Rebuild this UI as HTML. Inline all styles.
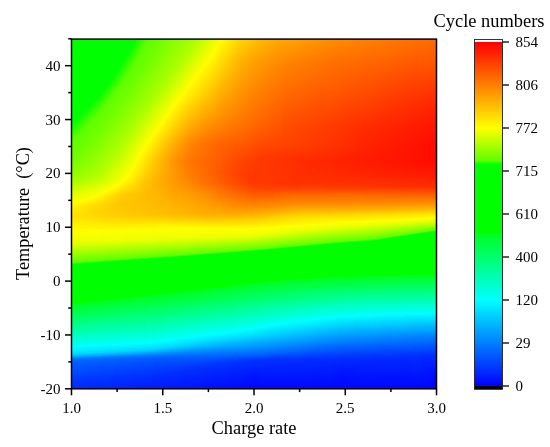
<!DOCTYPE html><html><head><meta charset="utf-8"><title>Cycle numbers</title><style>html,body{margin:0;padding:0;background:#fff}body{width:550px;height:447px;overflow:hidden}</style></head><body><svg width="550" height="447" viewBox="0 0 550 447" style="display:block"><rect width="550" height="447" fill="#fff"/><defs><linearGradient id="g0" x1="0" y1="0" x2="0" y2="1"><stop offset="0.001429" stop-color="#00ff00"/><stop offset="0.2386" stop-color="#01ff00"/><stop offset="0.2929" stop-color="#5eff00"/><stop offset="0.3443" stop-color="#6fff00"/><stop offset="0.3614" stop-color="#7bff00"/><stop offset="0.41" stop-color="#a9ff00"/><stop offset="0.4471" stop-color="#e8ff00"/><stop offset="0.4671" stop-color="#ffff00"/><stop offset="0.47" stop-color="#fffc00"/><stop offset="0.4843" stop-color="#ffef00"/><stop offset="0.5071" stop-color="#ffe200"/><stop offset="0.5529" stop-color="#ffff00"/><stop offset="0.5786" stop-color="#edff00"/><stop offset="0.5871" stop-color="#dcff00"/><stop offset="0.6357" stop-color="#64ff00"/><stop offset="0.6386" stop-color="#53ff00"/><stop offset="0.6443" stop-color="#00ff00"/><stop offset="0.7557" stop-color="#00ff00"/><stop offset="0.7586" stop-color="#00ff21"/><stop offset="0.8786" stop-color="#00fffd"/><stop offset="0.8929" stop-color="#00e7ff"/><stop offset="0.8986" stop-color="#00daff"/><stop offset="0.9014" stop-color="#00cfff"/><stop offset="0.9043" stop-color="#00beff"/><stop offset="0.9129" stop-color="#007dff"/><stop offset="0.9157" stop-color="#006eff"/><stop offset="0.9186" stop-color="#0066ff"/><stop offset="0.9243" stop-color="#005eff"/><stop offset="0.9729" stop-color="#0038ff"/><stop offset="0.9986" stop-color="#002aff"/></linearGradient><linearGradient id="g1" x1="0" y1="0" x2="0" y2="1"><stop offset="0.001429" stop-color="#00ff00"/><stop offset="0.2329" stop-color="#00ff00"/><stop offset="0.2871" stop-color="#5dff00"/><stop offset="0.3414" stop-color="#70ff00"/><stop offset="0.3671" stop-color="#82ff00"/><stop offset="0.41" stop-color="#abff00"/><stop offset="0.4443" stop-color="#e5ff00"/><stop offset="0.4671" stop-color="#fffe00"/><stop offset="0.4814" stop-color="#ffee00"/><stop offset="0.5043" stop-color="#ffe200"/><stop offset="0.5529" stop-color="#feff00"/><stop offset="0.5786" stop-color="#edff00"/><stop offset="0.5871" stop-color="#dcff00"/><stop offset="0.6357" stop-color="#63ff00"/><stop offset="0.6386" stop-color="#4eff00"/><stop offset="0.6443" stop-color="#00ff00"/><stop offset="0.7557" stop-color="#00ff00"/><stop offset="0.7586" stop-color="#00ff22"/><stop offset="0.8786" stop-color="#00fffd"/><stop offset="0.8929" stop-color="#00e7ff"/><stop offset="0.8986" stop-color="#00d9ff"/><stop offset="0.9014" stop-color="#00ceff"/><stop offset="0.9043" stop-color="#00bcff"/><stop offset="0.9129" stop-color="#007cff"/><stop offset="0.9157" stop-color="#006dff"/><stop offset="0.9186" stop-color="#0065ff"/><stop offset="0.9271" stop-color="#005bff"/><stop offset="0.9729" stop-color="#0038ff"/><stop offset="0.9986" stop-color="#002aff"/></linearGradient><linearGradient id="g2" x1="0" y1="0" x2="0" y2="1"><stop offset="0.001429" stop-color="#00ff00"/><stop offset="0.2271" stop-color="#00ff00"/><stop offset="0.2814" stop-color="#5eff00"/><stop offset="0.3357" stop-color="#71ff00"/><stop offset="0.37" stop-color="#87ff00"/><stop offset="0.4071" stop-color="#aaff00"/><stop offset="0.4443" stop-color="#e7ff00"/><stop offset="0.4643" stop-color="#ffff00"/><stop offset="0.4671" stop-color="#fffc00"/><stop offset="0.4814" stop-color="#ffec00"/><stop offset="0.5043" stop-color="#ffe000"/><stop offset="0.5529" stop-color="#feff00"/><stop offset="0.5786" stop-color="#ecff00"/><stop offset="0.5871" stop-color="#dbff00"/><stop offset="0.6357" stop-color="#62ff00"/><stop offset="0.6386" stop-color="#49ff00"/><stop offset="0.6414" stop-color="#1fff00"/><stop offset="0.6443" stop-color="#00ff00"/><stop offset="0.7529" stop-color="#00ff00"/><stop offset="0.7557" stop-color="#00ff0a"/><stop offset="0.7586" stop-color="#00ff23"/><stop offset="0.8786" stop-color="#00fffe"/><stop offset="0.8929" stop-color="#00e6ff"/><stop offset="0.8986" stop-color="#00d8ff"/><stop offset="0.9014" stop-color="#00ccff"/><stop offset="0.9043" stop-color="#00baff"/><stop offset="0.9129" stop-color="#007aff"/><stop offset="0.9157" stop-color="#006cff"/><stop offset="0.9186" stop-color="#0065ff"/><stop offset="0.9729" stop-color="#0037ff"/><stop offset="0.9986" stop-color="#0029ff"/></linearGradient><linearGradient id="g3" x1="0" y1="0" x2="0" y2="1"><stop offset="0.001429" stop-color="#00ff00"/><stop offset="0.2214" stop-color="#00ff00"/><stop offset="0.2757" stop-color="#5eff00"/><stop offset="0.3329" stop-color="#72ff00"/><stop offset="0.3757" stop-color="#8eff00"/><stop offset="0.4071" stop-color="#adff00"/><stop offset="0.4443" stop-color="#e9ff00"/><stop offset="0.4643" stop-color="#fffd00"/><stop offset="0.4786" stop-color="#ffeb00"/><stop offset="0.5043" stop-color="#ffdf00"/><stop offset="0.55" stop-color="#fffe00"/><stop offset="0.5786" stop-color="#ecff00"/><stop offset="0.5871" stop-color="#daff00"/><stop offset="0.6357" stop-color="#61ff00"/><stop offset="0.6386" stop-color="#43ff00"/><stop offset="0.6414" stop-color="#19ff00"/><stop offset="0.6443" stop-color="#00ff00"/><stop offset="0.7529" stop-color="#00ff00"/><stop offset="0.7557" stop-color="#00ff1f"/><stop offset="0.8786" stop-color="#00ffff"/><stop offset="0.8929" stop-color="#00e6ff"/><stop offset="0.8986" stop-color="#00d7ff"/><stop offset="0.9014" stop-color="#00caff"/><stop offset="0.9043" stop-color="#00b8ff"/><stop offset="0.9129" stop-color="#0078ff"/><stop offset="0.9157" stop-color="#006bff"/><stop offset="0.9186" stop-color="#0064ff"/><stop offset="0.9729" stop-color="#0037ff"/><stop offset="0.9986" stop-color="#0029ff"/></linearGradient><linearGradient id="g4" x1="0" y1="0" x2="0" y2="1"><stop offset="0.001429" stop-color="#00ff00"/><stop offset="0.2157" stop-color="#00ff00"/><stop offset="0.27" stop-color="#5fff00"/><stop offset="0.3271" stop-color="#72ff00"/><stop offset="0.3814" stop-color="#96ff00"/><stop offset="0.4043" stop-color="#acff00"/><stop offset="0.4443" stop-color="#ebff00"/><stop offset="0.4614" stop-color="#fffe00"/><stop offset="0.4786" stop-color="#ffe900"/><stop offset="0.5043" stop-color="#ffde00"/><stop offset="0.55" stop-color="#fffe00"/><stop offset="0.5786" stop-color="#ecff00"/><stop offset="0.5871" stop-color="#daff00"/><stop offset="0.6357" stop-color="#60ff00"/><stop offset="0.6386" stop-color="#3dff00"/><stop offset="0.6414" stop-color="#13ff00"/><stop offset="0.6443" stop-color="#00ff00"/><stop offset="0.7529" stop-color="#00ff00"/><stop offset="0.7557" stop-color="#00ff20"/><stop offset="0.8786" stop-color="#00ffff"/><stop offset="0.8929" stop-color="#00e5ff"/><stop offset="0.8986" stop-color="#00d6ff"/><stop offset="0.9014" stop-color="#00c9ff"/><stop offset="0.9043" stop-color="#00b6ff"/><stop offset="0.91" stop-color="#0089ff"/><stop offset="0.9129" stop-color="#0077ff"/><stop offset="0.9157" stop-color="#006bff"/><stop offset="0.9186" stop-color="#0064ff"/><stop offset="0.9729" stop-color="#0037ff"/><stop offset="0.9986" stop-color="#0029ff"/></linearGradient><linearGradient id="g5" x1="0" y1="0" x2="0" y2="1"><stop offset="0.001429" stop-color="#00ff00"/><stop offset="0.21" stop-color="#00ff00"/><stop offset="0.2643" stop-color="#5fff00"/><stop offset="0.3243" stop-color="#74ff00"/><stop offset="0.3843" stop-color="#9bff00"/><stop offset="0.4043" stop-color="#afff00"/><stop offset="0.4443" stop-color="#edff00"/><stop offset="0.4614" stop-color="#fffd00"/><stop offset="0.4786" stop-color="#ffe600"/><stop offset="0.5043" stop-color="#ffdd00"/><stop offset="0.55" stop-color="#fffe00"/><stop offset="0.5786" stop-color="#ebff00"/><stop offset="0.5871" stop-color="#d9ff00"/><stop offset="0.6357" stop-color="#5fff00"/><stop offset="0.6414" stop-color="#0dff00"/><stop offset="0.6443" stop-color="#00ff00"/><stop offset="0.7529" stop-color="#00ff00"/><stop offset="0.7557" stop-color="#00ff21"/><stop offset="0.8786" stop-color="#00feff"/><stop offset="0.8929" stop-color="#00e4ff"/><stop offset="0.8986" stop-color="#00d5ff"/><stop offset="0.9014" stop-color="#00c7ff"/><stop offset="0.91" stop-color="#0087ff"/><stop offset="0.9129" stop-color="#0075ff"/><stop offset="0.9157" stop-color="#006aff"/><stop offset="0.9186" stop-color="#0063ff"/><stop offset="0.9729" stop-color="#0036ff"/><stop offset="0.9986" stop-color="#0028ff"/></linearGradient><linearGradient id="g6" x1="0" y1="0" x2="0" y2="1"><stop offset="0.001429" stop-color="#00ff00"/><stop offset="0.2043" stop-color="#00ff00"/><stop offset="0.2557" stop-color="#5dff00"/><stop offset="0.3214" stop-color="#75ff00"/><stop offset="0.3643" stop-color="#8eff00"/><stop offset="0.3871" stop-color="#9fff00"/><stop offset="0.4014" stop-color="#aeff00"/><stop offset="0.4443" stop-color="#efff00"/><stop offset="0.4586" stop-color="#fffe00"/><stop offset="0.4786" stop-color="#ffe400"/><stop offset="0.5043" stop-color="#ffdc00"/><stop offset="0.55" stop-color="#fffe00"/><stop offset="0.5786" stop-color="#ebff00"/><stop offset="0.5871" stop-color="#d9ff00"/><stop offset="0.6329" stop-color="#66ff00"/><stop offset="0.6357" stop-color="#5bff00"/><stop offset="0.6414" stop-color="#07ff00"/><stop offset="0.6443" stop-color="#00ff00"/><stop offset="0.7529" stop-color="#00ff00"/><stop offset="0.7557" stop-color="#00ff22"/><stop offset="0.8786" stop-color="#00feff"/><stop offset="0.8929" stop-color="#00e4ff"/><stop offset="0.8986" stop-color="#00d3ff"/><stop offset="0.9014" stop-color="#00c5ff"/><stop offset="0.91" stop-color="#0085ff"/><stop offset="0.9129" stop-color="#0074ff"/><stop offset="0.9157" stop-color="#0069ff"/><stop offset="0.9186" stop-color="#0063ff"/><stop offset="0.9729" stop-color="#0036ff"/><stop offset="0.9986" stop-color="#0028ff"/></linearGradient><linearGradient id="g7" x1="0" y1="0" x2="0" y2="1"><stop offset="0.001429" stop-color="#00ff00"/><stop offset="0.1986" stop-color="#00ff00"/><stop offset="0.25" stop-color="#5eff00"/><stop offset="0.31" stop-color="#73ff00"/><stop offset="0.3786" stop-color="#9bff00"/><stop offset="0.3986" stop-color="#adff00"/><stop offset="0.4443" stop-color="#f1ff00"/><stop offset="0.4586" stop-color="#fffc00"/><stop offset="0.4786" stop-color="#ffe100"/><stop offset="0.5014" stop-color="#ffdb00"/><stop offset="0.51" stop-color="#ffde00"/><stop offset="0.55" stop-color="#fffe00"/><stop offset="0.5786" stop-color="#ebff00"/><stop offset="0.5871" stop-color="#d8ff00"/><stop offset="0.6329" stop-color="#65ff00"/><stop offset="0.6357" stop-color="#56ff00"/><stop offset="0.6414" stop-color="#01ff00"/><stop offset="0.75" stop-color="#00ff00"/><stop offset="0.7557" stop-color="#00ff23"/><stop offset="0.8786" stop-color="#00fdff"/><stop offset="0.8929" stop-color="#00e3ff"/><stop offset="0.8986" stop-color="#00d2ff"/><stop offset="0.9014" stop-color="#00c3ff"/><stop offset="0.91" stop-color="#0083ff"/><stop offset="0.9129" stop-color="#0073ff"/><stop offset="0.9186" stop-color="#0062ff"/><stop offset="0.9729" stop-color="#0035ff"/><stop offset="0.9986" stop-color="#0027ff"/></linearGradient><linearGradient id="g8" x1="0" y1="0" x2="0" y2="1"><stop offset="0.001429" stop-color="#00ff00"/><stop offset="0.1929" stop-color="#00ff00"/><stop offset="0.2443" stop-color="#5eff00"/><stop offset="0.3043" stop-color="#73ff00"/><stop offset="0.3471" stop-color="#89ff00"/><stop offset="0.3843" stop-color="#a2ff00"/><stop offset="0.3986" stop-color="#b0ff00"/><stop offset="0.4414" stop-color="#efff00"/><stop offset="0.4557" stop-color="#fffd00"/><stop offset="0.4786" stop-color="#ffde00"/><stop offset="0.5014" stop-color="#ffda00"/><stop offset="0.51" stop-color="#ffdd00"/><stop offset="0.55" stop-color="#ffff00"/><stop offset="0.5786" stop-color="#ebff00"/><stop offset="0.5871" stop-color="#d8ff00"/><stop offset="0.6329" stop-color="#64ff00"/><stop offset="0.6357" stop-color="#50ff00"/><stop offset="0.6414" stop-color="#00ff00"/><stop offset="0.75" stop-color="#00ff00"/><stop offset="0.7529" stop-color="#00ff1f"/><stop offset="0.8757" stop-color="#00fffc"/><stop offset="0.8814" stop-color="#00f8ff"/><stop offset="0.8957" stop-color="#00dbff"/><stop offset="0.9014" stop-color="#00c1ff"/><stop offset="0.91" stop-color="#0082ff"/><stop offset="0.9129" stop-color="#0072ff"/><stop offset="0.9186" stop-color="#0062ff"/><stop offset="0.97" stop-color="#0037ff"/><stop offset="0.9986" stop-color="#0027ff"/></linearGradient><linearGradient id="g9" x1="0" y1="0" x2="0" y2="1"><stop offset="0.001429" stop-color="#00ff00"/><stop offset="0.1871" stop-color="#00ff00"/><stop offset="0.2386" stop-color="#5fff00"/><stop offset="0.2957" stop-color="#72ff00"/><stop offset="0.35" stop-color="#8eff00"/><stop offset="0.3843" stop-color="#a4ff00"/><stop offset="0.3986" stop-color="#b2ff00"/><stop offset="0.4414" stop-color="#f1ff00"/><stop offset="0.4529" stop-color="#fffe00"/><stop offset="0.4786" stop-color="#ffdc00"/><stop offset="0.4986" stop-color="#ffd900"/><stop offset="0.51" stop-color="#ffdc00"/><stop offset="0.55" stop-color="#ffff00"/><stop offset="0.5757" stop-color="#eeff00"/><stop offset="0.5843" stop-color="#deff00"/><stop offset="0.6329" stop-color="#63ff00"/><stop offset="0.6357" stop-color="#4aff00"/><stop offset="0.6386" stop-color="#20ff00"/><stop offset="0.6414" stop-color="#00ff00"/><stop offset="0.75" stop-color="#00ff00"/><stop offset="0.7529" stop-color="#00ff20"/><stop offset="0.8757" stop-color="#00fffc"/><stop offset="0.8871" stop-color="#00edff"/><stop offset="0.8957" stop-color="#00daff"/><stop offset="0.9014" stop-color="#00bfff"/><stop offset="0.91" stop-color="#0080ff"/><stop offset="0.9129" stop-color="#0071ff"/><stop offset="0.9186" stop-color="#0061ff"/><stop offset="0.97" stop-color="#0036ff"/><stop offset="0.9986" stop-color="#0027ff"/></linearGradient><linearGradient id="g10" x1="0" y1="0" x2="0" y2="1"><stop offset="0.001429" stop-color="#00ff00"/><stop offset="0.1814" stop-color="#00ff00"/><stop offset="0.2271" stop-color="#58ff00"/><stop offset="0.2329" stop-color="#60ff00"/><stop offset="0.29" stop-color="#73ff00"/><stop offset="0.3529" stop-color="#93ff00"/><stop offset="0.3871" stop-color="#a9ff00"/><stop offset="0.3986" stop-color="#b5ff00"/><stop offset="0.4414" stop-color="#f4ff00"/><stop offset="0.4529" stop-color="#fffd00"/><stop offset="0.4786" stop-color="#ffdb00"/><stop offset="0.4986" stop-color="#ffd700"/><stop offset="0.51" stop-color="#ffdb00"/><stop offset="0.55" stop-color="#ffff00"/><stop offset="0.5757" stop-color="#eeff00"/><stop offset="0.5843" stop-color="#deff00"/><stop offset="0.6329" stop-color="#62ff00"/><stop offset="0.6357" stop-color="#45ff00"/><stop offset="0.6386" stop-color="#1aff00"/><stop offset="0.6414" stop-color="#00ff00"/><stop offset="0.75" stop-color="#00ff00"/><stop offset="0.7529" stop-color="#00ff22"/><stop offset="0.8757" stop-color="#00fffd"/><stop offset="0.89" stop-color="#00e7ff"/><stop offset="0.8957" stop-color="#00d9ff"/><stop offset="0.9014" stop-color="#00bdff"/><stop offset="0.91" stop-color="#007fff"/><stop offset="0.9129" stop-color="#0070ff"/><stop offset="0.9186" stop-color="#0061ff"/><stop offset="0.97" stop-color="#0036ff"/><stop offset="0.9986" stop-color="#0026ff"/></linearGradient><linearGradient id="g11" x1="0" y1="0" x2="0" y2="1"><stop offset="0.001429" stop-color="#00ff00"/><stop offset="0.1757" stop-color="#01ff00"/><stop offset="0.2243" stop-color="#5dff00"/><stop offset="0.2871" stop-color="#75ff00"/><stop offset="0.3843" stop-color="#a9ff00"/><stop offset="0.3957" stop-color="#b4ff00"/><stop offset="0.45" stop-color="#fffe00"/><stop offset="0.4786" stop-color="#ffd900"/><stop offset="0.4986" stop-color="#ffd600"/><stop offset="0.51" stop-color="#ffdb00"/><stop offset="0.55" stop-color="#ffff00"/><stop offset="0.5757" stop-color="#eeff00"/><stop offset="0.5843" stop-color="#ddff00"/><stop offset="0.6329" stop-color="#61ff00"/><stop offset="0.6357" stop-color="#3fff00"/><stop offset="0.6386" stop-color="#13ff00"/><stop offset="0.6414" stop-color="#00ff00"/><stop offset="0.75" stop-color="#00ff00"/><stop offset="0.7529" stop-color="#00ff23"/><stop offset="0.8757" stop-color="#00fffe"/><stop offset="0.89" stop-color="#00e6ff"/><stop offset="0.8957" stop-color="#00d8ff"/><stop offset="0.9014" stop-color="#00bbff"/><stop offset="0.91" stop-color="#007dff"/><stop offset="0.9129" stop-color="#006fff"/><stop offset="0.9186" stop-color="#0061ff"/><stop offset="0.97" stop-color="#0036ff"/><stop offset="0.9986" stop-color="#0026ff"/></linearGradient><linearGradient id="g12" x1="0" y1="0" x2="0" y2="1"><stop offset="0.001429" stop-color="#00ff00"/><stop offset="0.17" stop-color="#01ff00"/><stop offset="0.2186" stop-color="#5eff00"/><stop offset="0.2786" stop-color="#74ff00"/><stop offset="0.3843" stop-color="#abff00"/><stop offset="0.3957" stop-color="#b7ff00"/><stop offset="0.4471" stop-color="#fffe00"/><stop offset="0.4757" stop-color="#ffda00"/><stop offset="0.4986" stop-color="#ffd500"/><stop offset="0.51" stop-color="#ffda00"/><stop offset="0.55" stop-color="#ffff00"/><stop offset="0.5729" stop-color="#f0ff00"/><stop offset="0.5786" stop-color="#e9ff00"/><stop offset="0.5843" stop-color="#ddff00"/><stop offset="0.6329" stop-color="#60ff00"/><stop offset="0.6386" stop-color="#0dff00"/><stop offset="0.6414" stop-color="#00ff00"/><stop offset="0.7471" stop-color="#00ff00"/><stop offset="0.75" stop-color="#00ff1f"/><stop offset="0.8757" stop-color="#00fffe"/><stop offset="0.89" stop-color="#00e6ff"/><stop offset="0.8957" stop-color="#00d7ff"/><stop offset="0.9014" stop-color="#00b9ff"/><stop offset="0.91" stop-color="#007cff"/><stop offset="0.9129" stop-color="#006eff"/><stop offset="0.9157" stop-color="#0065ff"/><stop offset="0.9271" stop-color="#0058ff"/><stop offset="0.9671" stop-color="#0037ff"/><stop offset="0.9986" stop-color="#0026ff"/></linearGradient><linearGradient id="g13" x1="0" y1="0" x2="0" y2="1"><stop offset="0.001429" stop-color="#00ff00"/><stop offset="0.1614" stop-color="#00ff00"/><stop offset="0.1729" stop-color="#12ff00"/><stop offset="0.2129" stop-color="#60ff00"/><stop offset="0.27" stop-color="#73ff00"/><stop offset="0.3814" stop-color="#acff00"/><stop offset="0.3929" stop-color="#b7ff00"/><stop offset="0.4443" stop-color="#fffe00"/><stop offset="0.4471" stop-color="#fffb00"/><stop offset="0.4757" stop-color="#ffd800"/><stop offset="0.4986" stop-color="#ffd400"/><stop offset="0.51" stop-color="#ffd900"/><stop offset="0.55" stop-color="#ffff00"/><stop offset="0.5729" stop-color="#f0ff00"/><stop offset="0.5786" stop-color="#e9ff00"/><stop offset="0.5843" stop-color="#dcff00"/><stop offset="0.6329" stop-color="#5dff00"/><stop offset="0.6386" stop-color="#07ff00"/><stop offset="0.6414" stop-color="#00ff00"/><stop offset="0.7471" stop-color="#00ff00"/><stop offset="0.75" stop-color="#00ff20"/><stop offset="0.8757" stop-color="#00ffff"/><stop offset="0.89" stop-color="#00e5ff"/><stop offset="0.8957" stop-color="#00d5ff"/><stop offset="0.9014" stop-color="#00b7ff"/><stop offset="0.91" stop-color="#007aff"/><stop offset="0.9129" stop-color="#006dff"/><stop offset="0.9157" stop-color="#0065ff"/><stop offset="0.9329" stop-color="#0053ff"/><stop offset="0.9671" stop-color="#0037ff"/><stop offset="0.9986" stop-color="#0025ff"/></linearGradient><linearGradient id="g14" x1="0" y1="0" x2="0" y2="1"><stop offset="0.001429" stop-color="#00ff00"/><stop offset="0.1529" stop-color="#00ff00"/><stop offset="0.1586" stop-color="#06ff00"/><stop offset="0.2014" stop-color="#58ff00"/><stop offset="0.2071" stop-color="#60ff00"/><stop offset="0.2614" stop-color="#73ff00"/><stop offset="0.3729" stop-color="#abff00"/><stop offset="0.3957" stop-color="#bfff00"/><stop offset="0.4386" stop-color="#faff00"/><stop offset="0.4443" stop-color="#fffb00"/><stop offset="0.4757" stop-color="#ffd600"/><stop offset="0.4957" stop-color="#ffd300"/><stop offset="0.51" stop-color="#ffd800"/><stop offset="0.5471" stop-color="#fffd00"/><stop offset="0.5729" stop-color="#f0ff00"/><stop offset="0.5786" stop-color="#e8ff00"/><stop offset="0.5843" stop-color="#dcff00"/><stop offset="0.63" stop-color="#65ff00"/><stop offset="0.6329" stop-color="#58ff00"/><stop offset="0.6386" stop-color="#01ff00"/><stop offset="0.7471" stop-color="#00ff00"/><stop offset="0.75" stop-color="#00ff21"/><stop offset="0.8757" stop-color="#00ffff"/><stop offset="0.89" stop-color="#00e4ff"/><stop offset="0.8957" stop-color="#00d4ff"/><stop offset="0.9014" stop-color="#00b4ff"/><stop offset="0.91" stop-color="#0079ff"/><stop offset="0.9157" stop-color="#0064ff"/><stop offset="0.9329" stop-color="#0052ff"/><stop offset="0.9671" stop-color="#0036ff"/><stop offset="0.9986" stop-color="#0025ff"/></linearGradient><linearGradient id="g15" x1="0" y1="0" x2="0" y2="1"><stop offset="0.001429" stop-color="#00ff00"/><stop offset="0.1471" stop-color="#01ff00"/><stop offset="0.1986" stop-color="#5eff00"/><stop offset="0.2557" stop-color="#73ff00"/><stop offset="0.37" stop-color="#adff00"/><stop offset="0.4014" stop-color="#cbff00"/><stop offset="0.4357" stop-color="#faff00"/><stop offset="0.4414" stop-color="#fffb00"/><stop offset="0.4729" stop-color="#ffd600"/><stop offset="0.4814" stop-color="#ffd200"/><stop offset="0.4929" stop-color="#ffd200"/><stop offset="0.5071" stop-color="#ffd500"/><stop offset="0.5471" stop-color="#fffe00"/><stop offset="0.5729" stop-color="#f0ff00"/><stop offset="0.5786" stop-color="#e8ff00"/><stop offset="0.5843" stop-color="#dbff00"/><stop offset="0.63" stop-color="#64ff00"/><stop offset="0.6329" stop-color="#52ff00"/><stop offset="0.6386" stop-color="#00ff00"/><stop offset="0.7471" stop-color="#00ff00"/><stop offset="0.75" stop-color="#00ff22"/><stop offset="0.8757" stop-color="#00feff"/><stop offset="0.89" stop-color="#00e3ff"/><stop offset="0.8957" stop-color="#00d3ff"/><stop offset="0.8986" stop-color="#00c4ff"/><stop offset="0.91" stop-color="#0077ff"/><stop offset="0.9157" stop-color="#0064ff"/><stop offset="0.9357" stop-color="#004fff"/><stop offset="0.9671" stop-color="#0036ff"/><stop offset="0.9986" stop-color="#0024ff"/></linearGradient><linearGradient id="g16" x1="0" y1="0" x2="0" y2="1"><stop offset="0.001429" stop-color="#00ff00"/><stop offset="0.1386" stop-color="#00ff00"/><stop offset="0.1443" stop-color="#06ff00"/><stop offset="0.1929" stop-color="#5fff00"/><stop offset="0.2471" stop-color="#73ff00"/><stop offset="0.3614" stop-color="#acff00"/><stop offset="0.3814" stop-color="#bbff00"/><stop offset="0.4043" stop-color="#d3ff00"/><stop offset="0.4357" stop-color="#feff00"/><stop offset="0.4386" stop-color="#fffb00"/><stop offset="0.45" stop-color="#ffea00"/><stop offset="0.47" stop-color="#ffd700"/><stop offset="0.4786" stop-color="#ffd100"/><stop offset="0.4871" stop-color="#ffd000"/><stop offset="0.5071" stop-color="#ffd400"/><stop offset="0.5471" stop-color="#fffe00"/><stop offset="0.5729" stop-color="#f0ff00"/><stop offset="0.5786" stop-color="#e8ff00"/><stop offset="0.5843" stop-color="#dbff00"/><stop offset="0.63" stop-color="#63ff00"/><stop offset="0.6329" stop-color="#4cff00"/><stop offset="0.6357" stop-color="#20ff00"/><stop offset="0.6386" stop-color="#00ff00"/><stop offset="0.7443" stop-color="#00ff00"/><stop offset="0.7471" stop-color="#00ff0f"/><stop offset="0.75" stop-color="#00ff23"/><stop offset="0.8729" stop-color="#00fffb"/><stop offset="0.8757" stop-color="#00feff"/><stop offset="0.8871" stop-color="#00e9ff"/><stop offset="0.8957" stop-color="#00d1ff"/><stop offset="0.8986" stop-color="#00c3ff"/><stop offset="0.91" stop-color="#0076ff"/><stop offset="0.9157" stop-color="#0063ff"/><stop offset="0.9357" stop-color="#004fff"/><stop offset="0.9671" stop-color="#0036ff"/><stop offset="0.9986" stop-color="#0024ff"/></linearGradient><linearGradient id="g17" x1="0" y1="0" x2="0" y2="1"><stop offset="0.001429" stop-color="#00ff00"/><stop offset="0.1329" stop-color="#01ff00"/><stop offset="0.1814" stop-color="#5aff00"/><stop offset="0.1871" stop-color="#60ff00"/><stop offset="0.2386" stop-color="#72ff00"/><stop offset="0.3557" stop-color="#adff00"/><stop offset="0.39" stop-color="#c9ff00"/><stop offset="0.4186" stop-color="#e9ff00"/><stop offset="0.4329" stop-color="#feff00"/><stop offset="0.4357" stop-color="#fffc00"/><stop offset="0.4529" stop-color="#ffe300"/><stop offset="0.4729" stop-color="#ffd200"/><stop offset="0.4843" stop-color="#ffcf00"/><stop offset="0.5071" stop-color="#ffd300"/><stop offset="0.5471" stop-color="#fffe00"/><stop offset="0.5729" stop-color="#efff00"/><stop offset="0.5786" stop-color="#e7ff00"/><stop offset="0.5843" stop-color="#daff00"/><stop offset="0.63" stop-color="#62ff00"/><stop offset="0.6329" stop-color="#46ff00"/><stop offset="0.6357" stop-color="#1aff00"/><stop offset="0.6386" stop-color="#00ff00"/><stop offset="0.7443" stop-color="#00ff00"/><stop offset="0.7471" stop-color="#00ff1f"/><stop offset="0.8729" stop-color="#00fffc"/><stop offset="0.8786" stop-color="#00f8ff"/><stop offset="0.8929" stop-color="#00daff"/><stop offset="0.8986" stop-color="#00c1ff"/><stop offset="0.9071" stop-color="#0085ff"/><stop offset="0.91" stop-color="#0075ff"/><stop offset="0.9157" stop-color="#0063ff"/><stop offset="0.9357" stop-color="#004eff"/><stop offset="0.9643" stop-color="#0037ff"/><stop offset="0.9986" stop-color="#0024ff"/></linearGradient><linearGradient id="g18" x1="0" y1="0" x2="0" y2="1"><stop offset="0.001429" stop-color="#00ff00"/><stop offset="0.1243" stop-color="#00ff00"/><stop offset="0.13" stop-color="#07ff00"/><stop offset="0.1729" stop-color="#58ff00"/><stop offset="0.1786" stop-color="#60ff00"/><stop offset="0.23" stop-color="#71ff00"/><stop offset="0.3471" stop-color="#acff00"/><stop offset="0.3929" stop-color="#d0ff00"/><stop offset="0.4329" stop-color="#fffc00"/><stop offset="0.45" stop-color="#ffe100"/><stop offset="0.4729" stop-color="#ffd000"/><stop offset="0.4843" stop-color="#ffce00"/><stop offset="0.5071" stop-color="#ffd300"/><stop offset="0.5471" stop-color="#fffe00"/><stop offset="0.57" stop-color="#f2ff00"/><stop offset="0.5757" stop-color="#ecff00"/><stop offset="0.5814" stop-color="#e1ff00"/><stop offset="0.63" stop-color="#61ff00"/><stop offset="0.6329" stop-color="#40ff00"/><stop offset="0.6357" stop-color="#14ff00"/><stop offset="0.6386" stop-color="#00ff00"/><stop offset="0.7443" stop-color="#00ff00"/><stop offset="0.7471" stop-color="#00ff20"/><stop offset="0.8729" stop-color="#00fffc"/><stop offset="0.8814" stop-color="#00f2ff"/><stop offset="0.8929" stop-color="#00d9ff"/><stop offset="0.8986" stop-color="#00bfff"/><stop offset="0.9071" stop-color="#0083ff"/><stop offset="0.91" stop-color="#0073ff"/><stop offset="0.9157" stop-color="#0062ff"/><stop offset="0.9643" stop-color="#0037ff"/><stop offset="0.9986" stop-color="#0023ff"/></linearGradient><linearGradient id="g19" x1="0" y1="0" x2="0" y2="1"><stop offset="0.001429" stop-color="#00ff00"/><stop offset="0.1186" stop-color="#01ff00"/><stop offset="0.17" stop-color="#5eff00"/><stop offset="0.2243" stop-color="#72ff00"/><stop offset="0.3386" stop-color="#abff00"/><stop offset="0.3957" stop-color="#d8ff00"/><stop offset="0.43" stop-color="#fffd00"/><stop offset="0.45" stop-color="#ffdd00"/><stop offset="0.4814" stop-color="#ffcc00"/><stop offset="0.5071" stop-color="#ffd200"/><stop offset="0.5471" stop-color="#fffe00"/><stop offset="0.57" stop-color="#f1ff00"/><stop offset="0.5757" stop-color="#ecff00"/><stop offset="0.5814" stop-color="#e0ff00"/><stop offset="0.63" stop-color="#60ff00"/><stop offset="0.6329" stop-color="#3aff00"/><stop offset="0.6357" stop-color="#0dff00"/><stop offset="0.6386" stop-color="#00ff00"/><stop offset="0.7443" stop-color="#00ff00"/><stop offset="0.7471" stop-color="#00ff21"/><stop offset="0.8729" stop-color="#00fffd"/><stop offset="0.8843" stop-color="#00ecff"/><stop offset="0.8929" stop-color="#00d9ff"/><stop offset="0.8986" stop-color="#00bdff"/><stop offset="0.9071" stop-color="#0081ff"/><stop offset="0.91" stop-color="#0072ff"/><stop offset="0.9157" stop-color="#0062ff"/><stop offset="0.9643" stop-color="#0036ff"/><stop offset="0.9986" stop-color="#0023ff"/></linearGradient><linearGradient id="g20" x1="0" y1="0" x2="0" y2="1"><stop offset="0.001429" stop-color="#00ff00"/><stop offset="0.11" stop-color="#00ff00"/><stop offset="0.1157" stop-color="#08ff00"/><stop offset="0.1586" stop-color="#59ff00"/><stop offset="0.1643" stop-color="#60ff00"/><stop offset="0.2157" stop-color="#71ff00"/><stop offset="0.33" stop-color="#aaff00"/><stop offset="0.3957" stop-color="#ddff00"/><stop offset="0.4271" stop-color="#fffd00"/><stop offset="0.4471" stop-color="#ffdc00"/><stop offset="0.47" stop-color="#ffce00"/><stop offset="0.4814" stop-color="#ffcb00"/><stop offset="0.5071" stop-color="#ffd100"/><stop offset="0.5471" stop-color="#fffe00"/><stop offset="0.57" stop-color="#f1ff00"/><stop offset="0.5757" stop-color="#ebff00"/><stop offset="0.5814" stop-color="#e0ff00"/><stop offset="0.63" stop-color="#5fff00"/><stop offset="0.6357" stop-color="#07ff00"/><stop offset="0.6386" stop-color="#00ff00"/><stop offset="0.7443" stop-color="#00ff00"/><stop offset="0.7471" stop-color="#00ff22"/><stop offset="0.8729" stop-color="#00fffd"/><stop offset="0.8871" stop-color="#00e6ff"/><stop offset="0.8929" stop-color="#00d7ff"/><stop offset="0.8986" stop-color="#00bbff"/><stop offset="0.9071" stop-color="#0080ff"/><stop offset="0.91" stop-color="#0071ff"/><stop offset="0.9157" stop-color="#0061ff"/><stop offset="0.9643" stop-color="#0036ff"/><stop offset="0.9986" stop-color="#0022ff"/></linearGradient><linearGradient id="g21" x1="0" y1="0" x2="0" y2="1"><stop offset="0.001429" stop-color="#00ff00"/><stop offset="0.1014" stop-color="#01ff00"/><stop offset="0.1071" stop-color="#08ff00"/><stop offset="0.1557" stop-color="#5fff00"/><stop offset="0.21" stop-color="#72ff00"/><stop offset="0.3243" stop-color="#abff00"/><stop offset="0.3843" stop-color="#d8ff00"/><stop offset="0.4243" stop-color="#fffe00"/><stop offset="0.4471" stop-color="#ffd800"/><stop offset="0.4814" stop-color="#ffc900"/><stop offset="0.5071" stop-color="#ffd000"/><stop offset="0.5471" stop-color="#fffe00"/><stop offset="0.57" stop-color="#f1ff00"/><stop offset="0.5757" stop-color="#ebff00"/><stop offset="0.5814" stop-color="#dfff00"/><stop offset="0.6271" stop-color="#66ff00"/><stop offset="0.63" stop-color="#5aff00"/><stop offset="0.6357" stop-color="#01ff00"/><stop offset="0.7414" stop-color="#00ff00"/><stop offset="0.7443" stop-color="#00ff1e"/><stop offset="0.8729" stop-color="#00fffe"/><stop offset="0.8871" stop-color="#00e5ff"/><stop offset="0.8929" stop-color="#00d6ff"/><stop offset="0.8986" stop-color="#00b9ff"/><stop offset="0.9071" stop-color="#007eff"/><stop offset="0.91" stop-color="#0070ff"/><stop offset="0.9157" stop-color="#0061ff"/><stop offset="0.9357" stop-color="#004dff"/><stop offset="0.9643" stop-color="#0035ff"/><stop offset="0.9986" stop-color="#0022ff"/></linearGradient><linearGradient id="g22" x1="0" y1="0" x2="0" y2="1"><stop offset="0.001429" stop-color="#00ff00"/><stop offset="0.09286" stop-color="#01ff00"/><stop offset="0.1157" stop-color="#26ff00"/><stop offset="0.1471" stop-color="#5eff00"/><stop offset="0.2014" stop-color="#72ff00"/><stop offset="0.3157" stop-color="#abff00"/><stop offset="0.3814" stop-color="#dbff00"/><stop offset="0.4214" stop-color="#fffd00"/><stop offset="0.4471" stop-color="#ffd400"/><stop offset="0.4786" stop-color="#ffc800"/><stop offset="0.5071" stop-color="#ffcf00"/><stop offset="0.5471" stop-color="#fffe00"/><stop offset="0.57" stop-color="#f1ff00"/><stop offset="0.5757" stop-color="#ebff00"/><stop offset="0.5814" stop-color="#dfff00"/><stop offset="0.6271" stop-color="#65ff00"/><stop offset="0.63" stop-color="#54ff00"/><stop offset="0.6357" stop-color="#00ff00"/><stop offset="0.7414" stop-color="#00ff00"/><stop offset="0.7443" stop-color="#00ff1f"/><stop offset="0.8729" stop-color="#00fffe"/><stop offset="0.8871" stop-color="#00e5ff"/><stop offset="0.8929" stop-color="#00d5ff"/><stop offset="0.8986" stop-color="#00b7ff"/><stop offset="0.9071" stop-color="#007dff"/><stop offset="0.91" stop-color="#006fff"/><stop offset="0.9157" stop-color="#0061ff"/><stop offset="0.9357" stop-color="#004cff"/><stop offset="0.9643" stop-color="#0035ff"/><stop offset="0.9986" stop-color="#0022ff"/></linearGradient><linearGradient id="g23" x1="0" y1="0" x2="0" y2="1"><stop offset="0.001429" stop-color="#00ff00"/><stop offset="0.08143" stop-color="#00ff00"/><stop offset="0.08714" stop-color="#05ff00"/><stop offset="0.1414" stop-color="#60ff00"/><stop offset="0.1929" stop-color="#72ff00"/><stop offset="0.3071" stop-color="#aaff00"/><stop offset="0.3757" stop-color="#dbff00"/><stop offset="0.4129" stop-color="#fcff00"/><stop offset="0.4186" stop-color="#fffb00"/><stop offset="0.4471" stop-color="#ffd000"/><stop offset="0.4786" stop-color="#ffc700"/><stop offset="0.5071" stop-color="#ffcf00"/><stop offset="0.5471" stop-color="#ffff00"/><stop offset="0.57" stop-color="#f1ff00"/><stop offset="0.5757" stop-color="#eaff00"/><stop offset="0.5814" stop-color="#deff00"/><stop offset="0.6271" stop-color="#64ff00"/><stop offset="0.63" stop-color="#4eff00"/><stop offset="0.6329" stop-color="#21ff00"/><stop offset="0.6357" stop-color="#00ff00"/><stop offset="0.7414" stop-color="#00ff00"/><stop offset="0.7443" stop-color="#00ff21"/><stop offset="0.8729" stop-color="#00ffff"/><stop offset="0.8871" stop-color="#00e4ff"/><stop offset="0.8929" stop-color="#00d3ff"/><stop offset="0.8986" stop-color="#00b5ff"/><stop offset="0.9071" stop-color="#007cff"/><stop offset="0.91" stop-color="#006eff"/><stop offset="0.9157" stop-color="#0060ff"/><stop offset="0.9357" stop-color="#004cff"/><stop offset="0.9643" stop-color="#0035ff"/><stop offset="0.9986" stop-color="#0021ff"/></linearGradient><linearGradient id="g24" x1="0" y1="0" x2="0" y2="1"><stop offset="0.001429" stop-color="#00ff00"/><stop offset="0.07286" stop-color="#00ff00"/><stop offset="0.07857" stop-color="#07ff00"/><stop offset="0.1329" stop-color="#5fff00"/><stop offset="0.1871" stop-color="#72ff00"/><stop offset="0.2986" stop-color="#aaff00"/><stop offset="0.3757" stop-color="#e1ff00"/><stop offset="0.4129" stop-color="#fffd00"/><stop offset="0.4471" stop-color="#ffcd00"/><stop offset="0.4786" stop-color="#ffc600"/><stop offset="0.5071" stop-color="#ffce00"/><stop offset="0.5471" stop-color="#ffff00"/><stop offset="0.57" stop-color="#f1ff00"/><stop offset="0.5757" stop-color="#eaff00"/><stop offset="0.5814" stop-color="#deff00"/><stop offset="0.6271" stop-color="#63ff00"/><stop offset="0.63" stop-color="#48ff00"/><stop offset="0.6329" stop-color="#1bff00"/><stop offset="0.6357" stop-color="#00ff00"/><stop offset="0.7414" stop-color="#00ff00"/><stop offset="0.7443" stop-color="#00ff22"/><stop offset="0.8729" stop-color="#00ffff"/><stop offset="0.8871" stop-color="#00e3ff"/><stop offset="0.8929" stop-color="#00d2ff"/><stop offset="0.8986" stop-color="#00b3ff"/><stop offset="0.9071" stop-color="#007aff"/><stop offset="0.91" stop-color="#006dff"/><stop offset="0.9157" stop-color="#0060ff"/><stop offset="0.9357" stop-color="#004bff"/><stop offset="0.9643" stop-color="#0034ff"/><stop offset="0.9986" stop-color="#0021ff"/></linearGradient><linearGradient id="g25" x1="0" y1="0" x2="0" y2="1"><stop offset="0.001429" stop-color="#00ff00"/><stop offset="0.06429" stop-color="#01ff00"/><stop offset="0.1243" stop-color="#5fff00"/><stop offset="0.1786" stop-color="#72ff00"/><stop offset="0.29" stop-color="#aaff00"/><stop offset="0.4071" stop-color="#fffe00"/><stop offset="0.4471" stop-color="#ffcc00"/><stop offset="0.4757" stop-color="#ffc600"/><stop offset="0.5071" stop-color="#ffce00"/><stop offset="0.5471" stop-color="#ffff00"/><stop offset="0.57" stop-color="#f1ff00"/><stop offset="0.5757" stop-color="#eaff00"/><stop offset="0.5814" stop-color="#ddff00"/><stop offset="0.6271" stop-color="#62ff00"/><stop offset="0.63" stop-color="#41ff00"/><stop offset="0.6329" stop-color="#14ff00"/><stop offset="0.6357" stop-color="#00ff00"/><stop offset="0.7386" stop-color="#00ff00"/><stop offset="0.7414" stop-color="#00ff08"/><stop offset="0.7443" stop-color="#00ff23"/><stop offset="0.8729" stop-color="#00feff"/><stop offset="0.8871" stop-color="#00e2ff"/><stop offset="0.8929" stop-color="#00d1ff"/><stop offset="0.8957" stop-color="#00c3ff"/><stop offset="0.9071" stop-color="#0079ff"/><stop offset="0.9129" stop-color="#0064ff"/><stop offset="0.93" stop-color="#0050ff"/><stop offset="0.9586" stop-color="#0038ff"/><stop offset="0.9986" stop-color="#0021ff"/></linearGradient><linearGradient id="g26" x1="0" y1="0" x2="0" y2="1"><stop offset="0.001429" stop-color="#00ff00"/><stop offset="0.05286" stop-color="#00ff00"/><stop offset="0.05857" stop-color="#05ff00"/><stop offset="0.1157" stop-color="#5fff00"/><stop offset="0.17" stop-color="#72ff00"/><stop offset="0.2786" stop-color="#a8ff00"/><stop offset="0.3986" stop-color="#fdff00"/><stop offset="0.4043" stop-color="#fffc00"/><stop offset="0.4471" stop-color="#ffca00"/><stop offset="0.4757" stop-color="#ffc500"/><stop offset="0.5071" stop-color="#ffce00"/><stop offset="0.5386" stop-color="#fff700"/><stop offset="0.5471" stop-color="#ffff00"/><stop offset="0.57" stop-color="#f0ff00"/><stop offset="0.5757" stop-color="#e9ff00"/><stop offset="0.5814" stop-color="#dcff00"/><stop offset="0.6271" stop-color="#61ff00"/><stop offset="0.63" stop-color="#3bff00"/><stop offset="0.6329" stop-color="#0dff00"/><stop offset="0.6357" stop-color="#00ff00"/><stop offset="0.7386" stop-color="#00ff00"/><stop offset="0.7414" stop-color="#00ff1f"/><stop offset="0.87" stop-color="#00fffb"/><stop offset="0.8757" stop-color="#00f8ff"/><stop offset="0.89" stop-color="#00daff"/><stop offset="0.8957" stop-color="#00c1ff"/><stop offset="0.9071" stop-color="#0078ff"/><stop offset="0.9129" stop-color="#0064ff"/><stop offset="0.93" stop-color="#0050ff"/><stop offset="0.9586" stop-color="#0038ff"/><stop offset="0.9986" stop-color="#0020ff"/></linearGradient><linearGradient id="g27" x1="0" y1="0" x2="0" y2="1"><stop offset="0.001429" stop-color="#00ff00"/><stop offset="0.04429" stop-color="#01ff00"/><stop offset="0.1071" stop-color="#5fff00"/><stop offset="0.1614" stop-color="#71ff00"/><stop offset="0.27" stop-color="#a7ff00"/><stop offset="0.3386" stop-color="#d9ff00"/><stop offset="0.3929" stop-color="#feff00"/><stop offset="0.3986" stop-color="#fffc00"/><stop offset="0.4443" stop-color="#ffcb00"/><stop offset="0.4757" stop-color="#ffc400"/><stop offset="0.5071" stop-color="#ffcd00"/><stop offset="0.5443" stop-color="#fffd00"/><stop offset="0.57" stop-color="#f0ff00"/><stop offset="0.5757" stop-color="#e9ff00"/><stop offset="0.5814" stop-color="#dcff00"/><stop offset="0.6271" stop-color="#5fff00"/><stop offset="0.6329" stop-color="#07ff00"/><stop offset="0.6357" stop-color="#00ff00"/><stop offset="0.7386" stop-color="#00ff00"/><stop offset="0.7414" stop-color="#00ff20"/><stop offset="0.87" stop-color="#00fffc"/><stop offset="0.8757" stop-color="#00f8ff"/><stop offset="0.89" stop-color="#00d9ff"/><stop offset="0.8957" stop-color="#00bfff"/><stop offset="0.9071" stop-color="#0077ff"/><stop offset="0.9129" stop-color="#0063ff"/><stop offset="0.93" stop-color="#004fff"/><stop offset="0.9586" stop-color="#0037ff"/><stop offset="0.9986" stop-color="#0020ff"/></linearGradient><linearGradient id="g28" x1="0" y1="0" x2="0" y2="1"><stop offset="0.001429" stop-color="#00ff00"/><stop offset="0.03286" stop-color="#00ff00"/><stop offset="0.03857" stop-color="#04ff00"/><stop offset="0.09857" stop-color="#5fff00"/><stop offset="0.1557" stop-color="#72ff00"/><stop offset="0.2614" stop-color="#a7ff00"/><stop offset="0.3329" stop-color="#dcff00"/><stop offset="0.39" stop-color="#fffd00"/><stop offset="0.4443" stop-color="#ffca00"/><stop offset="0.4757" stop-color="#ffc300"/><stop offset="0.5071" stop-color="#ffcd00"/><stop offset="0.5443" stop-color="#fffe00"/><stop offset="0.5671" stop-color="#f2ff00"/><stop offset="0.5729" stop-color="#edff00"/><stop offset="0.5786" stop-color="#e2ff00"/><stop offset="0.6243" stop-color="#66ff00"/><stop offset="0.6271" stop-color="#5cff00"/><stop offset="0.6329" stop-color="#01ff00"/><stop offset="0.7386" stop-color="#00ff00"/><stop offset="0.7414" stop-color="#00ff21"/><stop offset="0.87" stop-color="#00fffc"/><stop offset="0.8786" stop-color="#00f2ff"/><stop offset="0.89" stop-color="#00d8ff"/><stop offset="0.8957" stop-color="#00bdff"/><stop offset="0.9071" stop-color="#0075ff"/><stop offset="0.9129" stop-color="#0063ff"/><stop offset="0.93" stop-color="#004fff"/><stop offset="0.9614" stop-color="#0034ff"/><stop offset="0.9986" stop-color="#001fff"/></linearGradient><linearGradient id="g29" x1="0" y1="0" x2="0" y2="1"><stop offset="0.001429" stop-color="#00ff00"/><stop offset="0.02714" stop-color="#03ff00"/><stop offset="0.08429" stop-color="#59ff00"/><stop offset="0.09" stop-color="#5fff00"/><stop offset="0.1471" stop-color="#72ff00"/><stop offset="0.2529" stop-color="#a7ff00"/><stop offset="0.3329" stop-color="#e2ff00"/><stop offset="0.3814" stop-color="#fffd00"/><stop offset="0.3957" stop-color="#fff400"/><stop offset="0.4443" stop-color="#ffc800"/><stop offset="0.4757" stop-color="#ffc300"/><stop offset="0.5071" stop-color="#ffcc00"/><stop offset="0.5443" stop-color="#fffe00"/><stop offset="0.5671" stop-color="#f2ff00"/><stop offset="0.5729" stop-color="#edff00"/><stop offset="0.5786" stop-color="#e2ff00"/><stop offset="0.6243" stop-color="#65ff00"/><stop offset="0.6271" stop-color="#56ff00"/><stop offset="0.63" stop-color="#28ff00"/><stop offset="0.6329" stop-color="#00ff00"/><stop offset="0.7386" stop-color="#00ff00"/><stop offset="0.7414" stop-color="#00ff22"/><stop offset="0.87" stop-color="#00fffd"/><stop offset="0.8814" stop-color="#00ecff"/><stop offset="0.89" stop-color="#00d7ff"/><stop offset="0.8957" stop-color="#00bbff"/><stop offset="0.9043" stop-color="#0083ff"/><stop offset="0.9071" stop-color="#0074ff"/><stop offset="0.9129" stop-color="#0062ff"/><stop offset="0.93" stop-color="#004eff"/><stop offset="0.9614" stop-color="#0034ff"/><stop offset="0.9986" stop-color="#001fff"/></linearGradient><linearGradient id="g30" x1="0" y1="0" x2="0" y2="1"><stop offset="0.001429" stop-color="#00ff00"/><stop offset="0.01286" stop-color="#00ff00"/><stop offset="0.01857" stop-color="#04ff00"/><stop offset="0.07571" stop-color="#5bff00"/><stop offset="0.08143" stop-color="#60ff00"/><stop offset="0.1386" stop-color="#71ff00"/><stop offset="0.2471" stop-color="#a8ff00"/><stop offset="0.3157" stop-color="#ddff00"/><stop offset="0.37" stop-color="#fffe00"/><stop offset="0.39" stop-color="#fff300"/><stop offset="0.4443" stop-color="#ffc700"/><stop offset="0.4757" stop-color="#ffc200"/><stop offset="0.5071" stop-color="#ffcc00"/><stop offset="0.5443" stop-color="#fffe00"/><stop offset="0.5671" stop-color="#f2ff00"/><stop offset="0.5729" stop-color="#ecff00"/><stop offset="0.5786" stop-color="#e1ff00"/><stop offset="0.6243" stop-color="#64ff00"/><stop offset="0.6271" stop-color="#4fff00"/><stop offset="0.63" stop-color="#22ff00"/><stop offset="0.6329" stop-color="#00ff00"/><stop offset="0.7357" stop-color="#00ff00"/><stop offset="0.7414" stop-color="#00ff23"/><stop offset="0.87" stop-color="#00fffd"/><stop offset="0.8843" stop-color="#00e5ff"/><stop offset="0.89" stop-color="#00d5ff"/><stop offset="0.8957" stop-color="#00b9ff"/><stop offset="0.9043" stop-color="#0082ff"/><stop offset="0.9071" stop-color="#0073ff"/><stop offset="0.9129" stop-color="#0062ff"/><stop offset="0.93" stop-color="#004eff"/><stop offset="0.9614" stop-color="#0034ff"/><stop offset="0.9986" stop-color="#001fff"/></linearGradient><linearGradient id="g31" x1="0" y1="0" x2="0" y2="1"><stop offset="0.001429" stop-color="#00ff00"/><stop offset="0.01" stop-color="#06ff00"/><stop offset="0.07" stop-color="#5fff00"/><stop offset="0.13" stop-color="#71ff00"/><stop offset="0.2386" stop-color="#a8ff00"/><stop offset="0.3157" stop-color="#e3ff00"/><stop offset="0.3529" stop-color="#fcff00"/><stop offset="0.3614" stop-color="#fffd00"/><stop offset="0.3871" stop-color="#ffef00"/><stop offset="0.4443" stop-color="#ffc500"/><stop offset="0.4729" stop-color="#ffc100"/><stop offset="0.5043" stop-color="#ffc900"/><stop offset="0.5443" stop-color="#fffe00"/><stop offset="0.5671" stop-color="#f2ff00"/><stop offset="0.5729" stop-color="#ecff00"/><stop offset="0.5786" stop-color="#e1ff00"/><stop offset="0.6243" stop-color="#63ff00"/><stop offset="0.6271" stop-color="#49ff00"/><stop offset="0.63" stop-color="#1bff00"/><stop offset="0.6329" stop-color="#00ff00"/><stop offset="0.7357" stop-color="#00ff00"/><stop offset="0.7386" stop-color="#00ff1f"/><stop offset="0.87" stop-color="#00fffe"/><stop offset="0.8843" stop-color="#00e4ff"/><stop offset="0.89" stop-color="#00d4ff"/><stop offset="0.8957" stop-color="#00b7ff"/><stop offset="0.9043" stop-color="#0080ff"/><stop offset="0.9071" stop-color="#0072ff"/><stop offset="0.9129" stop-color="#0061ff"/><stop offset="0.93" stop-color="#004dff"/><stop offset="0.9614" stop-color="#0033ff"/><stop offset="0.9986" stop-color="#001eff"/></linearGradient><linearGradient id="g32" x1="0" y1="0" x2="0" y2="1"><stop offset="0.001429" stop-color="#0bff00"/><stop offset="0.05571" stop-color="#5aff00"/><stop offset="0.06143" stop-color="#60ff00"/><stop offset="0.1214" stop-color="#71ff00"/><stop offset="0.23" stop-color="#a7ff00"/><stop offset="0.3443" stop-color="#feff00"/><stop offset="0.3843" stop-color="#ffec00"/><stop offset="0.4129" stop-color="#ffd500"/><stop offset="0.4443" stop-color="#ffc400"/><stop offset="0.4729" stop-color="#ffc100"/><stop offset="0.5043" stop-color="#ffc900"/><stop offset="0.5443" stop-color="#fffe00"/><stop offset="0.5671" stop-color="#f2ff00"/><stop offset="0.5757" stop-color="#e7ff00"/><stop offset="0.6243" stop-color="#62ff00"/><stop offset="0.6271" stop-color="#43ff00"/><stop offset="0.63" stop-color="#14ff00"/><stop offset="0.6329" stop-color="#00ff00"/><stop offset="0.7357" stop-color="#00ff00"/><stop offset="0.7386" stop-color="#00ff20"/><stop offset="0.87" stop-color="#00ffff"/><stop offset="0.8843" stop-color="#00e4ff"/><stop offset="0.89" stop-color="#00d3ff"/><stop offset="0.8957" stop-color="#00b5ff"/><stop offset="0.9043" stop-color="#007fff"/><stop offset="0.9071" stop-color="#0070ff"/><stop offset="0.9129" stop-color="#0061ff"/><stop offset="0.93" stop-color="#004dff"/><stop offset="0.9614" stop-color="#0033ff"/><stop offset="0.9986" stop-color="#001eff"/></linearGradient><linearGradient id="g33" x1="0" y1="0" x2="0" y2="1"><stop offset="0.001429" stop-color="#1aff00"/><stop offset="0.05" stop-color="#5eff00"/><stop offset="0.1186" stop-color="#73ff00"/><stop offset="0.2214" stop-color="#a7ff00"/><stop offset="0.3329" stop-color="#fdff00"/><stop offset="0.3843" stop-color="#ffe600"/><stop offset="0.4186" stop-color="#ffcd00"/><stop offset="0.4471" stop-color="#ffc100"/><stop offset="0.47" stop-color="#ffc000"/><stop offset="0.5043" stop-color="#ffc800"/><stop offset="0.5443" stop-color="#ffff00"/><stop offset="0.5671" stop-color="#f1ff00"/><stop offset="0.5757" stop-color="#e6ff00"/><stop offset="0.6243" stop-color="#61ff00"/><stop offset="0.6271" stop-color="#3dff00"/><stop offset="0.63" stop-color="#0eff00"/><stop offset="0.6329" stop-color="#00ff00"/><stop offset="0.7357" stop-color="#00ff00"/><stop offset="0.7386" stop-color="#00ff22"/><stop offset="0.87" stop-color="#00ffff"/><stop offset="0.8843" stop-color="#00e3ff"/><stop offset="0.89" stop-color="#00d2ff"/><stop offset="0.8957" stop-color="#00b4ff"/><stop offset="0.9043" stop-color="#007dff"/><stop offset="0.9071" stop-color="#006fff"/><stop offset="0.9129" stop-color="#0060ff"/><stop offset="0.93" stop-color="#004cff"/><stop offset="0.9614" stop-color="#0032ff"/><stop offset="0.9986" stop-color="#001dff"/></linearGradient><linearGradient id="g34" x1="0" y1="0" x2="0" y2="1"><stop offset="0.001429" stop-color="#29ff00"/><stop offset="0.04143" stop-color="#5fff00"/><stop offset="0.1129" stop-color="#74ff00"/><stop offset="0.2129" stop-color="#a7ff00"/><stop offset="0.3271" stop-color="#fffe00"/><stop offset="0.3871" stop-color="#ffdf00"/><stop offset="0.4157" stop-color="#ffca00"/><stop offset="0.4471" stop-color="#ffc000"/><stop offset="0.47" stop-color="#ffbf00"/><stop offset="0.5043" stop-color="#ffc800"/><stop offset="0.5443" stop-color="#ffff00"/><stop offset="0.5671" stop-color="#f1ff00"/><stop offset="0.5757" stop-color="#e6ff00"/><stop offset="0.6243" stop-color="#60ff00"/><stop offset="0.6271" stop-color="#36ff00"/><stop offset="0.63" stop-color="#07ff00"/><stop offset="0.6329" stop-color="#00ff00"/><stop offset="0.7357" stop-color="#00ff00"/><stop offset="0.7386" stop-color="#00ff23"/><stop offset="0.87" stop-color="#00feff"/><stop offset="0.8843" stop-color="#00e2ff"/><stop offset="0.89" stop-color="#00d0ff"/><stop offset="0.8957" stop-color="#00b2ff"/><stop offset="0.9043" stop-color="#007cff"/><stop offset="0.9071" stop-color="#006fff"/><stop offset="0.9129" stop-color="#0060ff"/><stop offset="0.93" stop-color="#004cff"/><stop offset="0.9643" stop-color="#002fff"/><stop offset="0.9986" stop-color="#001dff"/></linearGradient><linearGradient id="g35" x1="0" y1="0" x2="0" y2="1"><stop offset="0.001429" stop-color="#38ff00"/><stop offset="0.02714" stop-color="#5cff00"/><stop offset="0.03286" stop-color="#60ff00"/><stop offset="0.1043" stop-color="#75ff00"/><stop offset="0.2043" stop-color="#a6ff00"/><stop offset="0.3157" stop-color="#fefe00"/><stop offset="0.3871" stop-color="#ffda00"/><stop offset="0.4157" stop-color="#ffc600"/><stop offset="0.4443" stop-color="#ffbf00"/><stop offset="0.4671" stop-color="#ffbe00"/><stop offset="0.5043" stop-color="#ffc700"/><stop offset="0.5443" stop-color="#ffff00"/><stop offset="0.5671" stop-color="#f1ff00"/><stop offset="0.5757" stop-color="#e6ff00"/><stop offset="0.6214" stop-color="#67ff00"/><stop offset="0.6243" stop-color="#5eff00"/><stop offset="0.63" stop-color="#01ff00"/><stop offset="0.7329" stop-color="#00ff00"/><stop offset="0.7357" stop-color="#00ff1f"/><stop offset="0.87" stop-color="#00feff"/><stop offset="0.8843" stop-color="#00e1ff"/><stop offset="0.89" stop-color="#00cfff"/><stop offset="0.8929" stop-color="#00c1ff"/><stop offset="0.9043" stop-color="#007bff"/><stop offset="0.9071" stop-color="#006eff"/><stop offset="0.9129" stop-color="#005fff"/><stop offset="0.93" stop-color="#004bff"/><stop offset="0.9643" stop-color="#002fff"/><stop offset="0.9986" stop-color="#001dff"/></linearGradient><linearGradient id="g36" x1="0" y1="0" x2="0" y2="1"><stop offset="0.001429" stop-color="#46ff00"/><stop offset="0.02143" stop-color="#5fff00"/><stop offset="0.09571" stop-color="#75ff00"/><stop offset="0.2014" stop-color="#a9ff00"/><stop offset="0.3071" stop-color="#fffe00"/><stop offset="0.4129" stop-color="#ffc400"/><stop offset="0.4529" stop-color="#ffbd00"/><stop offset="0.4786" stop-color="#ffbe00"/><stop offset="0.5043" stop-color="#ffc700"/><stop offset="0.5414" stop-color="#fffd00"/><stop offset="0.5671" stop-color="#f1ff00"/><stop offset="0.5729" stop-color="#ebff00"/><stop offset="0.5814" stop-color="#d7ff00"/><stop offset="0.6214" stop-color="#66ff00"/><stop offset="0.6243" stop-color="#58ff00"/><stop offset="0.6271" stop-color="#29ff00"/><stop offset="0.63" stop-color="#00ff00"/><stop offset="0.7329" stop-color="#00ff00"/><stop offset="0.7357" stop-color="#00ff20"/><stop offset="0.87" stop-color="#00fdff"/><stop offset="0.8871" stop-color="#00d8ff"/><stop offset="0.8929" stop-color="#00bfff"/><stop offset="0.9043" stop-color="#0079ff"/><stop offset="0.9071" stop-color="#006dff"/><stop offset="0.9129" stop-color="#005fff"/><stop offset="0.93" stop-color="#004bff"/><stop offset="0.9643" stop-color="#002eff"/><stop offset="0.9986" stop-color="#001cff"/></linearGradient><linearGradient id="g37" x1="0" y1="0" x2="0" y2="1"><stop offset="0.001429" stop-color="#55ff00"/><stop offset="0.01286" stop-color="#60ff00"/><stop offset="0.08429" stop-color="#74ff00"/><stop offset="0.19" stop-color="#a7ff00"/><stop offset="0.2986" stop-color="#fffe00"/><stop offset="0.3443" stop-color="#ffe100"/><stop offset="0.4129" stop-color="#ffc100"/><stop offset="0.45" stop-color="#ffbc00"/><stop offset="0.4786" stop-color="#ffbe00"/><stop offset="0.5043" stop-color="#ffc600"/><stop offset="0.5414" stop-color="#fffd00"/><stop offset="0.5671" stop-color="#f1ff00"/><stop offset="0.5729" stop-color="#eaff00"/><stop offset="0.5814" stop-color="#d6ff00"/><stop offset="0.6214" stop-color="#65ff00"/><stop offset="0.6243" stop-color="#51ff00"/><stop offset="0.6271" stop-color="#22ff00"/><stop offset="0.63" stop-color="#00ff00"/><stop offset="0.7329" stop-color="#00ff00"/><stop offset="0.7357" stop-color="#00ff21"/><stop offset="0.8671" stop-color="#00fffc"/><stop offset="0.8757" stop-color="#00f2ff"/><stop offset="0.8871" stop-color="#00d7ff"/><stop offset="0.8929" stop-color="#00bdff"/><stop offset="0.9043" stop-color="#0078ff"/><stop offset="0.9071" stop-color="#006cff"/><stop offset="0.9129" stop-color="#005eff"/><stop offset="0.93" stop-color="#004aff"/><stop offset="0.9643" stop-color="#002eff"/><stop offset="0.9986" stop-color="#001cff"/></linearGradient><linearGradient id="g38" x1="0" y1="0" x2="0" y2="1"><stop offset="0.001429" stop-color="#60ff00"/><stop offset="0.07571" stop-color="#75ff00"/><stop offset="0.1814" stop-color="#a6ff00"/><stop offset="0.29" stop-color="#fefe00"/><stop offset="0.35" stop-color="#ffd800"/><stop offset="0.4129" stop-color="#ffbe00"/><stop offset="0.45" stop-color="#ffbb00"/><stop offset="0.4786" stop-color="#ffbd00"/><stop offset="0.5043" stop-color="#ffc600"/><stop offset="0.5414" stop-color="#fffd00"/><stop offset="0.5671" stop-color="#f1ff00"/><stop offset="0.5729" stop-color="#eaff00"/><stop offset="0.5814" stop-color="#d5ff00"/><stop offset="0.6214" stop-color="#64ff00"/><stop offset="0.6243" stop-color="#4bff00"/><stop offset="0.6271" stop-color="#1cff00"/><stop offset="0.63" stop-color="#00ff00"/><stop offset="0.7329" stop-color="#00ff00"/><stop offset="0.7357" stop-color="#00ff22"/><stop offset="0.8671" stop-color="#00fffd"/><stop offset="0.8786" stop-color="#00ebff"/><stop offset="0.8871" stop-color="#00d6ff"/><stop offset="0.8929" stop-color="#00bbff"/><stop offset="0.9043" stop-color="#0077ff"/><stop offset="0.9071" stop-color="#006bff"/><stop offset="0.9129" stop-color="#005eff"/><stop offset="0.93" stop-color="#004aff"/><stop offset="0.9643" stop-color="#002dff"/><stop offset="0.9986" stop-color="#001cff"/></linearGradient><linearGradient id="g39" x1="0" y1="0" x2="0" y2="1"><stop offset="0.001429" stop-color="#62ff00"/><stop offset="0.06714" stop-color="#75ff00"/><stop offset="0.1729" stop-color="#a6ff00"/><stop offset="0.2843" stop-color="#fffd00"/><stop offset="0.35" stop-color="#ffd200"/><stop offset="0.4129" stop-color="#ffbb00"/><stop offset="0.4471" stop-color="#ffba00"/><stop offset="0.4786" stop-color="#ffbc00"/><stop offset="0.5043" stop-color="#ffc600"/><stop offset="0.5414" stop-color="#fffe00"/><stop offset="0.5671" stop-color="#f1ff00"/><stop offset="0.5729" stop-color="#eaff00"/><stop offset="0.5814" stop-color="#d5ff00"/><stop offset="0.6214" stop-color="#63ff00"/><stop offset="0.6243" stop-color="#44ff00"/><stop offset="0.6271" stop-color="#15ff00"/><stop offset="0.63" stop-color="#00ff00"/><stop offset="0.73" stop-color="#00ff00"/><stop offset="0.7357" stop-color="#00ff23"/><stop offset="0.8671" stop-color="#00fffd"/><stop offset="0.8786" stop-color="#00ebff"/><stop offset="0.8871" stop-color="#00d5ff"/><stop offset="0.8929" stop-color="#00b9ff"/><stop offset="0.9043" stop-color="#0076ff"/><stop offset="0.9071" stop-color="#006bff"/><stop offset="0.9129" stop-color="#005eff"/><stop offset="0.9271" stop-color="#004cff"/><stop offset="0.9643" stop-color="#002dff"/><stop offset="0.9986" stop-color="#001bff"/></linearGradient><linearGradient id="g40" x1="0" y1="0" x2="0" y2="1"><stop offset="0.001429" stop-color="#65ff00"/><stop offset="0.06429" stop-color="#78ff00"/><stop offset="0.1671" stop-color="#a7ff00"/><stop offset="0.2757" stop-color="#fffe00"/><stop offset="0.3471" stop-color="#ffcd00"/><stop offset="0.4186" stop-color="#ffb700"/><stop offset="0.4729" stop-color="#ffbb00"/><stop offset="0.5014" stop-color="#ffc300"/><stop offset="0.51" stop-color="#ffcc00"/><stop offset="0.5414" stop-color="#fffe00"/><stop offset="0.5671" stop-color="#f0ff00"/><stop offset="0.5729" stop-color="#e9ff00"/><stop offset="0.5814" stop-color="#d4ff00"/><stop offset="0.6214" stop-color="#61ff00"/><stop offset="0.6243" stop-color="#3eff00"/><stop offset="0.6271" stop-color="#0eff00"/><stop offset="0.63" stop-color="#00ff00"/><stop offset="0.73" stop-color="#00ff00"/><stop offset="0.7329" stop-color="#00ff1f"/><stop offset="0.8671" stop-color="#00fffe"/><stop offset="0.8814" stop-color="#00e3ff"/><stop offset="0.8871" stop-color="#00d3ff"/><stop offset="0.8929" stop-color="#00b7ff"/><stop offset="0.9043" stop-color="#0075ff"/><stop offset="0.9071" stop-color="#006aff"/><stop offset="0.9129" stop-color="#005dff"/><stop offset="0.9271" stop-color="#004cff"/><stop offset="0.9643" stop-color="#002cff"/><stop offset="0.9986" stop-color="#001bff"/></linearGradient><linearGradient id="g41" x1="0" y1="0" x2="0" y2="1"><stop offset="0.001429" stop-color="#68ff00"/><stop offset="0.05857" stop-color="#79ff00"/><stop offset="0.1586" stop-color="#a7ff00"/><stop offset="0.2671" stop-color="#fffe00"/><stop offset="0.3443" stop-color="#ffc900"/><stop offset="0.4157" stop-color="#ffb500"/><stop offset="0.4729" stop-color="#ffba00"/><stop offset="0.5014" stop-color="#ffc300"/><stop offset="0.51" stop-color="#ffcc00"/><stop offset="0.5329" stop-color="#fff300"/><stop offset="0.5414" stop-color="#fffe00"/><stop offset="0.5671" stop-color="#f0ff00"/><stop offset="0.5729" stop-color="#e9ff00"/><stop offset="0.5814" stop-color="#d3ff00"/><stop offset="0.6186" stop-color="#69ff00"/><stop offset="0.6214" stop-color="#60ff00"/><stop offset="0.6243" stop-color="#37ff00"/><stop offset="0.6271" stop-color="#07ff00"/><stop offset="0.63" stop-color="#00ff00"/><stop offset="0.73" stop-color="#00ff00"/><stop offset="0.7329" stop-color="#00ff20"/><stop offset="0.8671" stop-color="#00feff"/><stop offset="0.8814" stop-color="#00e2ff"/><stop offset="0.8871" stop-color="#00d0ff"/><stop offset="0.89" stop-color="#00c4ff"/><stop offset="0.9043" stop-color="#0074ff"/><stop offset="0.9071" stop-color="#0069ff"/><stop offset="0.9129" stop-color="#005dff"/><stop offset="0.9271" stop-color="#004bff"/><stop offset="0.9643" stop-color="#002cff"/><stop offset="0.9986" stop-color="#001aff"/></linearGradient><linearGradient id="g42" x1="0" y1="0" x2="0" y2="1"><stop offset="0.001429" stop-color="#6aff00"/><stop offset="0.06143" stop-color="#7eff00"/><stop offset="0.1529" stop-color="#a8ff00"/><stop offset="0.2586" stop-color="#fefe00"/><stop offset="0.3443" stop-color="#ffc300"/><stop offset="0.4157" stop-color="#ffb200"/><stop offset="0.4757" stop-color="#ffba00"/><stop offset="0.5014" stop-color="#ffc200"/><stop offset="0.51" stop-color="#ffcb00"/><stop offset="0.5329" stop-color="#fff300"/><stop offset="0.5414" stop-color="#fffe00"/><stop offset="0.5671" stop-color="#f0ff00"/><stop offset="0.5729" stop-color="#e9ff00"/><stop offset="0.5814" stop-color="#d3ff00"/><stop offset="0.6214" stop-color="#5fff00"/><stop offset="0.6271" stop-color="#01ff00"/><stop offset="0.73" stop-color="#00ff00"/><stop offset="0.7329" stop-color="#00ff21"/><stop offset="0.8643" stop-color="#00fffc"/><stop offset="0.8729" stop-color="#00f2ff"/><stop offset="0.8843" stop-color="#00d8ff"/><stop offset="0.89" stop-color="#00c0ff"/><stop offset="0.9043" stop-color="#0073ff"/><stop offset="0.9071" stop-color="#0069ff"/><stop offset="0.9129" stop-color="#005dff"/><stop offset="0.9271" stop-color="#004bff"/><stop offset="0.9614" stop-color="#002dff"/><stop offset="0.9986" stop-color="#001aff"/></linearGradient><linearGradient id="g43" x1="0" y1="0" x2="0" y2="1"><stop offset="0.001429" stop-color="#6dff00"/><stop offset="0.06714" stop-color="#84ff00"/><stop offset="0.1471" stop-color="#a9ff00"/><stop offset="0.2529" stop-color="#fffd00"/><stop offset="0.3014" stop-color="#ffd800"/><stop offset="0.3443" stop-color="#ffbe00"/><stop offset="0.4157" stop-color="#ffaf00"/><stop offset="0.4757" stop-color="#ffb900"/><stop offset="0.5014" stop-color="#ffc200"/><stop offset="0.51" stop-color="#ffcb00"/><stop offset="0.5329" stop-color="#fff400"/><stop offset="0.5414" stop-color="#fffe00"/><stop offset="0.5671" stop-color="#f0ff00"/><stop offset="0.5729" stop-color="#e8ff00"/><stop offset="0.6186" stop-color="#66ff00"/><stop offset="0.6214" stop-color="#5aff00"/><stop offset="0.6243" stop-color="#2aff00"/><stop offset="0.6271" stop-color="#00ff00"/><stop offset="0.73" stop-color="#00ff00"/><stop offset="0.7329" stop-color="#00ff23"/><stop offset="0.8643" stop-color="#00fffe"/><stop offset="0.8757" stop-color="#00ebff"/><stop offset="0.8843" stop-color="#00d6ff"/><stop offset="0.89" stop-color="#00bdff"/><stop offset="0.9043" stop-color="#0072ff"/><stop offset="0.9071" stop-color="#0068ff"/><stop offset="0.9129" stop-color="#005cff"/><stop offset="0.9271" stop-color="#004aff"/><stop offset="0.9614" stop-color="#002dff"/><stop offset="0.9986" stop-color="#001aff"/></linearGradient><linearGradient id="g44" x1="0" y1="0" x2="0" y2="1"><stop offset="0.001429" stop-color="#70ff00"/><stop offset="0.07" stop-color="#89ff00"/><stop offset="0.1386" stop-color="#a8ff00"/><stop offset="0.2443" stop-color="#fffe00"/><stop offset="0.3014" stop-color="#ffd200"/><stop offset="0.3414" stop-color="#ffba00"/><stop offset="0.4129" stop-color="#ffac00"/><stop offset="0.4757" stop-color="#ffb800"/><stop offset="0.5014" stop-color="#ffc100"/><stop offset="0.51" stop-color="#ffcb00"/><stop offset="0.5329" stop-color="#fff400"/><stop offset="0.5414" stop-color="#ffff00"/><stop offset="0.5671" stop-color="#f0ff00"/><stop offset="0.5729" stop-color="#e8ff00"/><stop offset="0.6186" stop-color="#65ff00"/><stop offset="0.6214" stop-color="#53ff00"/><stop offset="0.6243" stop-color="#23ff00"/><stop offset="0.6271" stop-color="#00ff00"/><stop offset="0.7271" stop-color="#00ff00"/><stop offset="0.73" stop-color="#00ff1e"/><stop offset="0.8643" stop-color="#00ffff"/><stop offset="0.8786" stop-color="#00e3ff"/><stop offset="0.8843" stop-color="#00d3ff"/><stop offset="0.89" stop-color="#00baff"/><stop offset="0.9043" stop-color="#0071ff"/><stop offset="0.9129" stop-color="#005cff"/><stop offset="0.9271" stop-color="#004aff"/><stop offset="0.9586" stop-color="#002eff"/><stop offset="0.9986" stop-color="#0019ff"/></linearGradient><linearGradient id="g45" x1="0" y1="0" x2="0" y2="1"><stop offset="0.001429" stop-color="#73ff00"/><stop offset="0.1329" stop-color="#aaff00"/><stop offset="0.2357" stop-color="#fffe00"/><stop offset="0.3043" stop-color="#ffca00"/><stop offset="0.3414" stop-color="#ffb400"/><stop offset="0.4129" stop-color="#ffa900"/><stop offset="0.4786" stop-color="#ffb800"/><stop offset="0.5014" stop-color="#ffc100"/><stop offset="0.51" stop-color="#ffca00"/><stop offset="0.5329" stop-color="#fff400"/><stop offset="0.5414" stop-color="#ffff00"/><stop offset="0.5671" stop-color="#efff00"/><stop offset="0.5729" stop-color="#e7ff00"/><stop offset="0.6186" stop-color="#64ff00"/><stop offset="0.6214" stop-color="#4dff00"/><stop offset="0.6243" stop-color="#1cff00"/><stop offset="0.6271" stop-color="#00ff00"/><stop offset="0.7271" stop-color="#00ff00"/><stop offset="0.73" stop-color="#00ff20"/><stop offset="0.8643" stop-color="#00fdff"/><stop offset="0.8786" stop-color="#00e1ff"/><stop offset="0.8843" stop-color="#00d1ff"/><stop offset="0.9043" stop-color="#0071ff"/><stop offset="0.9129" stop-color="#005cff"/><stop offset="0.9271" stop-color="#004aff"/><stop offset="0.9586" stop-color="#002eff"/><stop offset="0.9986" stop-color="#0019ff"/></linearGradient><linearGradient id="g46" x1="0" y1="0" x2="0" y2="1"><stop offset="0.001429" stop-color="#76ff00"/><stop offset="0.1243" stop-color="#a9ff00"/><stop offset="0.2271" stop-color="#fffe00"/><stop offset="0.3014" stop-color="#ffc600"/><stop offset="0.3414" stop-color="#ffaf00"/><stop offset="0.4129" stop-color="#ffa700"/><stop offset="0.5014" stop-color="#ffc000"/><stop offset="0.51" stop-color="#ffca00"/><stop offset="0.5329" stop-color="#fff400"/><stop offset="0.5414" stop-color="#ffff00"/><stop offset="0.5643" stop-color="#f1ff00"/><stop offset="0.5729" stop-color="#e7ff00"/><stop offset="0.6186" stop-color="#63ff00"/><stop offset="0.6214" stop-color="#46ff00"/><stop offset="0.6243" stop-color="#15ff00"/><stop offset="0.6271" stop-color="#00ff00"/><stop offset="0.7271" stop-color="#00ff00"/><stop offset="0.73" stop-color="#00ff21"/><stop offset="0.8614" stop-color="#00fffd"/><stop offset="0.87" stop-color="#00f1ff"/><stop offset="0.8814" stop-color="#00d8ff"/><stop offset="0.8871" stop-color="#00c2ff"/><stop offset="0.8986" stop-color="#0089ff"/><stop offset="0.9043" stop-color="#0070ff"/><stop offset="0.9129" stop-color="#005cff"/><stop offset="0.9271" stop-color="#0049ff"/><stop offset="0.9586" stop-color="#002dff"/><stop offset="0.9986" stop-color="#0018ff"/></linearGradient><linearGradient id="g47" x1="0" y1="0" x2="0" y2="1"><stop offset="0.001429" stop-color="#7aff00"/><stop offset="0.1186" stop-color="#aaff00"/><stop offset="0.2186" stop-color="#fefe00"/><stop offset="0.3014" stop-color="#ffc100"/><stop offset="0.3414" stop-color="#ffaa00"/><stop offset="0.41" stop-color="#ffa400"/><stop offset="0.5014" stop-color="#ffbf00"/><stop offset="0.51" stop-color="#ffc900"/><stop offset="0.5329" stop-color="#fff400"/><stop offset="0.5414" stop-color="#ffff00"/><stop offset="0.5643" stop-color="#f1ff00"/><stop offset="0.5729" stop-color="#e6ff00"/><stop offset="0.6186" stop-color="#62ff00"/><stop offset="0.6214" stop-color="#40ff00"/><stop offset="0.6243" stop-color="#0eff00"/><stop offset="0.6271" stop-color="#00ff00"/><stop offset="0.7271" stop-color="#00ff00"/><stop offset="0.73" stop-color="#00ff22"/><stop offset="0.8614" stop-color="#00ffff"/><stop offset="0.8757" stop-color="#00e4ff"/><stop offset="0.8814" stop-color="#00d6ff"/><stop offset="0.8871" stop-color="#00c0ff"/><stop offset="0.9014" stop-color="#007aff"/><stop offset="0.9071" stop-color="#0067ff"/><stop offset="0.9129" stop-color="#005bff"/><stop offset="0.9271" stop-color="#0049ff"/><stop offset="0.9557" stop-color="#002fff"/><stop offset="0.9986" stop-color="#0018ff"/></linearGradient><linearGradient id="g48" x1="0" y1="0" x2="0" y2="1"><stop offset="0.001429" stop-color="#7dff00"/><stop offset="0.1129" stop-color="#acff00"/><stop offset="0.2129" stop-color="#fffd00"/><stop offset="0.3014" stop-color="#ffbb00"/><stop offset="0.3414" stop-color="#ffa400"/><stop offset="0.41" stop-color="#ffa100"/><stop offset="0.5014" stop-color="#ffbf00"/><stop offset="0.51" stop-color="#ffc800"/><stop offset="0.5329" stop-color="#fff300"/><stop offset="0.5414" stop-color="#ffff00"/><stop offset="0.5643" stop-color="#f1ff00"/><stop offset="0.5729" stop-color="#e6ff00"/><stop offset="0.6186" stop-color="#61ff00"/><stop offset="0.6214" stop-color="#39ff00"/><stop offset="0.6243" stop-color="#07ff00"/><stop offset="0.6271" stop-color="#00ff00"/><stop offset="0.7243" stop-color="#00ff00"/><stop offset="0.7271" stop-color="#00ff0f"/><stop offset="0.73" stop-color="#00ff23"/><stop offset="0.8586" stop-color="#00fffb"/><stop offset="0.8614" stop-color="#00feff"/><stop offset="0.8671" stop-color="#00f3ff"/><stop offset="0.8814" stop-color="#00d3ff"/><stop offset="0.8871" stop-color="#00bdff"/><stop offset="0.9014" stop-color="#0079ff"/><stop offset="0.9071" stop-color="#0066ff"/><stop offset="0.9129" stop-color="#005bff"/><stop offset="0.9271" stop-color="#0048ff"/><stop offset="0.9557" stop-color="#002eff"/><stop offset="0.9986" stop-color="#0018ff"/></linearGradient><linearGradient id="g49" x1="0" y1="0" x2="0" y2="1"><stop offset="0.001429" stop-color="#81ff00"/><stop offset="0.1043" stop-color="#acff00"/><stop offset="0.2014" stop-color="#feff00"/><stop offset="0.3043" stop-color="#ffb400"/><stop offset="0.35" stop-color="#ff9d00"/><stop offset="0.4157" stop-color="#ffa000"/><stop offset="0.4986" stop-color="#ffbc00"/><stop offset="0.51" stop-color="#ffc800"/><stop offset="0.5329" stop-color="#fff300"/><stop offset="0.5414" stop-color="#ffff00"/><stop offset="0.5643" stop-color="#f1ff00"/><stop offset="0.5729" stop-color="#e6ff00"/><stop offset="0.6186" stop-color="#60ff00"/><stop offset="0.6243" stop-color="#01ff00"/><stop offset="0.7243" stop-color="#00ff00"/><stop offset="0.7271" stop-color="#00ff1f"/><stop offset="0.8586" stop-color="#00fffc"/><stop offset="0.8729" stop-color="#00e7ff"/><stop offset="0.8814" stop-color="#00d1ff"/><stop offset="0.9014" stop-color="#0078ff"/><stop offset="0.9071" stop-color="#0066ff"/><stop offset="0.9129" stop-color="#005bff"/><stop offset="0.9271" stop-color="#0048ff"/><stop offset="0.9557" stop-color="#002dff"/><stop offset="0.9986" stop-color="#0017ff"/></linearGradient><linearGradient id="g50" x1="0" y1="0" x2="0" y2="1"><stop offset="0.001429" stop-color="#84ff00"/><stop offset="0.09571" stop-color="#acff00"/><stop offset="0.1929" stop-color="#fdff00"/><stop offset="0.3043" stop-color="#ffaf00"/><stop offset="0.35" stop-color="#ff9800"/><stop offset="0.4157" stop-color="#ff9d00"/><stop offset="0.4986" stop-color="#ffbb00"/><stop offset="0.51" stop-color="#ffc700"/><stop offset="0.5329" stop-color="#fff300"/><stop offset="0.5414" stop-color="#ffff00"/><stop offset="0.5643" stop-color="#f1ff00"/><stop offset="0.5729" stop-color="#e5ff00"/><stop offset="0.6157" stop-color="#67ff00"/><stop offset="0.6186" stop-color="#5cff00"/><stop offset="0.6214" stop-color="#2bff00"/><stop offset="0.6243" stop-color="#00ff00"/><stop offset="0.7243" stop-color="#00ff00"/><stop offset="0.7271" stop-color="#00ff20"/><stop offset="0.8586" stop-color="#00fffe"/><stop offset="0.8786" stop-color="#00d8ff"/><stop offset="0.8843" stop-color="#00c4ff"/><stop offset="0.9014" stop-color="#0077ff"/><stop offset="0.9071" stop-color="#0065ff"/><stop offset="0.9129" stop-color="#005bff"/><stop offset="0.9271" stop-color="#0048ff"/><stop offset="0.9529" stop-color="#002fff"/><stop offset="0.9986" stop-color="#0017ff"/></linearGradient><linearGradient id="g51" x1="0" y1="0" x2="0" y2="1"><stop offset="0.001429" stop-color="#88ff00"/><stop offset="0.09" stop-color="#adff00"/><stop offset="0.1871" stop-color="#fefe00"/><stop offset="0.3014" stop-color="#ffac00"/><stop offset="0.3386" stop-color="#ff9600"/><stop offset="0.35" stop-color="#ff9300"/><stop offset="0.4157" stop-color="#ff9a00"/><stop offset="0.4986" stop-color="#ffbb00"/><stop offset="0.51" stop-color="#ffc700"/><stop offset="0.5329" stop-color="#fff300"/><stop offset="0.5414" stop-color="#ffff00"/><stop offset="0.5643" stop-color="#f1ff00"/><stop offset="0.5729" stop-color="#e5ff00"/><stop offset="0.6157" stop-color="#66ff00"/><stop offset="0.6186" stop-color="#54ff00"/><stop offset="0.6214" stop-color="#23ff00"/><stop offset="0.6243" stop-color="#00ff00"/><stop offset="0.7243" stop-color="#00ff00"/><stop offset="0.7271" stop-color="#00ff21"/><stop offset="0.8586" stop-color="#00ffff"/><stop offset="0.8786" stop-color="#00d5ff"/><stop offset="0.8843" stop-color="#00c1ff"/><stop offset="0.9014" stop-color="#0077ff"/><stop offset="0.9071" stop-color="#0065ff"/><stop offset="0.9129" stop-color="#005aff"/><stop offset="0.9271" stop-color="#0047ff"/><stop offset="0.9529" stop-color="#002eff"/><stop offset="0.9986" stop-color="#0016ff"/></linearGradient><linearGradient id="g52" x1="0" y1="0" x2="0" y2="1"><stop offset="0.001429" stop-color="#8bff00"/><stop offset="0.08143" stop-color="#adff00"/><stop offset="0.1786" stop-color="#feff00"/><stop offset="0.3014" stop-color="#ffa700"/><stop offset="0.3386" stop-color="#ff9100"/><stop offset="0.35" stop-color="#ff8e00"/><stop offset="0.4129" stop-color="#ff9700"/><stop offset="0.4986" stop-color="#ffba00"/><stop offset="0.51" stop-color="#ffc600"/><stop offset="0.5329" stop-color="#fff200"/><stop offset="0.5414" stop-color="#ffff00"/><stop offset="0.5643" stop-color="#f1ff00"/><stop offset="0.57" stop-color="#eaff00"/><stop offset="0.5786" stop-color="#d4ff00"/><stop offset="0.6157" stop-color="#64ff00"/><stop offset="0.6186" stop-color="#4dff00"/><stop offset="0.6214" stop-color="#1bff00"/><stop offset="0.6243" stop-color="#00ff00"/><stop offset="0.7243" stop-color="#00ff00"/><stop offset="0.7271" stop-color="#00ff23"/><stop offset="0.8557" stop-color="#00fffb"/><stop offset="0.8643" stop-color="#00f3ff"/><stop offset="0.8786" stop-color="#00d3ff"/><stop offset="0.8843" stop-color="#00bfff"/><stop offset="0.9014" stop-color="#0076ff"/><stop offset="0.9071" stop-color="#0065ff"/><stop offset="0.9129" stop-color="#005aff"/><stop offset="0.9271" stop-color="#0047ff"/><stop offset="0.9529" stop-color="#002eff"/><stop offset="0.9986" stop-color="#0016ff"/></linearGradient><linearGradient id="g53" x1="0" y1="0" x2="0" y2="1"><stop offset="0.001429" stop-color="#8fff00"/><stop offset="0.07286" stop-color="#adff00"/><stop offset="0.1729" stop-color="#fffe00"/><stop offset="0.2986" stop-color="#ffa400"/><stop offset="0.3414" stop-color="#ff8b00"/><stop offset="0.35" stop-color="#ff8900"/><stop offset="0.4129" stop-color="#ff9500"/><stop offset="0.4471" stop-color="#ffa600"/><stop offset="0.4986" stop-color="#ffb900"/><stop offset="0.51" stop-color="#ffc500"/><stop offset="0.5329" stop-color="#fff200"/><stop offset="0.5414" stop-color="#fffe00"/><stop offset="0.5643" stop-color="#f1ff00"/><stop offset="0.57" stop-color="#eaff00"/><stop offset="0.5786" stop-color="#d4ff00"/><stop offset="0.6157" stop-color="#63ff00"/><stop offset="0.6186" stop-color="#45ff00"/><stop offset="0.6214" stop-color="#13ff00"/><stop offset="0.6243" stop-color="#00ff00"/><stop offset="0.7214" stop-color="#00ff00"/><stop offset="0.7243" stop-color="#00ff1f"/><stop offset="0.8557" stop-color="#00fffd"/><stop offset="0.87" stop-color="#00e6ff"/><stop offset="0.8786" stop-color="#00d1ff"/><stop offset="0.9014" stop-color="#0075ff"/><stop offset="0.9071" stop-color="#0064ff"/><stop offset="0.9129" stop-color="#005aff"/><stop offset="0.9271" stop-color="#0046ff"/><stop offset="0.95" stop-color="#002fff"/><stop offset="0.9986" stop-color="#0016ff"/></linearGradient><linearGradient id="g54" x1="0" y1="0" x2="0" y2="1"><stop offset="0.001429" stop-color="#92ff00"/><stop offset="0.06714" stop-color="#afff00"/><stop offset="0.1643" stop-color="#fffe00"/><stop offset="0.2986" stop-color="#ff9f00"/><stop offset="0.35" stop-color="#ff8600"/><stop offset="0.4129" stop-color="#ff9200"/><stop offset="0.4471" stop-color="#ffa400"/><stop offset="0.4986" stop-color="#ffb800"/><stop offset="0.51" stop-color="#ffc500"/><stop offset="0.5329" stop-color="#fff200"/><stop offset="0.5414" stop-color="#fffe00"/><stop offset="0.5643" stop-color="#f1ff00"/><stop offset="0.57" stop-color="#e9ff00"/><stop offset="0.5786" stop-color="#d3ff00"/><stop offset="0.6157" stop-color="#62ff00"/><stop offset="0.6186" stop-color="#3eff00"/><stop offset="0.6214" stop-color="#0bff00"/><stop offset="0.6243" stop-color="#00ff00"/><stop offset="0.7214" stop-color="#00ff00"/><stop offset="0.7243" stop-color="#00ff20"/><stop offset="0.8557" stop-color="#00fffe"/><stop offset="0.8757" stop-color="#00d7ff"/><stop offset="0.8814" stop-color="#00c5ff"/><stop offset="0.9014" stop-color="#0074ff"/><stop offset="0.9071" stop-color="#0064ff"/><stop offset="0.9129" stop-color="#0059ff"/><stop offset="0.9271" stop-color="#0046ff"/><stop offset="0.95" stop-color="#002fff"/><stop offset="0.9986" stop-color="#0015ff"/></linearGradient><linearGradient id="g55" x1="0" y1="0" x2="0" y2="1"><stop offset="0.001429" stop-color="#96ff00"/><stop offset="0.05857" stop-color="#afff00"/><stop offset="0.1586" stop-color="#fffd00"/><stop offset="0.3014" stop-color="#ff9800"/><stop offset="0.35" stop-color="#ff8300"/><stop offset="0.41" stop-color="#ff8e00"/><stop offset="0.4443" stop-color="#ffa100"/><stop offset="0.4986" stop-color="#ffb700"/><stop offset="0.51" stop-color="#ffc400"/><stop offset="0.5329" stop-color="#fff200"/><stop offset="0.5414" stop-color="#fffe00"/><stop offset="0.5643" stop-color="#f1ff00"/><stop offset="0.57" stop-color="#e9ff00"/><stop offset="0.5786" stop-color="#d2ff00"/><stop offset="0.6157" stop-color="#61ff00"/><stop offset="0.6186" stop-color="#36ff00"/><stop offset="0.6214" stop-color="#03ff00"/><stop offset="0.6243" stop-color="#00ff00"/><stop offset="0.7214" stop-color="#00ff00"/><stop offset="0.7243" stop-color="#00ff21"/><stop offset="0.8529" stop-color="#00fffa"/><stop offset="0.8586" stop-color="#00f9ff"/><stop offset="0.8757" stop-color="#00d5ff"/><stop offset="0.8814" stop-color="#00c2ff"/><stop offset="0.9014" stop-color="#0074ff"/><stop offset="0.9071" stop-color="#0064ff"/><stop offset="0.9157" stop-color="#0054ff"/><stop offset="0.93" stop-color="#0042ff"/><stop offset="0.95" stop-color="#002eff"/><stop offset="0.9986" stop-color="#0015ff"/></linearGradient><linearGradient id="g56" x1="0" y1="0" x2="0" y2="1"><stop offset="0.001429" stop-color="#99ff00"/><stop offset="0.05" stop-color="#aeff00"/><stop offset="0.15" stop-color="#fffe00"/><stop offset="0.2186" stop-color="#ffd000"/><stop offset="0.3014" stop-color="#ff9300"/><stop offset="0.35" stop-color="#ff7f00"/><stop offset="0.41" stop-color="#ff8c00"/><stop offset="0.4443" stop-color="#ffa000"/><stop offset="0.4986" stop-color="#ffb700"/><stop offset="0.51" stop-color="#ffc400"/><stop offset="0.5329" stop-color="#fff200"/><stop offset="0.5414" stop-color="#fffe00"/><stop offset="0.5643" stop-color="#f0ff00"/><stop offset="0.57" stop-color="#e9ff00"/><stop offset="0.5786" stop-color="#d2ff00"/><stop offset="0.6157" stop-color="#5fff00"/><stop offset="0.6214" stop-color="#00ff00"/><stop offset="0.7214" stop-color="#00ff00"/><stop offset="0.7243" stop-color="#00ff23"/><stop offset="0.8529" stop-color="#00fffc"/><stop offset="0.8614" stop-color="#00f2ff"/><stop offset="0.8757" stop-color="#00d3ff"/><stop offset="0.9014" stop-color="#0073ff"/><stop offset="0.9071" stop-color="#0064ff"/><stop offset="0.9157" stop-color="#0054ff"/><stop offset="0.9329" stop-color="#003eff"/><stop offset="0.95" stop-color="#002dff"/><stop offset="0.9986" stop-color="#0014ff"/></linearGradient><linearGradient id="g57" x1="0" y1="0" x2="0" y2="1"><stop offset="0.001429" stop-color="#9cff00"/><stop offset="0.04429" stop-color="#b0ff00"/><stop offset="0.1414" stop-color="#fffe00"/><stop offset="0.2243" stop-color="#ffc800"/><stop offset="0.3014" stop-color="#ff8e00"/><stop offset="0.35" stop-color="#ff7c00"/><stop offset="0.41" stop-color="#ff8900"/><stop offset="0.4443" stop-color="#ff9e00"/><stop offset="0.4986" stop-color="#ffb600"/><stop offset="0.51" stop-color="#ffc300"/><stop offset="0.5329" stop-color="#fff100"/><stop offset="0.5414" stop-color="#fffe00"/><stop offset="0.5643" stop-color="#f0ff00"/><stop offset="0.57" stop-color="#e8ff00"/><stop offset="0.5786" stop-color="#d1ff00"/><stop offset="0.6129" stop-color="#67ff00"/><stop offset="0.6157" stop-color="#59ff00"/><stop offset="0.6186" stop-color="#26ff00"/><stop offset="0.6214" stop-color="#00ff00"/><stop offset="0.7186" stop-color="#00ff00"/><stop offset="0.7214" stop-color="#00ff1e"/><stop offset="0.8529" stop-color="#00fffd"/><stop offset="0.8729" stop-color="#00d9ff"/><stop offset="0.8814" stop-color="#00beff"/><stop offset="0.9014" stop-color="#0072ff"/><stop offset="0.9071" stop-color="#0063ff"/><stop offset="0.9157" stop-color="#0054ff"/><stop offset="0.9357" stop-color="#003aff"/><stop offset="0.95" stop-color="#002dff"/><stop offset="0.9986" stop-color="#0014ff"/></linearGradient><linearGradient id="g58" x1="0" y1="0" x2="0" y2="1"><stop offset="0.001429" stop-color="#a0ff00"/><stop offset="0.03571" stop-color="#b0ff00"/><stop offset="0.1357" stop-color="#fffd00"/><stop offset="0.2329" stop-color="#ffbd00"/><stop offset="0.3014" stop-color="#ff8900"/><stop offset="0.3471" stop-color="#ff7900"/><stop offset="0.3871" stop-color="#ff7f00"/><stop offset="0.41" stop-color="#ff8700"/><stop offset="0.4443" stop-color="#ff9d00"/><stop offset="0.4986" stop-color="#ffb500"/><stop offset="0.51" stop-color="#ffc200"/><stop offset="0.5329" stop-color="#fff100"/><stop offset="0.5414" stop-color="#fffe00"/><stop offset="0.5643" stop-color="#f0ff00"/><stop offset="0.57" stop-color="#e8ff00"/><stop offset="0.6129" stop-color="#66ff00"/><stop offset="0.6157" stop-color="#51ff00"/><stop offset="0.6186" stop-color="#1eff00"/><stop offset="0.6214" stop-color="#00ff00"/><stop offset="0.7186" stop-color="#00ff00"/><stop offset="0.7214" stop-color="#00ff20"/><stop offset="0.8529" stop-color="#00ffff"/><stop offset="0.8729" stop-color="#00d7ff"/><stop offset="0.8786" stop-color="#00c6ff"/><stop offset="0.9014" stop-color="#0072ff"/><stop offset="0.9071" stop-color="#0063ff"/><stop offset="0.9157" stop-color="#0053ff"/><stop offset="0.9329" stop-color="#003dff"/><stop offset="0.9471" stop-color="#002eff"/><stop offset="0.9986" stop-color="#0014ff"/></linearGradient><linearGradient id="g59" x1="0" y1="0" x2="0" y2="1"><stop offset="0.001429" stop-color="#a3ff00"/><stop offset="0.03" stop-color="#b2ff00"/><stop offset="0.1271" stop-color="#fffe00"/><stop offset="0.17" stop-color="#ffe400"/><stop offset="0.3014" stop-color="#ff8500"/><stop offset="0.3471" stop-color="#ff7600"/><stop offset="0.3871" stop-color="#ff7c00"/><stop offset="0.41" stop-color="#ff8400"/><stop offset="0.4443" stop-color="#ff9b00"/><stop offset="0.4986" stop-color="#ffb400"/><stop offset="0.51" stop-color="#ffc200"/><stop offset="0.5329" stop-color="#fff100"/><stop offset="0.5414" stop-color="#fffe00"/><stop offset="0.5643" stop-color="#f0ff00"/><stop offset="0.57" stop-color="#e7ff00"/><stop offset="0.6129" stop-color="#64ff00"/><stop offset="0.6157" stop-color="#4aff00"/><stop offset="0.6186" stop-color="#16ff00"/><stop offset="0.6214" stop-color="#00ff00"/><stop offset="0.7186" stop-color="#00ff00"/><stop offset="0.7214" stop-color="#00ff21"/><stop offset="0.85" stop-color="#00fffb"/><stop offset="0.8557" stop-color="#00f9ff"/><stop offset="0.8729" stop-color="#00d5ff"/><stop offset="0.9014" stop-color="#0071ff"/><stop offset="0.9071" stop-color="#0063ff"/><stop offset="0.9157" stop-color="#0053ff"/><stop offset="0.9329" stop-color="#003cff"/><stop offset="0.9471" stop-color="#002eff"/><stop offset="0.9986" stop-color="#0013ff"/></linearGradient><linearGradient id="g60" x1="0" y1="0" x2="0" y2="1"><stop offset="0.001429" stop-color="#a7ff00"/><stop offset="0.02429" stop-color="#b4ff00"/><stop offset="0.1186" stop-color="#fffe00"/><stop offset="0.1671" stop-color="#ffe200"/><stop offset="0.3014" stop-color="#ff8200"/><stop offset="0.3471" stop-color="#ff7300"/><stop offset="0.3871" stop-color="#ff7a00"/><stop offset="0.41" stop-color="#ff8200"/><stop offset="0.4471" stop-color="#ff9b00"/><stop offset="0.4986" stop-color="#ffb300"/><stop offset="0.51" stop-color="#ffc100"/><stop offset="0.5329" stop-color="#fff100"/><stop offset="0.5414" stop-color="#fffe00"/><stop offset="0.5643" stop-color="#f0ff00"/><stop offset="0.57" stop-color="#e7ff00"/><stop offset="0.6129" stop-color="#63ff00"/><stop offset="0.6157" stop-color="#42ff00"/><stop offset="0.6186" stop-color="#0eff00"/><stop offset="0.6214" stop-color="#00ff00"/><stop offset="0.7186" stop-color="#00ff00"/><stop offset="0.7214" stop-color="#00ff22"/><stop offset="0.85" stop-color="#00fffc"/><stop offset="0.8586" stop-color="#00f2ff"/><stop offset="0.8729" stop-color="#00d3ff"/><stop offset="0.9014" stop-color="#0071ff"/><stop offset="0.9071" stop-color="#0062ff"/><stop offset="0.9186" stop-color="#004eff"/><stop offset="0.9357" stop-color="#0038ff"/><stop offset="0.9471" stop-color="#002dff"/><stop offset="0.9986" stop-color="#0013ff"/></linearGradient><linearGradient id="g61" x1="0" y1="0" x2="0" y2="1"><stop offset="0.001429" stop-color="#abff00"/><stop offset="0.1129" stop-color="#fffd00"/><stop offset="0.1671" stop-color="#ffde00"/><stop offset="0.3014" stop-color="#ff8000"/><stop offset="0.3471" stop-color="#ff7000"/><stop offset="0.3871" stop-color="#ff7700"/><stop offset="0.41" stop-color="#ff7f00"/><stop offset="0.4471" stop-color="#ff9900"/><stop offset="0.4986" stop-color="#ffb300"/><stop offset="0.51" stop-color="#ffc100"/><stop offset="0.5329" stop-color="#fff000"/><stop offset="0.5414" stop-color="#fffe00"/><stop offset="0.5643" stop-color="#f0ff00"/><stop offset="0.57" stop-color="#e6ff00"/><stop offset="0.6129" stop-color="#62ff00"/><stop offset="0.6157" stop-color="#3aff00"/><stop offset="0.6186" stop-color="#06ff00"/><stop offset="0.6214" stop-color="#00ff00"/><stop offset="0.7157" stop-color="#00ff00"/><stop offset="0.7214" stop-color="#00ff24"/><stop offset="0.85" stop-color="#00fffe"/><stop offset="0.87" stop-color="#00d9ff"/><stop offset="0.8786" stop-color="#00bfff"/><stop offset="0.9014" stop-color="#0070ff"/><stop offset="0.9071" stop-color="#0062ff"/><stop offset="0.9186" stop-color="#004dff"/><stop offset="0.9357" stop-color="#0037ff"/><stop offset="0.9471" stop-color="#002dff"/><stop offset="0.9986" stop-color="#0012ff"/></linearGradient><linearGradient id="g62" x1="0" y1="0" x2="0" y2="1"><stop offset="0.001429" stop-color="#b1ff00"/><stop offset="0.1043" stop-color="#fffe00"/><stop offset="0.1643" stop-color="#ffdc00"/><stop offset="0.2986" stop-color="#ff7f00"/><stop offset="0.3471" stop-color="#ff6f00"/><stop offset="0.3871" stop-color="#ff7400"/><stop offset="0.41" stop-color="#ff7c00"/><stop offset="0.4471" stop-color="#ff9800"/><stop offset="0.4986" stop-color="#ffb200"/><stop offset="0.51" stop-color="#ffc000"/><stop offset="0.5329" stop-color="#fff000"/><stop offset="0.5414" stop-color="#fffe00"/><stop offset="0.5614" stop-color="#f2ff00"/><stop offset="0.57" stop-color="#e6ff00"/><stop offset="0.6129" stop-color="#60ff00"/><stop offset="0.6186" stop-color="#00ff00"/><stop offset="0.7157" stop-color="#00ff00"/><stop offset="0.7186" stop-color="#00ff1f"/><stop offset="0.85" stop-color="#00ffff"/><stop offset="0.87" stop-color="#00d7ff"/><stop offset="0.9014" stop-color="#0070ff"/><stop offset="0.9186" stop-color="#004dff"/><stop offset="0.9357" stop-color="#0036ff"/><stop offset="0.9471" stop-color="#002cff"/><stop offset="0.9986" stop-color="#0012ff"/></linearGradient><linearGradient id="g63" x1="0" y1="0" x2="0" y2="1"><stop offset="0.001429" stop-color="#b7ff00"/><stop offset="0.09571" stop-color="#fffe00"/><stop offset="0.1643" stop-color="#ffd700"/><stop offset="0.2986" stop-color="#ff7c00"/><stop offset="0.3471" stop-color="#ff6d00"/><stop offset="0.3871" stop-color="#ff7200"/><stop offset="0.41" stop-color="#ff7a00"/><stop offset="0.4471" stop-color="#ff9600"/><stop offset="0.4986" stop-color="#ffb100"/><stop offset="0.51" stop-color="#ffbf00"/><stop offset="0.5329" stop-color="#fff000"/><stop offset="0.5414" stop-color="#fffe00"/><stop offset="0.5614" stop-color="#f2ff00"/><stop offset="0.57" stop-color="#e5ff00"/><stop offset="0.61" stop-color="#68ff00"/><stop offset="0.6129" stop-color="#5eff00"/><stop offset="0.6157" stop-color="#2aff00"/><stop offset="0.6186" stop-color="#00ff00"/><stop offset="0.7157" stop-color="#00ff00"/><stop offset="0.7186" stop-color="#00ff21"/><stop offset="0.8471" stop-color="#00fffb"/><stop offset="0.8529" stop-color="#00f8ff"/><stop offset="0.87" stop-color="#00d5ff"/><stop offset="0.9014" stop-color="#006fff"/><stop offset="0.9186" stop-color="#004cff"/><stop offset="0.9329" stop-color="#0039ff"/><stop offset="0.9443" stop-color="#002eff"/><stop offset="0.9986" stop-color="#0012ff"/></linearGradient><linearGradient id="g64" x1="0" y1="0" x2="0" y2="1"><stop offset="0.001429" stop-color="#bdff00"/><stop offset="0.09" stop-color="#fffd00"/><stop offset="0.1643" stop-color="#ffd300"/><stop offset="0.2986" stop-color="#ff7900"/><stop offset="0.3471" stop-color="#ff6b00"/><stop offset="0.3871" stop-color="#ff6f00"/><stop offset="0.41" stop-color="#ff7700"/><stop offset="0.4471" stop-color="#ff9400"/><stop offset="0.4986" stop-color="#ffb000"/><stop offset="0.51" stop-color="#ffbf00"/><stop offset="0.5329" stop-color="#fff000"/><stop offset="0.5414" stop-color="#fffe00"/><stop offset="0.5614" stop-color="#f2ff00"/><stop offset="0.57" stop-color="#e5ff00"/><stop offset="0.61" stop-color="#67ff00"/><stop offset="0.6129" stop-color="#56ff00"/><stop offset="0.6157" stop-color="#22ff00"/><stop offset="0.6186" stop-color="#00ff00"/><stop offset="0.7157" stop-color="#00ff00"/><stop offset="0.7186" stop-color="#00ff22"/><stop offset="0.8471" stop-color="#00fffd"/><stop offset="0.8557" stop-color="#00f2ff"/><stop offset="0.87" stop-color="#00d3ff"/><stop offset="0.9014" stop-color="#006fff"/><stop offset="0.9186" stop-color="#004cff"/><stop offset="0.9329" stop-color="#0038ff"/><stop offset="0.9443" stop-color="#002dff"/><stop offset="0.9986" stop-color="#0011ff"/></linearGradient><linearGradient id="g65" x1="0" y1="0" x2="0" y2="1"><stop offset="0.001429" stop-color="#c4ff00"/><stop offset="0.08143" stop-color="#fffd00"/><stop offset="0.1643" stop-color="#ffcf00"/><stop offset="0.2986" stop-color="#ff7700"/><stop offset="0.3471" stop-color="#ff6a00"/><stop offset="0.3871" stop-color="#ff6c00"/><stop offset="0.41" stop-color="#ff7500"/><stop offset="0.4471" stop-color="#ff9300"/><stop offset="0.4986" stop-color="#ffb000"/><stop offset="0.51" stop-color="#ffbe00"/><stop offset="0.5329" stop-color="#ffef00"/><stop offset="0.5414" stop-color="#fffe00"/><stop offset="0.5614" stop-color="#f2ff00"/><stop offset="0.57" stop-color="#e5ff00"/><stop offset="0.61" stop-color="#65ff00"/><stop offset="0.6129" stop-color="#4eff00"/><stop offset="0.6157" stop-color="#1aff00"/><stop offset="0.6186" stop-color="#00ff00"/><stop offset="0.7129" stop-color="#00ff00"/><stop offset="0.7157" stop-color="#00ff0f"/><stop offset="0.7186" stop-color="#00ff23"/><stop offset="0.8471" stop-color="#00fffe"/><stop offset="0.8671" stop-color="#00d8ff"/><stop offset="0.9014" stop-color="#006fff"/><stop offset="0.9186" stop-color="#004bff"/><stop offset="0.9329" stop-color="#0037ff"/><stop offset="0.9443" stop-color="#002cff"/><stop offset="0.9986" stop-color="#0011ff"/></linearGradient><linearGradient id="g66" x1="0" y1="0" x2="0" y2="1"><stop offset="0.001429" stop-color="#caff00"/><stop offset="0.07286" stop-color="#fffe00"/><stop offset="0.1643" stop-color="#ffcb00"/><stop offset="0.3014" stop-color="#ff7300"/><stop offset="0.35" stop-color="#ff6800"/><stop offset="0.3871" stop-color="#ff6a00"/><stop offset="0.41" stop-color="#ff7200"/><stop offset="0.4471" stop-color="#ff9100"/><stop offset="0.4986" stop-color="#ffaf00"/><stop offset="0.51" stop-color="#ffbd00"/><stop offset="0.5329" stop-color="#ffef00"/><stop offset="0.5414" stop-color="#fffe00"/><stop offset="0.5614" stop-color="#f2ff00"/><stop offset="0.57" stop-color="#e4ff00"/><stop offset="0.61" stop-color="#64ff00"/><stop offset="0.6129" stop-color="#46ff00"/><stop offset="0.6157" stop-color="#11ff00"/><stop offset="0.6186" stop-color="#00ff00"/><stop offset="0.7129" stop-color="#00ff00"/><stop offset="0.7157" stop-color="#00ff1f"/><stop offset="0.8471" stop-color="#00ffff"/><stop offset="0.8671" stop-color="#00d7ff"/><stop offset="0.9014" stop-color="#006eff"/><stop offset="0.91" stop-color="#005aff"/><stop offset="0.9214" stop-color="#0046ff"/><stop offset="0.9329" stop-color="#0036ff"/><stop offset="0.9443" stop-color="#002cff"/><stop offset="0.9986" stop-color="#0010ff"/></linearGradient><linearGradient id="g67" x1="0" y1="0" x2="0" y2="1"><stop offset="0.001429" stop-color="#d1ff00"/><stop offset="0.06714" stop-color="#fffd00"/><stop offset="0.1614" stop-color="#ffc900"/><stop offset="0.3014" stop-color="#ff7000"/><stop offset="0.35" stop-color="#ff6600"/><stop offset="0.3871" stop-color="#ff6700"/><stop offset="0.41" stop-color="#ff7000"/><stop offset="0.4471" stop-color="#ff9000"/><stop offset="0.4986" stop-color="#ffae00"/><stop offset="0.51" stop-color="#ffbd00"/><stop offset="0.5329" stop-color="#ffef00"/><stop offset="0.5414" stop-color="#fffd00"/><stop offset="0.5614" stop-color="#f1ff00"/><stop offset="0.57" stop-color="#e4ff00"/><stop offset="0.61" stop-color="#63ff00"/><stop offset="0.6129" stop-color="#3eff00"/><stop offset="0.6157" stop-color="#09ff00"/><stop offset="0.6186" stop-color="#00ff00"/><stop offset="0.7129" stop-color="#00ff00"/><stop offset="0.7157" stop-color="#00ff21"/><stop offset="0.8443" stop-color="#00fffc"/><stop offset="0.85" stop-color="#00f8ff"/><stop offset="0.8671" stop-color="#00d5ff"/><stop offset="0.9014" stop-color="#006eff"/><stop offset="0.9214" stop-color="#0045ff"/><stop offset="0.9329" stop-color="#0035ff"/><stop offset="0.9443" stop-color="#002bff"/><stop offset="0.9986" stop-color="#0010ff"/></linearGradient><linearGradient id="g68" x1="0" y1="0" x2="0" y2="1"><stop offset="0.001429" stop-color="#d7ff00"/><stop offset="0.05857" stop-color="#fffd00"/><stop offset="0.1614" stop-color="#ffc500"/><stop offset="0.3014" stop-color="#ff6e00"/><stop offset="0.3414" stop-color="#ff6500"/><stop offset="0.3814" stop-color="#ff6400"/><stop offset="0.4129" stop-color="#ff6f00"/><stop offset="0.4443" stop-color="#ff8b00"/><stop offset="0.4786" stop-color="#ff9f00"/><stop offset="0.5014" stop-color="#ffb000"/><stop offset="0.51" stop-color="#ffbd00"/><stop offset="0.5329" stop-color="#ffef00"/><stop offset="0.5414" stop-color="#fffd00"/><stop offset="0.5614" stop-color="#f1ff00"/><stop offset="0.5671" stop-color="#eaff00"/><stop offset="0.5757" stop-color="#d2ff00"/><stop offset="0.61" stop-color="#61ff00"/><stop offset="0.6129" stop-color="#36ff00"/><stop offset="0.6157" stop-color="#01ff00"/><stop offset="0.7129" stop-color="#00ff00"/><stop offset="0.7157" stop-color="#00ff22"/><stop offset="0.8443" stop-color="#00fffd"/><stop offset="0.8529" stop-color="#00f1ff"/><stop offset="0.8671" stop-color="#00d3ff"/><stop offset="0.9014" stop-color="#006dff"/><stop offset="0.9129" stop-color="#0054ff"/><stop offset="0.9243" stop-color="#0040ff"/><stop offset="0.9329" stop-color="#0034ff"/><stop offset="0.9443" stop-color="#002bff"/><stop offset="0.9986" stop-color="#0010ff"/></linearGradient><linearGradient id="g69" x1="0" y1="0" x2="0" y2="1"><stop offset="0.001429" stop-color="#deff00"/><stop offset="0.05" stop-color="#fffd00"/><stop offset="0.1643" stop-color="#ffbf00"/><stop offset="0.25" stop-color="#ff8e00"/><stop offset="0.3014" stop-color="#ff6b00"/><stop offset="0.3414" stop-color="#ff6400"/><stop offset="0.3843" stop-color="#ff6200"/><stop offset="0.4129" stop-color="#ff6c00"/><stop offset="0.4443" stop-color="#ff8900"/><stop offset="0.4786" stop-color="#ff9d00"/><stop offset="0.5014" stop-color="#ffaf00"/><stop offset="0.51" stop-color="#ffbd00"/><stop offset="0.5329" stop-color="#ffef00"/><stop offset="0.5414" stop-color="#fffd00"/><stop offset="0.5614" stop-color="#f1ff00"/><stop offset="0.5671" stop-color="#e9ff00"/><stop offset="0.5757" stop-color="#d1ff00"/><stop offset="0.61" stop-color="#60ff00"/><stop offset="0.6157" stop-color="#00ff00"/><stop offset="0.71" stop-color="#00ff00"/><stop offset="0.7129" stop-color="#00ff0e"/><stop offset="0.7157" stop-color="#00ff23"/><stop offset="0.8443" stop-color="#00fffe"/><stop offset="0.8643" stop-color="#00d8ff"/><stop offset="0.9014" stop-color="#006dff"/><stop offset="0.9129" stop-color="#0053ff"/><stop offset="0.9243" stop-color="#003fff"/><stop offset="0.9329" stop-color="#0033ff"/><stop offset="0.9443" stop-color="#002aff"/><stop offset="0.9986" stop-color="#000fff"/></linearGradient><linearGradient id="g70" x1="0" y1="0" x2="0" y2="1"><stop offset="0.001429" stop-color="#e4ff00"/><stop offset="0.04143" stop-color="#fffd00"/><stop offset="0.2157" stop-color="#ff9f00"/><stop offset="0.3014" stop-color="#ff6900"/><stop offset="0.3843" stop-color="#ff5f00"/><stop offset="0.4129" stop-color="#ff6a00"/><stop offset="0.4443" stop-color="#ff8600"/><stop offset="0.4786" stop-color="#ff9c00"/><stop offset="0.5014" stop-color="#ffaf00"/><stop offset="0.51" stop-color="#ffbd00"/><stop offset="0.5329" stop-color="#ffef00"/><stop offset="0.5414" stop-color="#fffd00"/><stop offset="0.5614" stop-color="#f1ff00"/><stop offset="0.5671" stop-color="#e9ff00"/><stop offset="0.5757" stop-color="#d0ff00"/><stop offset="0.6071" stop-color="#68ff00"/><stop offset="0.61" stop-color="#5cff00"/><stop offset="0.6129" stop-color="#26ff00"/><stop offset="0.6157" stop-color="#00ff00"/><stop offset="0.71" stop-color="#00ff00"/><stop offset="0.7129" stop-color="#00ff1f"/><stop offset="0.8414" stop-color="#00fffb"/><stop offset="0.8443" stop-color="#00feff"/><stop offset="0.8643" stop-color="#00d6ff"/><stop offset="0.8986" stop-color="#0074ff"/><stop offset="0.9129" stop-color="#0053ff"/><stop offset="0.9243" stop-color="#003eff"/><stop offset="0.9329" stop-color="#0033ff"/><stop offset="0.9443" stop-color="#002aff"/><stop offset="0.9986" stop-color="#000fff"/></linearGradient><linearGradient id="g71" x1="0" y1="0" x2="0" y2="1"><stop offset="0.001429" stop-color="#ebff00"/><stop offset="0.03286" stop-color="#fffd00"/><stop offset="0.2271" stop-color="#ff9600"/><stop offset="0.3014" stop-color="#ff6700"/><stop offset="0.3843" stop-color="#ff5d00"/><stop offset="0.4157" stop-color="#ff6900"/><stop offset="0.4443" stop-color="#ff8400"/><stop offset="0.4757" stop-color="#ff9900"/><stop offset="0.5014" stop-color="#ffaf00"/><stop offset="0.51" stop-color="#ffbd00"/><stop offset="0.5329" stop-color="#ffef00"/><stop offset="0.5414" stop-color="#fffd00"/><stop offset="0.5614" stop-color="#f1ff00"/><stop offset="0.5671" stop-color="#e8ff00"/><stop offset="0.5729" stop-color="#d9ff00"/><stop offset="0.6071" stop-color="#66ff00"/><stop offset="0.61" stop-color="#53ff00"/><stop offset="0.6129" stop-color="#1dff00"/><stop offset="0.6157" stop-color="#00ff00"/><stop offset="0.71" stop-color="#00ff00"/><stop offset="0.7129" stop-color="#00ff20"/><stop offset="0.8414" stop-color="#00fffc"/><stop offset="0.8471" stop-color="#00f8ff"/><stop offset="0.8643" stop-color="#00d5ff"/><stop offset="0.8986" stop-color="#0073ff"/><stop offset="0.9129" stop-color="#0052ff"/><stop offset="0.9243" stop-color="#003dff"/><stop offset="0.9329" stop-color="#0032ff"/><stop offset="0.9443" stop-color="#0029ff"/><stop offset="0.9986" stop-color="#000eff"/></linearGradient><linearGradient id="g72" x1="0" y1="0" x2="0" y2="1"><stop offset="0.001429" stop-color="#f1ff00"/><stop offset="0.02429" stop-color="#fffd00"/><stop offset="0.2414" stop-color="#ff8c00"/><stop offset="0.3014" stop-color="#ff6600"/><stop offset="0.3843" stop-color="#ff5a00"/><stop offset="0.4157" stop-color="#ff6700"/><stop offset="0.5014" stop-color="#ffaf00"/><stop offset="0.51" stop-color="#ffbc00"/><stop offset="0.5329" stop-color="#ffee00"/><stop offset="0.5414" stop-color="#fffd00"/><stop offset="0.5614" stop-color="#f1ff00"/><stop offset="0.5671" stop-color="#e8ff00"/><stop offset="0.5729" stop-color="#d8ff00"/><stop offset="0.6071" stop-color="#65ff00"/><stop offset="0.61" stop-color="#4bff00"/><stop offset="0.6129" stop-color="#14ff00"/><stop offset="0.6157" stop-color="#00ff00"/><stop offset="0.71" stop-color="#00ff00"/><stop offset="0.7129" stop-color="#00ff22"/><stop offset="0.8414" stop-color="#00fffd"/><stop offset="0.8643" stop-color="#00d3ff"/><stop offset="0.8986" stop-color="#0073ff"/><stop offset="0.9129" stop-color="#0051ff"/><stop offset="0.9243" stop-color="#003cff"/><stop offset="0.9329" stop-color="#0031ff"/><stop offset="0.9443" stop-color="#0029ff"/><stop offset="0.9986" stop-color="#000eff"/></linearGradient><linearGradient id="g73" x1="0" y1="0" x2="0" y2="1"><stop offset="0.001429" stop-color="#f8ff00"/><stop offset="0.01571" stop-color="#fffd00"/><stop offset="0.06714" stop-color="#ffe000"/><stop offset="0.2471" stop-color="#ff8600"/><stop offset="0.3014" stop-color="#ff6400"/><stop offset="0.3843" stop-color="#ff5800"/><stop offset="0.4157" stop-color="#ff6400"/><stop offset="0.4986" stop-color="#ffac00"/><stop offset="0.51" stop-color="#ffbc00"/><stop offset="0.5329" stop-color="#ffee00"/><stop offset="0.5414" stop-color="#fffd00"/><stop offset="0.5614" stop-color="#f0ff00"/><stop offset="0.5671" stop-color="#e7ff00"/><stop offset="0.5729" stop-color="#d7ff00"/><stop offset="0.6071" stop-color="#64ff00"/><stop offset="0.61" stop-color="#43ff00"/><stop offset="0.6129" stop-color="#0cff00"/><stop offset="0.6157" stop-color="#00ff00"/><stop offset="0.71" stop-color="#00ff00"/><stop offset="0.7129" stop-color="#00ff23"/><stop offset="0.8414" stop-color="#00ffff"/><stop offset="0.8643" stop-color="#00d1ff"/><stop offset="0.8957" stop-color="#007aff"/><stop offset="0.9129" stop-color="#0051ff"/><stop offset="0.9243" stop-color="#003bff"/><stop offset="0.9329" stop-color="#0030ff"/><stop offset="0.9443" stop-color="#0028ff"/><stop offset="0.9986" stop-color="#000eff"/></linearGradient><linearGradient id="g74" x1="0" y1="0" x2="0" y2="1"><stop offset="0.001429" stop-color="#feff00"/><stop offset="0.06714" stop-color="#ffdb00"/><stop offset="0.2443" stop-color="#ff8500"/><stop offset="0.3014" stop-color="#ff6300"/><stop offset="0.3843" stop-color="#ff5500"/><stop offset="0.4157" stop-color="#ff6200"/><stop offset="0.4986" stop-color="#ffac00"/><stop offset="0.51" stop-color="#ffbc00"/><stop offset="0.5329" stop-color="#ffee00"/><stop offset="0.5414" stop-color="#fffd00"/><stop offset="0.5614" stop-color="#f0ff00"/><stop offset="0.5671" stop-color="#e7ff00"/><stop offset="0.5729" stop-color="#d6ff00"/><stop offset="0.6071" stop-color="#62ff00"/><stop offset="0.61" stop-color="#3aff00"/><stop offset="0.6129" stop-color="#03ff00"/><stop offset="0.6157" stop-color="#00ff00"/><stop offset="0.7071" stop-color="#00ff00"/><stop offset="0.71" stop-color="#00ff1f"/><stop offset="0.8386" stop-color="#00fffb"/><stop offset="0.8414" stop-color="#00feff"/><stop offset="0.8614" stop-color="#00d6ff"/><stop offset="0.8957" stop-color="#0079ff"/><stop offset="0.9129" stop-color="#0050ff"/><stop offset="0.9243" stop-color="#003aff"/><stop offset="0.9414" stop-color="#002aff"/><stop offset="0.9986" stop-color="#000dff"/></linearGradient><linearGradient id="g75" x1="0" y1="0" x2="0" y2="1"><stop offset="0.001429" stop-color="#fffb00"/><stop offset="0.06714" stop-color="#ffd600"/><stop offset="0.2471" stop-color="#ff8200"/><stop offset="0.3014" stop-color="#ff6200"/><stop offset="0.3443" stop-color="#ff5700"/><stop offset="0.3843" stop-color="#ff5300"/><stop offset="0.4157" stop-color="#ff5f00"/><stop offset="0.4757" stop-color="#ff9300"/><stop offset="0.4986" stop-color="#ffab00"/><stop offset="0.51" stop-color="#ffbc00"/><stop offset="0.5329" stop-color="#ffee00"/><stop offset="0.5414" stop-color="#fffd00"/><stop offset="0.5614" stop-color="#f0ff00"/><stop offset="0.5671" stop-color="#e6ff00"/><stop offset="0.6071" stop-color="#61ff00"/><stop offset="0.6129" stop-color="#00ff00"/><stop offset="0.7071" stop-color="#00ff00"/><stop offset="0.71" stop-color="#00ff20"/><stop offset="0.8386" stop-color="#00fffc"/><stop offset="0.8443" stop-color="#00f7ff"/><stop offset="0.8614" stop-color="#00d4ff"/><stop offset="0.8957" stop-color="#0079ff"/><stop offset="0.9129" stop-color="#004fff"/><stop offset="0.9243" stop-color="#0039ff"/><stop offset="0.9414" stop-color="#0029ff"/><stop offset="0.9986" stop-color="#000dff"/></linearGradient><linearGradient id="g76" x1="0" y1="0" x2="0" y2="1"><stop offset="0.001429" stop-color="#fff700"/><stop offset="0.06714" stop-color="#ffd200"/><stop offset="0.25" stop-color="#ff7e00"/><stop offset="0.3014" stop-color="#ff6100"/><stop offset="0.3443" stop-color="#ff5500"/><stop offset="0.3843" stop-color="#ff5100"/><stop offset="0.4157" stop-color="#ff5c00"/><stop offset="0.4843" stop-color="#ff9b00"/><stop offset="0.5071" stop-color="#ffb700"/><stop offset="0.5357" stop-color="#fff400"/><stop offset="0.5414" stop-color="#fffd00"/><stop offset="0.5614" stop-color="#f0ff00"/><stop offset="0.5671" stop-color="#e6ff00"/><stop offset="0.6071" stop-color="#5fff00"/><stop offset="0.61" stop-color="#29ff00"/><stop offset="0.6129" stop-color="#00ff00"/><stop offset="0.7071" stop-color="#00ff00"/><stop offset="0.71" stop-color="#00ff21"/><stop offset="0.8386" stop-color="#00fffe"/><stop offset="0.8614" stop-color="#00d3ff"/><stop offset="0.8929" stop-color="#007fff"/><stop offset="0.9129" stop-color="#004fff"/><stop offset="0.9243" stop-color="#0038ff"/><stop offset="0.9414" stop-color="#0029ff"/><stop offset="0.9986" stop-color="#000cff"/></linearGradient><linearGradient id="g77" x1="0" y1="0" x2="0" y2="1"><stop offset="0.001429" stop-color="#fff200"/><stop offset="0.06714" stop-color="#ffcd00"/><stop offset="0.2471" stop-color="#ff7e00"/><stop offset="0.3014" stop-color="#ff6000"/><stop offset="0.3443" stop-color="#ff5300"/><stop offset="0.3843" stop-color="#ff4e00"/><stop offset="0.4157" stop-color="#ff5a00"/><stop offset="0.4843" stop-color="#ff9900"/><stop offset="0.5071" stop-color="#ffb700"/><stop offset="0.5357" stop-color="#fff400"/><stop offset="0.5414" stop-color="#fffd00"/><stop offset="0.5614" stop-color="#f0ff00"/><stop offset="0.5671" stop-color="#e5ff00"/><stop offset="0.6043" stop-color="#68ff00"/><stop offset="0.6071" stop-color="#59ff00"/><stop offset="0.61" stop-color="#21ff00"/><stop offset="0.6129" stop-color="#00ff00"/><stop offset="0.7071" stop-color="#00ff00"/><stop offset="0.71" stop-color="#00ff23"/><stop offset="0.8386" stop-color="#00ffff"/><stop offset="0.8614" stop-color="#00d1ff"/><stop offset="0.8929" stop-color="#007eff"/><stop offset="0.9157" stop-color="#0047ff"/><stop offset="0.9243" stop-color="#0037ff"/><stop offset="0.9414" stop-color="#0028ff"/><stop offset="0.9986" stop-color="#000cff"/></linearGradient><linearGradient id="g78" x1="0" y1="0" x2="0" y2="1"><stop offset="0.001429" stop-color="#ffed00"/><stop offset="0.06714" stop-color="#ffc900"/><stop offset="0.2471" stop-color="#ff7c00"/><stop offset="0.3043" stop-color="#ff5d00"/><stop offset="0.3471" stop-color="#ff5000"/><stop offset="0.3871" stop-color="#ff4c00"/><stop offset="0.4157" stop-color="#ff5700"/><stop offset="0.4843" stop-color="#ff9800"/><stop offset="0.5071" stop-color="#ffb700"/><stop offset="0.5414" stop-color="#fffd00"/><stop offset="0.5586" stop-color="#f2ff00"/><stop offset="0.5671" stop-color="#e5ff00"/><stop offset="0.6043" stop-color="#66ff00"/><stop offset="0.6071" stop-color="#50ff00"/><stop offset="0.61" stop-color="#18ff00"/><stop offset="0.6129" stop-color="#00ff00"/><stop offset="0.7043" stop-color="#00ff00"/><stop offset="0.7071" stop-color="#00ff1f"/><stop offset="0.71" stop-color="#00ff24"/><stop offset="0.8357" stop-color="#00fffb"/><stop offset="0.8386" stop-color="#00fdff"/><stop offset="0.8586" stop-color="#00d6ff"/><stop offset="0.8929" stop-color="#007eff"/><stop offset="0.9157" stop-color="#0046ff"/><stop offset="0.9243" stop-color="#0036ff"/><stop offset="0.9414" stop-color="#0028ff"/><stop offset="0.9986" stop-color="#000cff"/></linearGradient><linearGradient id="g79" x1="0" y1="0" x2="0" y2="1"><stop offset="0.001429" stop-color="#ffe900"/><stop offset="0.06714" stop-color="#ffc500"/><stop offset="0.2471" stop-color="#ff7b00"/><stop offset="0.3043" stop-color="#ff5c00"/><stop offset="0.3471" stop-color="#ff4e00"/><stop offset="0.3871" stop-color="#ff4a00"/><stop offset="0.4157" stop-color="#ff5500"/><stop offset="0.4814" stop-color="#ff9400"/><stop offset="0.5043" stop-color="#ffb200"/><stop offset="0.5357" stop-color="#fff400"/><stop offset="0.5443" stop-color="#feff00"/><stop offset="0.5614" stop-color="#efff00"/><stop offset="0.5671" stop-color="#e4ff00"/><stop offset="0.6043" stop-color="#65ff00"/><stop offset="0.6071" stop-color="#48ff00"/><stop offset="0.61" stop-color="#0fff00"/><stop offset="0.6129" stop-color="#00ff00"/><stop offset="0.7043" stop-color="#00ff00"/><stop offset="0.7071" stop-color="#00ff20"/><stop offset="0.8357" stop-color="#00fffd"/><stop offset="0.8414" stop-color="#00f7ff"/><stop offset="0.8586" stop-color="#00d4ff"/><stop offset="0.9157" stop-color="#0045ff"/><stop offset="0.9243" stop-color="#0035ff"/><stop offset="0.9414" stop-color="#0027ff"/><stop offset="0.9986" stop-color="#000bff"/></linearGradient><linearGradient id="g80" x1="0" y1="0" x2="0" y2="1"><stop offset="0.001429" stop-color="#ffe400"/><stop offset="0.06714" stop-color="#ffc100"/><stop offset="0.2443" stop-color="#ff7a00"/><stop offset="0.3043" stop-color="#ff5b00"/><stop offset="0.3471" stop-color="#ff4c00"/><stop offset="0.3871" stop-color="#ff4700"/><stop offset="0.4186" stop-color="#ff5500"/><stop offset="0.4786" stop-color="#ff9000"/><stop offset="0.5043" stop-color="#ffb200"/><stop offset="0.5357" stop-color="#fff300"/><stop offset="0.5443" stop-color="#feff00"/><stop offset="0.5614" stop-color="#efff00"/><stop offset="0.5671" stop-color="#e4ff00"/><stop offset="0.6043" stop-color="#63ff00"/><stop offset="0.6071" stop-color="#3fff00"/><stop offset="0.61" stop-color="#06ff00"/><stop offset="0.6129" stop-color="#00ff00"/><stop offset="0.7043" stop-color="#00ff00"/><stop offset="0.7071" stop-color="#00ff21"/><stop offset="0.8357" stop-color="#00fffe"/><stop offset="0.8586" stop-color="#00d3ff"/><stop offset="0.9157" stop-color="#0044ff"/><stop offset="0.9243" stop-color="#0034ff"/><stop offset="0.9414" stop-color="#0027ff"/><stop offset="0.9986" stop-color="#000bff"/></linearGradient><linearGradient id="g81" x1="0" y1="0" x2="0" y2="1"><stop offset="0.001429" stop-color="#ffe000"/><stop offset="0.06714" stop-color="#ffbd00"/><stop offset="0.2443" stop-color="#ff7900"/><stop offset="0.3071" stop-color="#ff5800"/><stop offset="0.3471" stop-color="#ff4a00"/><stop offset="0.3871" stop-color="#ff4500"/><stop offset="0.4186" stop-color="#ff5200"/><stop offset="0.4757" stop-color="#ff8c00"/><stop offset="0.5043" stop-color="#ffb200"/><stop offset="0.5357" stop-color="#fff300"/><stop offset="0.5443" stop-color="#feff00"/><stop offset="0.5614" stop-color="#efff00"/><stop offset="0.5671" stop-color="#e3ff00"/><stop offset="0.6043" stop-color="#62ff00"/><stop offset="0.6071" stop-color="#36ff00"/><stop offset="0.61" stop-color="#00ff00"/><stop offset="0.7043" stop-color="#00ff00"/><stop offset="0.7071" stop-color="#00ff23"/><stop offset="0.8357" stop-color="#00feff"/><stop offset="0.8614" stop-color="#00caff"/><stop offset="0.9214" stop-color="#0037ff"/><stop offset="0.9386" stop-color="#0028ff"/><stop offset="0.9986" stop-color="#000aff"/></linearGradient><linearGradient id="g82" x1="0" y1="0" x2="0" y2="1"><stop offset="0.001429" stop-color="#ffdb00"/><stop offset="0.06714" stop-color="#ffb900"/><stop offset="0.2443" stop-color="#ff7700"/><stop offset="0.3129" stop-color="#ff5500"/><stop offset="0.3471" stop-color="#ff4800"/><stop offset="0.3871" stop-color="#ff4200"/><stop offset="0.4186" stop-color="#ff4f00"/><stop offset="0.4757" stop-color="#ff8b00"/><stop offset="0.5014" stop-color="#ffad00"/><stop offset="0.5357" stop-color="#fff300"/><stop offset="0.5443" stop-color="#feff00"/><stop offset="0.5614" stop-color="#efff00"/><stop offset="0.5671" stop-color="#e3ff00"/><stop offset="0.6043" stop-color="#60ff00"/><stop offset="0.6071" stop-color="#2eff00"/><stop offset="0.61" stop-color="#00ff00"/><stop offset="0.7014" stop-color="#00ff00"/><stop offset="0.7043" stop-color="#00ff19"/><stop offset="0.7071" stop-color="#00ff24"/><stop offset="0.8329" stop-color="#00fffc"/><stop offset="0.8386" stop-color="#00f8ff"/><stop offset="0.8586" stop-color="#00cfff"/><stop offset="0.9214" stop-color="#0036ff"/><stop offset="0.9386" stop-color="#0028ff"/><stop offset="0.9986" stop-color="#000aff"/></linearGradient><linearGradient id="g83" x1="0" y1="0" x2="0" y2="1"><stop offset="0.001429" stop-color="#ffd700"/><stop offset="0.06714" stop-color="#ffb500"/><stop offset="0.2471" stop-color="#ff7400"/><stop offset="0.3386" stop-color="#ff4900"/><stop offset="0.3871" stop-color="#ff4000"/><stop offset="0.4186" stop-color="#ff4d00"/><stop offset="0.4729" stop-color="#ff8700"/><stop offset="0.5014" stop-color="#ffae00"/><stop offset="0.5357" stop-color="#fff300"/><stop offset="0.5443" stop-color="#feff00"/><stop offset="0.5614" stop-color="#eeff00"/><stop offset="0.5671" stop-color="#e2ff00"/><stop offset="0.6014" stop-color="#69ff00"/><stop offset="0.6043" stop-color="#5eff00"/><stop offset="0.6071" stop-color="#25ff00"/><stop offset="0.61" stop-color="#00ff00"/><stop offset="0.7014" stop-color="#00ff00"/><stop offset="0.7043" stop-color="#00ff20"/><stop offset="0.8329" stop-color="#00fffd"/><stop offset="0.8414" stop-color="#00f1ff"/><stop offset="0.8614" stop-color="#00c7ff"/><stop offset="0.9014" stop-color="#0068ff"/><stop offset="0.9157" stop-color="#0040ff"/><stop offset="0.9214" stop-color="#0035ff"/><stop offset="0.9386" stop-color="#0027ff"/><stop offset="0.9986" stop-color="#000aff"/></linearGradient><linearGradient id="g84" x1="0" y1="0" x2="0" y2="1"><stop offset="0.001429" stop-color="#ffd300"/><stop offset="0.06714" stop-color="#ffb100"/><stop offset="0.2471" stop-color="#ff7200"/><stop offset="0.3386" stop-color="#ff4800"/><stop offset="0.3871" stop-color="#ff3e00"/><stop offset="0.4157" stop-color="#ff4900"/><stop offset="0.4729" stop-color="#ff8600"/><stop offset="0.4986" stop-color="#ffa900"/><stop offset="0.5357" stop-color="#fff300"/><stop offset="0.5443" stop-color="#feff00"/><stop offset="0.5614" stop-color="#eeff00"/><stop offset="0.5671" stop-color="#e1ff00"/><stop offset="0.6014" stop-color="#68ff00"/><stop offset="0.6043" stop-color="#56ff00"/><stop offset="0.6071" stop-color="#1cff00"/><stop offset="0.61" stop-color="#00ff00"/><stop offset="0.7014" stop-color="#00ff00"/><stop offset="0.7043" stop-color="#00ff21"/><stop offset="0.8329" stop-color="#00ffff"/><stop offset="0.8643" stop-color="#00bfff"/><stop offset="0.9014" stop-color="#0068ff"/><stop offset="0.9157" stop-color="#003fff"/><stop offset="0.9214" stop-color="#0034ff"/><stop offset="0.9414" stop-color="#0025ff"/><stop offset="0.9986" stop-color="#0009ff"/></linearGradient><linearGradient id="g85" x1="0" y1="0" x2="0" y2="1"><stop offset="0.001429" stop-color="#ffd100"/><stop offset="0.07" stop-color="#ffad00"/><stop offset="0.2471" stop-color="#ff7100"/><stop offset="0.3443" stop-color="#ff4400"/><stop offset="0.39" stop-color="#ff3c00"/><stop offset="0.4186" stop-color="#ff4900"/><stop offset="0.4729" stop-color="#ff8500"/><stop offset="0.4986" stop-color="#ffa900"/><stop offset="0.5357" stop-color="#fff400"/><stop offset="0.5443" stop-color="#feff00"/><stop offset="0.5614" stop-color="#eeff00"/><stop offset="0.5671" stop-color="#e1ff00"/><stop offset="0.6014" stop-color="#66ff00"/><stop offset="0.6043" stop-color="#4dff00"/><stop offset="0.6071" stop-color="#13ff00"/><stop offset="0.61" stop-color="#00ff00"/><stop offset="0.7014" stop-color="#00ff00"/><stop offset="0.7043" stop-color="#00ff22"/><stop offset="0.83" stop-color="#00fffb"/><stop offset="0.8357" stop-color="#00f9ff"/><stop offset="0.8586" stop-color="#00caff"/><stop offset="0.9014" stop-color="#0068ff"/><stop offset="0.9157" stop-color="#003eff"/><stop offset="0.9214" stop-color="#0033ff"/><stop offset="0.9443" stop-color="#0022ff"/><stop offset="0.9986" stop-color="#0009ff"/></linearGradient><linearGradient id="g86" x1="0" y1="0" x2="0" y2="1"><stop offset="0.001429" stop-color="#ffce00"/><stop offset="0.07" stop-color="#ffaa00"/><stop offset="0.2471" stop-color="#ff6f00"/><stop offset="0.3443" stop-color="#ff4300"/><stop offset="0.39" stop-color="#ff3a00"/><stop offset="0.4186" stop-color="#ff4700"/><stop offset="0.47" stop-color="#ff8100"/><stop offset="0.4957" stop-color="#ffa500"/><stop offset="0.5357" stop-color="#fff400"/><stop offset="0.5443" stop-color="#feff00"/><stop offset="0.5586" stop-color="#f1ff00"/><stop offset="0.5643" stop-color="#e8ff00"/><stop offset="0.57" stop-color="#d7ff00"/><stop offset="0.6014" stop-color="#65ff00"/><stop offset="0.6043" stop-color="#44ff00"/><stop offset="0.6071" stop-color="#09ff00"/><stop offset="0.61" stop-color="#00ff00"/><stop offset="0.6986" stop-color="#00ff00"/><stop offset="0.7014" stop-color="#00ff0f"/><stop offset="0.7043" stop-color="#00ff24"/><stop offset="0.83" stop-color="#00fffc"/><stop offset="0.8386" stop-color="#00f2ff"/><stop offset="0.8643" stop-color="#00bcff"/><stop offset="0.9014" stop-color="#0067ff"/><stop offset="0.9157" stop-color="#003cff"/><stop offset="0.9214" stop-color="#0032ff"/><stop offset="0.9471" stop-color="#0020ff"/><stop offset="0.9986" stop-color="#0008ff"/></linearGradient><linearGradient id="g87" x1="0" y1="0" x2="0" y2="1"><stop offset="0.001429" stop-color="#ffcc00"/><stop offset="0.07" stop-color="#ffa800"/><stop offset="0.2471" stop-color="#ff6e00"/><stop offset="0.3443" stop-color="#ff4200"/><stop offset="0.39" stop-color="#ff3900"/><stop offset="0.4186" stop-color="#ff4500"/><stop offset="0.4414" stop-color="#ff5c00"/><stop offset="0.47" stop-color="#ff8000"/><stop offset="0.4929" stop-color="#ffa000"/><stop offset="0.5357" stop-color="#fff400"/><stop offset="0.5443" stop-color="#feff00"/><stop offset="0.5586" stop-color="#f1ff00"/><stop offset="0.5643" stop-color="#e7ff00"/><stop offset="0.57" stop-color="#d6ff00"/><stop offset="0.6014" stop-color="#63ff00"/><stop offset="0.6043" stop-color="#3bff00"/><stop offset="0.6071" stop-color="#01ff00"/><stop offset="0.6986" stop-color="#00ff00"/><stop offset="0.7014" stop-color="#00ff1f"/><stop offset="0.83" stop-color="#00fffd"/><stop offset="0.8529" stop-color="#00d4ff"/><stop offset="0.8986" stop-color="#006eff"/><stop offset="0.9129" stop-color="#0043ff"/><stop offset="0.9186" stop-color="#0035ff"/><stop offset="0.95" stop-color="#001dff"/><stop offset="0.9986" stop-color="#0008ff"/></linearGradient><linearGradient id="g88" x1="0" y1="0" x2="0" y2="1"><stop offset="0.001429" stop-color="#ffc900"/><stop offset="0.07" stop-color="#ffa500"/><stop offset="0.25" stop-color="#ff6b00"/><stop offset="0.3443" stop-color="#ff4000"/><stop offset="0.39" stop-color="#ff3800"/><stop offset="0.4157" stop-color="#ff4000"/><stop offset="0.4443" stop-color="#ff5e00"/><stop offset="0.49" stop-color="#ff9c00"/><stop offset="0.5357" stop-color="#fff400"/><stop offset="0.5443" stop-color="#feff00"/><stop offset="0.5586" stop-color="#f1ff00"/><stop offset="0.5643" stop-color="#e7ff00"/><stop offset="0.57" stop-color="#d5ff00"/><stop offset="0.6014" stop-color="#62ff00"/><stop offset="0.6071" stop-color="#00ff00"/><stop offset="0.6986" stop-color="#00ff00"/><stop offset="0.7014" stop-color="#00ff21"/><stop offset="0.83" stop-color="#00ffff"/><stop offset="0.8557" stop-color="#00ccff"/><stop offset="0.8986" stop-color="#006dff"/><stop offset="0.9043" stop-color="#005eff"/><stop offset="0.9129" stop-color="#0041ff"/><stop offset="0.9186" stop-color="#0034ff"/><stop offset="0.9529" stop-color="#001bff"/><stop offset="0.9986" stop-color="#0007ff"/></linearGradient><linearGradient id="g89" x1="0" y1="0" x2="0" y2="1"><stop offset="0.001429" stop-color="#ffc600"/><stop offset="0.07" stop-color="#ffa200"/><stop offset="0.25" stop-color="#ff6900"/><stop offset="0.3443" stop-color="#ff3f00"/><stop offset="0.3929" stop-color="#ff3800"/><stop offset="0.4157" stop-color="#ff3d00"/><stop offset="0.4471" stop-color="#ff6000"/><stop offset="0.49" stop-color="#ff9c00"/><stop offset="0.5357" stop-color="#fff400"/><stop offset="0.5443" stop-color="#feff00"/><stop offset="0.5586" stop-color="#f1ff00"/><stop offset="0.5643" stop-color="#e6ff00"/><stop offset="0.57" stop-color="#d4ff00"/><stop offset="0.6014" stop-color="#60ff00"/><stop offset="0.6043" stop-color="#29ff00"/><stop offset="0.6071" stop-color="#00ff00"/><stop offset="0.6986" stop-color="#00ff00"/><stop offset="0.7014" stop-color="#00ff22"/><stop offset="0.8271" stop-color="#00fffb"/><stop offset="0.83" stop-color="#00feff"/><stop offset="0.85" stop-color="#00d7ff"/><stop offset="0.8986" stop-color="#006cff"/><stop offset="0.9043" stop-color="#005dff"/><stop offset="0.9129" stop-color="#0040ff"/><stop offset="0.9186" stop-color="#0033ff"/><stop offset="0.9557" stop-color="#0018ff"/><stop offset="0.9986" stop-color="#0007ff"/></linearGradient><linearGradient id="g90" x1="0" y1="0" x2="0" y2="1"><stop offset="0.001429" stop-color="#ffc400"/><stop offset="0.06714" stop-color="#ffa100"/><stop offset="0.25" stop-color="#ff6800"/><stop offset="0.3443" stop-color="#ff3e00"/><stop offset="0.4014" stop-color="#ff3800"/><stop offset="0.4214" stop-color="#ff4000"/><stop offset="0.4443" stop-color="#ff5a00"/><stop offset="0.47" stop-color="#ff7e00"/><stop offset="0.49" stop-color="#ff9c00"/><stop offset="0.5357" stop-color="#fff400"/><stop offset="0.5443" stop-color="#feff00"/><stop offset="0.5586" stop-color="#f0ff00"/><stop offset="0.5643" stop-color="#e6ff00"/><stop offset="0.57" stop-color="#d3ff00"/><stop offset="0.5986" stop-color="#69ff00"/><stop offset="0.6014" stop-color="#5cff00"/><stop offset="0.6043" stop-color="#20ff00"/><stop offset="0.6071" stop-color="#00ff00"/><stop offset="0.6957" stop-color="#00ff00"/><stop offset="0.6986" stop-color="#00ff0f"/><stop offset="0.7014" stop-color="#00ff23"/><stop offset="0.8271" stop-color="#00fffc"/><stop offset="0.83" stop-color="#00fdff"/><stop offset="0.8386" stop-color="#00edff"/><stop offset="0.8986" stop-color="#006cff"/><stop offset="0.9043" stop-color="#005dff"/><stop offset="0.9129" stop-color="#003eff"/><stop offset="0.9186" stop-color="#0032ff"/><stop offset="0.9586" stop-color="#0016ff"/><stop offset="0.9986" stop-color="#0007ff"/></linearGradient><linearGradient id="g91" x1="0" y1="0" x2="0" y2="1"><stop offset="0.001429" stop-color="#ffc100"/><stop offset="0.06714" stop-color="#ff9e00"/><stop offset="0.25" stop-color="#ff6600"/><stop offset="0.3443" stop-color="#ff3c00"/><stop offset="0.3843" stop-color="#ff3700"/><stop offset="0.4071" stop-color="#ff3800"/><stop offset="0.4243" stop-color="#ff4100"/><stop offset="0.4443" stop-color="#ff5a00"/><stop offset="0.4786" stop-color="#ff8a00"/><stop offset="0.5414" stop-color="#fffd00"/><stop offset="0.5586" stop-color="#f0ff00"/><stop offset="0.5643" stop-color="#e4ff00"/><stop offset="0.5986" stop-color="#67ff00"/><stop offset="0.6014" stop-color="#52ff00"/><stop offset="0.6043" stop-color="#16ff00"/><stop offset="0.6071" stop-color="#00ff00"/><stop offset="0.6957" stop-color="#00ff00"/><stop offset="0.6986" stop-color="#00ff1f"/><stop offset="0.7014" stop-color="#00ff25"/><stop offset="0.8271" stop-color="#00fffe"/><stop offset="0.8414" stop-color="#00e5ff"/><stop offset="0.8986" stop-color="#006bff"/><stop offset="0.9043" stop-color="#005cff"/><stop offset="0.9129" stop-color="#003dff"/><stop offset="0.9186" stop-color="#0031ff"/><stop offset="0.9586" stop-color="#0016ff"/><stop offset="0.9986" stop-color="#0006ff"/></linearGradient><linearGradient id="g92" x1="0" y1="0" x2="0" y2="1"><stop offset="0.001429" stop-color="#ffbf00"/><stop offset="0.06714" stop-color="#ff9c00"/><stop offset="0.25" stop-color="#ff6400"/><stop offset="0.3443" stop-color="#ff3b00"/><stop offset="0.4071" stop-color="#ff3700"/><stop offset="0.4243" stop-color="#ff4100"/><stop offset="0.4786" stop-color="#ff8b00"/><stop offset="0.5414" stop-color="#fffd00"/><stop offset="0.5586" stop-color="#efff00"/><stop offset="0.5643" stop-color="#e3ff00"/><stop offset="0.5986" stop-color="#66ff00"/><stop offset="0.6014" stop-color="#48ff00"/><stop offset="0.6043" stop-color="#0cff00"/><stop offset="0.6071" stop-color="#00ff00"/><stop offset="0.6957" stop-color="#00ff00"/><stop offset="0.6986" stop-color="#00ff21"/><stop offset="0.8243" stop-color="#00fffb"/><stop offset="0.8271" stop-color="#00feff"/><stop offset="0.8414" stop-color="#00e4ff"/><stop offset="0.8986" stop-color="#006bff"/><stop offset="0.9129" stop-color="#003cff"/><stop offset="0.9186" stop-color="#0031ff"/><stop offset="0.9586" stop-color="#0016ff"/><stop offset="0.9986" stop-color="#0006ff"/></linearGradient><linearGradient id="g93" x1="0" y1="0" x2="0" y2="1"><stop offset="0.001429" stop-color="#ffbc00"/><stop offset="0.06714" stop-color="#ff9b00"/><stop offset="0.25" stop-color="#ff6300"/><stop offset="0.3443" stop-color="#ff3a00"/><stop offset="0.4071" stop-color="#ff3700"/><stop offset="0.4243" stop-color="#ff4000"/><stop offset="0.47" stop-color="#ff7f00"/><stop offset="0.4871" stop-color="#ff9a00"/><stop offset="0.5329" stop-color="#fff100"/><stop offset="0.5414" stop-color="#fffe00"/><stop offset="0.5557" stop-color="#f2ff00"/><stop offset="0.5643" stop-color="#e1ff00"/><stop offset="0.5986" stop-color="#64ff00"/><stop offset="0.6014" stop-color="#3eff00"/><stop offset="0.6043" stop-color="#02ff00"/><stop offset="0.6957" stop-color="#00ff00"/><stop offset="0.6986" stop-color="#00ff22"/><stop offset="0.8243" stop-color="#00fffd"/><stop offset="0.8471" stop-color="#00d6ff"/><stop offset="0.8986" stop-color="#006aff"/><stop offset="0.9129" stop-color="#003cff"/><stop offset="0.9186" stop-color="#0031ff"/><stop offset="0.9529" stop-color="#001aff"/><stop offset="0.9986" stop-color="#0006ff"/></linearGradient><linearGradient id="g94" x1="0" y1="0" x2="0" y2="1"><stop offset="0.001429" stop-color="#ffba00"/><stop offset="0.06714" stop-color="#ff9900"/><stop offset="0.2529" stop-color="#ff6000"/><stop offset="0.3443" stop-color="#ff3900"/><stop offset="0.4071" stop-color="#ff3700"/><stop offset="0.4243" stop-color="#ff4000"/><stop offset="0.4671" stop-color="#ff7b00"/><stop offset="0.4871" stop-color="#ff9a00"/><stop offset="0.5329" stop-color="#fff200"/><stop offset="0.5414" stop-color="#fffe00"/><stop offset="0.5557" stop-color="#f1ff00"/><stop offset="0.5614" stop-color="#e7ff00"/><stop offset="0.5671" stop-color="#d5ff00"/><stop offset="0.5986" stop-color="#62ff00"/><stop offset="0.6014" stop-color="#34ff00"/><stop offset="0.6043" stop-color="#00ff00"/><stop offset="0.6929" stop-color="#00ff00"/><stop offset="0.6957" stop-color="#00ff0b"/><stop offset="0.6986" stop-color="#00ff23"/><stop offset="0.8214" stop-color="#00fffb"/><stop offset="0.8243" stop-color="#00feff"/><stop offset="0.8443" stop-color="#00daff"/><stop offset="0.8957" stop-color="#006fff"/><stop offset="0.9014" stop-color="#0061ff"/><stop offset="0.9129" stop-color="#003bff"/><stop offset="0.9186" stop-color="#0031ff"/><stop offset="0.95" stop-color="#001cff"/><stop offset="0.9986" stop-color="#0006ff"/></linearGradient><linearGradient id="g95" x1="0" y1="0" x2="0" y2="1"><stop offset="0.001429" stop-color="#ffb700"/><stop offset="0.06714" stop-color="#ff9700"/><stop offset="0.2529" stop-color="#ff5f00"/><stop offset="0.3443" stop-color="#ff3800"/><stop offset="0.4071" stop-color="#ff3700"/><stop offset="0.4243" stop-color="#ff4000"/><stop offset="0.4671" stop-color="#ff7c00"/><stop offset="0.4871" stop-color="#ff9b00"/><stop offset="0.53" stop-color="#ffed00"/><stop offset="0.5414" stop-color="#ffff00"/><stop offset="0.5557" stop-color="#f0ff00"/><stop offset="0.5614" stop-color="#e5ff00"/><stop offset="0.5986" stop-color="#60ff00"/><stop offset="0.6014" stop-color="#2aff00"/><stop offset="0.6043" stop-color="#00ff00"/><stop offset="0.6929" stop-color="#00ff00"/><stop offset="0.6957" stop-color="#00ff1f"/><stop offset="0.6986" stop-color="#00ff25"/><stop offset="0.8214" stop-color="#00fffd"/><stop offset="0.8471" stop-color="#00d3ff"/><stop offset="0.8957" stop-color="#006eff"/><stop offset="0.9157" stop-color="#0034ff"/><stop offset="0.9357" stop-color="#0025ff"/><stop offset="0.9986" stop-color="#0006ff"/></linearGradient><linearGradient id="g96" x1="0" y1="0" x2="0" y2="1"><stop offset="0.001429" stop-color="#ffb500"/><stop offset="0.06714" stop-color="#ff9600"/><stop offset="0.2529" stop-color="#ff5d00"/><stop offset="0.3443" stop-color="#ff3800"/><stop offset="0.4071" stop-color="#ff3600"/><stop offset="0.4157" stop-color="#ff3800"/><stop offset="0.4243" stop-color="#ff4000"/><stop offset="0.4671" stop-color="#ff7c00"/><stop offset="0.4871" stop-color="#ff9c00"/><stop offset="0.5329" stop-color="#fff300"/><stop offset="0.5414" stop-color="#ffff00"/><stop offset="0.5557" stop-color="#f0ff00"/><stop offset="0.5614" stop-color="#e3ff00"/><stop offset="0.5957" stop-color="#69ff00"/><stop offset="0.5986" stop-color="#5cff00"/><stop offset="0.6014" stop-color="#20ff00"/><stop offset="0.6043" stop-color="#00ff00"/><stop offset="0.6929" stop-color="#00ff00"/><stop offset="0.6957" stop-color="#00ff20"/><stop offset="0.8214" stop-color="#00ffff"/><stop offset="0.8471" stop-color="#00d2ff"/><stop offset="0.8957" stop-color="#006dff"/><stop offset="0.9157" stop-color="#0034ff"/><stop offset="0.9329" stop-color="#0026ff"/><stop offset="0.9986" stop-color="#0006ff"/></linearGradient><linearGradient id="g97" x1="0" y1="0" x2="0" y2="1"><stop offset="0.001429" stop-color="#ffb200"/><stop offset="0.07" stop-color="#ff9300"/><stop offset="0.2529" stop-color="#ff5b00"/><stop offset="0.3443" stop-color="#ff3700"/><stop offset="0.41" stop-color="#ff3600"/><stop offset="0.4243" stop-color="#ff3f00"/><stop offset="0.47" stop-color="#ff8100"/><stop offset="0.4843" stop-color="#ff9800"/><stop offset="0.5329" stop-color="#fff400"/><stop offset="0.5414" stop-color="#feff00"/><stop offset="0.5557" stop-color="#efff00"/><stop offset="0.5614" stop-color="#e2ff00"/><stop offset="0.5957" stop-color="#67ff00"/><stop offset="0.5986" stop-color="#52ff00"/><stop offset="0.6014" stop-color="#17ff00"/><stop offset="0.6043" stop-color="#00ff00"/><stop offset="0.6929" stop-color="#00ff00"/><stop offset="0.6957" stop-color="#00ff22"/><stop offset="0.8186" stop-color="#00fffc"/><stop offset="0.8214" stop-color="#00fdff"/><stop offset="0.8443" stop-color="#00d6ff"/><stop offset="0.8957" stop-color="#006cff"/><stop offset="0.9014" stop-color="#005dff"/><stop offset="0.91" stop-color="#0041ff"/><stop offset="0.9157" stop-color="#0033ff"/><stop offset="0.93" stop-color="#0028ff"/><stop offset="0.9986" stop-color="#0006ff"/></linearGradient><linearGradient id="g98" x1="0" y1="0" x2="0" y2="1"><stop offset="0.001429" stop-color="#ffb000"/><stop offset="0.07" stop-color="#ff9100"/><stop offset="0.2557" stop-color="#ff5900"/><stop offset="0.3443" stop-color="#ff3600"/><stop offset="0.41" stop-color="#ff3600"/><stop offset="0.4243" stop-color="#ff3f00"/><stop offset="0.47" stop-color="#ff8200"/><stop offset="0.4843" stop-color="#ff9900"/><stop offset="0.5071" stop-color="#ffc700"/><stop offset="0.5386" stop-color="#fffd00"/><stop offset="0.5529" stop-color="#f2ff00"/><stop offset="0.5586" stop-color="#e7ff00"/><stop offset="0.5643" stop-color="#d6ff00"/><stop offset="0.5957" stop-color="#65ff00"/><stop offset="0.5986" stop-color="#48ff00"/><stop offset="0.6014" stop-color="#0dff00"/><stop offset="0.6043" stop-color="#00ff00"/><stop offset="0.6929" stop-color="#00ff00"/><stop offset="0.6957" stop-color="#00ff23"/><stop offset="0.8186" stop-color="#00fffe"/><stop offset="0.8443" stop-color="#00d4ff"/><stop offset="0.8957" stop-color="#006bff"/><stop offset="0.91" stop-color="#0040ff"/><stop offset="0.9157" stop-color="#0033ff"/><stop offset="0.93" stop-color="#0028ff"/><stop offset="0.9986" stop-color="#0007ff"/></linearGradient><linearGradient id="g99" x1="0" y1="0" x2="0" y2="1"><stop offset="0.001429" stop-color="#ffad00"/><stop offset="0.07" stop-color="#ff9000"/><stop offset="0.2957" stop-color="#ff4a00"/><stop offset="0.3443" stop-color="#ff3600"/><stop offset="0.41" stop-color="#ff3600"/><stop offset="0.4243" stop-color="#ff3f00"/><stop offset="0.4671" stop-color="#ff7e00"/><stop offset="0.4843" stop-color="#ff9a00"/><stop offset="0.5071" stop-color="#ffc800"/><stop offset="0.5386" stop-color="#fffe00"/><stop offset="0.5529" stop-color="#f1ff00"/><stop offset="0.5586" stop-color="#e6ff00"/><stop offset="0.5957" stop-color="#63ff00"/><stop offset="0.5986" stop-color="#3eff00"/><stop offset="0.6014" stop-color="#03ff00"/><stop offset="0.6043" stop-color="#00ff00"/><stop offset="0.69" stop-color="#00ff00"/><stop offset="0.6929" stop-color="#00ff1f"/><stop offset="0.6957" stop-color="#00ff24"/><stop offset="0.8157" stop-color="#00fffb"/><stop offset="0.8186" stop-color="#00feff"/><stop offset="0.8357" stop-color="#00e2ff"/><stop offset="0.8529" stop-color="#00c2ff"/><stop offset="0.8957" stop-color="#0069ff"/><stop offset="0.91" stop-color="#003fff"/><stop offset="0.9157" stop-color="#0033ff"/><stop offset="0.93" stop-color="#0028ff"/><stop offset="0.9986" stop-color="#0007ff"/></linearGradient><linearGradient id="g100" x1="0" y1="0" x2="0" y2="1"><stop offset="0.001429" stop-color="#ffac00"/><stop offset="0.07" stop-color="#ff8e00"/><stop offset="0.2986" stop-color="#ff4800"/><stop offset="0.3443" stop-color="#ff3500"/><stop offset="0.41" stop-color="#ff3600"/><stop offset="0.4243" stop-color="#ff3e00"/><stop offset="0.4671" stop-color="#ff7e00"/><stop offset="0.4843" stop-color="#ff9b00"/><stop offset="0.51" stop-color="#ffce00"/><stop offset="0.5386" stop-color="#fffe00"/><stop offset="0.5529" stop-color="#f0ff00"/><stop offset="0.5586" stop-color="#e4ff00"/><stop offset="0.5957" stop-color="#62ff00"/><stop offset="0.5986" stop-color="#33ff00"/><stop offset="0.6014" stop-color="#00ff00"/><stop offset="0.69" stop-color="#00ff00"/><stop offset="0.6929" stop-color="#00ff20"/><stop offset="0.8157" stop-color="#00fffd"/><stop offset="0.8386" stop-color="#00dcff"/><stop offset="0.8557" stop-color="#00baff"/><stop offset="0.8957" stop-color="#0068ff"/><stop offset="0.91" stop-color="#003eff"/><stop offset="0.9157" stop-color="#0032ff"/><stop offset="0.93" stop-color="#0027ff"/><stop offset="0.9986" stop-color="#0007ff"/></linearGradient><linearGradient id="g101" x1="0" y1="0" x2="0" y2="1"><stop offset="0.001429" stop-color="#ffaa00"/><stop offset="0.07" stop-color="#ff8c00"/><stop offset="0.2986" stop-color="#ff4800"/><stop offset="0.3443" stop-color="#ff3400"/><stop offset="0.41" stop-color="#ff3500"/><stop offset="0.4243" stop-color="#ff3e00"/><stop offset="0.4443" stop-color="#ff5f00"/><stop offset="0.4671" stop-color="#ff7f00"/><stop offset="0.4843" stop-color="#ff9b00"/><stop offset="0.51" stop-color="#ffcf00"/><stop offset="0.5386" stop-color="#ffff00"/><stop offset="0.5529" stop-color="#efff00"/><stop offset="0.5586" stop-color="#e2ff00"/><stop offset="0.5957" stop-color="#60ff00"/><stop offset="0.5986" stop-color="#28ff00"/><stop offset="0.6014" stop-color="#00ff00"/><stop offset="0.69" stop-color="#00ff00"/><stop offset="0.6929" stop-color="#00ff21"/><stop offset="0.8157" stop-color="#00fffe"/><stop offset="0.8443" stop-color="#00d0ff"/><stop offset="0.8929" stop-color="#006dff"/><stop offset="0.8986" stop-color="#0060ff"/><stop offset="0.91" stop-color="#003eff"/><stop offset="0.9157" stop-color="#0032ff"/><stop offset="0.93" stop-color="#0027ff"/><stop offset="0.9986" stop-color="#0007ff"/></linearGradient><linearGradient id="g102" x1="0" y1="0" x2="0" y2="1"><stop offset="0.001429" stop-color="#ffa900"/><stop offset="0.07" stop-color="#ff8b00"/><stop offset="0.3014" stop-color="#ff4600"/><stop offset="0.3443" stop-color="#ff3300"/><stop offset="0.41" stop-color="#ff3500"/><stop offset="0.4243" stop-color="#ff3e00"/><stop offset="0.4443" stop-color="#ff6000"/><stop offset="0.4671" stop-color="#ff7f00"/><stop offset="0.4843" stop-color="#ff9c00"/><stop offset="0.51" stop-color="#ffd100"/><stop offset="0.5386" stop-color="#ffff00"/><stop offset="0.5529" stop-color="#eeff00"/><stop offset="0.5586" stop-color="#e0ff00"/><stop offset="0.5929" stop-color="#68ff00"/><stop offset="0.5957" stop-color="#57ff00"/><stop offset="0.5986" stop-color="#1dff00"/><stop offset="0.6014" stop-color="#00ff00"/><stop offset="0.69" stop-color="#00ff00"/><stop offset="0.6929" stop-color="#00ff21"/><stop offset="0.8129" stop-color="#00fffb"/><stop offset="0.8157" stop-color="#00feff"/><stop offset="0.8471" stop-color="#00c9ff"/><stop offset="0.8957" stop-color="#0066ff"/><stop offset="0.91" stop-color="#003dff"/><stop offset="0.9157" stop-color="#0032ff"/><stop offset="0.93" stop-color="#0027ff"/><stop offset="0.9986" stop-color="#0007ff"/></linearGradient><linearGradient id="g103" x1="0" y1="0" x2="0" y2="1"><stop offset="0.001429" stop-color="#ffa800"/><stop offset="0.07" stop-color="#ff8900"/><stop offset="0.3014" stop-color="#ff4500"/><stop offset="0.3443" stop-color="#ff3300"/><stop offset="0.41" stop-color="#ff3500"/><stop offset="0.4186" stop-color="#ff3800"/><stop offset="0.4243" stop-color="#ff3e00"/><stop offset="0.4443" stop-color="#ff6000"/><stop offset="0.4671" stop-color="#ff8000"/><stop offset="0.4843" stop-color="#ff9d00"/><stop offset="0.51" stop-color="#ffd200"/><stop offset="0.53" stop-color="#fff400"/><stop offset="0.5386" stop-color="#feff00"/><stop offset="0.55" stop-color="#f1ff00"/><stop offset="0.5557" stop-color="#e6ff00"/><stop offset="0.5929" stop-color="#66ff00"/><stop offset="0.5957" stop-color="#4cff00"/><stop offset="0.5986" stop-color="#12ff00"/><stop offset="0.6014" stop-color="#00ff00"/><stop offset="0.69" stop-color="#00ff00"/><stop offset="0.6929" stop-color="#00ff22"/><stop offset="0.8129" stop-color="#00fffc"/><stop offset="0.8157" stop-color="#00fdff"/><stop offset="0.8471" stop-color="#00c7ff"/><stop offset="0.8957" stop-color="#0065ff"/><stop offset="0.91" stop-color="#003cff"/><stop offset="0.9157" stop-color="#0032ff"/><stop offset="0.93" stop-color="#0027ff"/><stop offset="0.9986" stop-color="#0007ff"/></linearGradient><linearGradient id="g104" x1="0" y1="0" x2="0" y2="1"><stop offset="0.001429" stop-color="#ffa700"/><stop offset="0.07" stop-color="#ff8700"/><stop offset="0.17" stop-color="#ff6800"/><stop offset="0.3014" stop-color="#ff4500"/><stop offset="0.3443" stop-color="#ff3200"/><stop offset="0.41" stop-color="#ff3500"/><stop offset="0.4186" stop-color="#ff3700"/><stop offset="0.4243" stop-color="#ff3e00"/><stop offset="0.4443" stop-color="#ff6100"/><stop offset="0.4671" stop-color="#ff8000"/><stop offset="0.4843" stop-color="#ff9e00"/><stop offset="0.5071" stop-color="#ffce00"/><stop offset="0.5357" stop-color="#fffd00"/><stop offset="0.55" stop-color="#f0ff00"/><stop offset="0.5557" stop-color="#e5ff00"/><stop offset="0.5929" stop-color="#64ff00"/><stop offset="0.5957" stop-color="#41ff00"/><stop offset="0.5986" stop-color="#07ff00"/><stop offset="0.6014" stop-color="#00ff00"/><stop offset="0.69" stop-color="#00ff00"/><stop offset="0.6929" stop-color="#00ff23"/><stop offset="0.8129" stop-color="#00fffd"/><stop offset="0.8471" stop-color="#00c6ff"/><stop offset="0.8929" stop-color="#006aff"/><stop offset="0.91" stop-color="#003cff"/><stop offset="0.9157" stop-color="#0031ff"/><stop offset="0.93" stop-color="#0027ff"/><stop offset="0.9986" stop-color="#0007ff"/></linearGradient><linearGradient id="g105" x1="0" y1="0" x2="0" y2="1"><stop offset="0.001429" stop-color="#ffa600"/><stop offset="0.07" stop-color="#ff8600"/><stop offset="0.2443" stop-color="#ff5100"/><stop offset="0.3014" stop-color="#ff4400"/><stop offset="0.3443" stop-color="#ff3100"/><stop offset="0.41" stop-color="#ff3400"/><stop offset="0.4214" stop-color="#ff3a00"/><stop offset="0.4443" stop-color="#ff6200"/><stop offset="0.4671" stop-color="#ff8100"/><stop offset="0.4843" stop-color="#ff9f00"/><stop offset="0.5071" stop-color="#ffcf00"/><stop offset="0.5357" stop-color="#fffe00"/><stop offset="0.55" stop-color="#efff00"/><stop offset="0.5557" stop-color="#e3ff00"/><stop offset="0.5929" stop-color="#62ff00"/><stop offset="0.5957" stop-color="#36ff00"/><stop offset="0.5986" stop-color="#00ff00"/><stop offset="0.6871" stop-color="#00ff00"/><stop offset="0.69" stop-color="#00ff08"/><stop offset="0.6929" stop-color="#00ff24"/><stop offset="0.8129" stop-color="#00fffe"/><stop offset="0.8357" stop-color="#00daff"/><stop offset="0.85" stop-color="#00bfff"/><stop offset="0.8929" stop-color="#0069ff"/><stop offset="0.91" stop-color="#003bff"/><stop offset="0.9157" stop-color="#0031ff"/><stop offset="0.93" stop-color="#0027ff"/><stop offset="0.9986" stop-color="#0007ff"/></linearGradient><linearGradient id="g106" x1="0" y1="0" x2="0" y2="1"><stop offset="0.001429" stop-color="#ffa500"/><stop offset="0.07" stop-color="#ff8400"/><stop offset="0.2443" stop-color="#ff4f00"/><stop offset="0.3014" stop-color="#ff4300"/><stop offset="0.3443" stop-color="#ff3100"/><stop offset="0.41" stop-color="#ff3400"/><stop offset="0.4214" stop-color="#ff3900"/><stop offset="0.4443" stop-color="#ff6200"/><stop offset="0.4671" stop-color="#ff8200"/><stop offset="0.4843" stop-color="#ffa000"/><stop offset="0.5071" stop-color="#ffd100"/><stop offset="0.5357" stop-color="#fffe00"/><stop offset="0.55" stop-color="#eeff00"/><stop offset="0.5557" stop-color="#e1ff00"/><stop offset="0.5929" stop-color="#60ff00"/><stop offset="0.5957" stop-color="#2bff00"/><stop offset="0.5986" stop-color="#00ff00"/><stop offset="0.6871" stop-color="#00ff00"/><stop offset="0.69" stop-color="#00ff1e"/><stop offset="0.6929" stop-color="#00ff24"/><stop offset="0.81" stop-color="#00fffa"/><stop offset="0.8129" stop-color="#00feff"/><stop offset="0.8414" stop-color="#00ceff"/><stop offset="0.8929" stop-color="#0068ff"/><stop offset="0.91" stop-color="#003bff"/><stop offset="0.9157" stop-color="#0031ff"/><stop offset="0.93" stop-color="#0027ff"/><stop offset="0.9986" stop-color="#0007ff"/></linearGradient><linearGradient id="g107" x1="0" y1="0" x2="0" y2="1"><stop offset="0.001429" stop-color="#ffa400"/><stop offset="0.07" stop-color="#ff8300"/><stop offset="0.2443" stop-color="#ff4e00"/><stop offset="0.3014" stop-color="#ff4300"/><stop offset="0.3443" stop-color="#ff3000"/><stop offset="0.41" stop-color="#ff3400"/><stop offset="0.4214" stop-color="#ff3900"/><stop offset="0.4443" stop-color="#ff6300"/><stop offset="0.4671" stop-color="#ff8200"/><stop offset="0.4843" stop-color="#ffa100"/><stop offset="0.5071" stop-color="#ffd200"/><stop offset="0.5357" stop-color="#ffff00"/><stop offset="0.5471" stop-color="#f2ff00"/><stop offset="0.5529" stop-color="#e7ff00"/><stop offset="0.59" stop-color="#68ff00"/><stop offset="0.5929" stop-color="#59ff00"/><stop offset="0.5957" stop-color="#20ff00"/><stop offset="0.5986" stop-color="#00ff00"/><stop offset="0.6871" stop-color="#00ff00"/><stop offset="0.69" stop-color="#00ff1f"/><stop offset="0.81" stop-color="#00fffc"/><stop offset="0.8129" stop-color="#00fdff"/><stop offset="0.8414" stop-color="#00cdff"/><stop offset="0.8929" stop-color="#0067ff"/><stop offset="0.91" stop-color="#003aff"/><stop offset="0.9157" stop-color="#0031ff"/><stop offset="0.93" stop-color="#0027ff"/><stop offset="0.9986" stop-color="#0007ff"/></linearGradient><linearGradient id="g108" x1="0" y1="0" x2="0" y2="1"><stop offset="0.001429" stop-color="#ffa300"/><stop offset="0.07" stop-color="#ff8200"/><stop offset="0.2471" stop-color="#ff4c00"/><stop offset="0.3014" stop-color="#ff4200"/><stop offset="0.3443" stop-color="#ff2f00"/><stop offset="0.41" stop-color="#ff3400"/><stop offset="0.4186" stop-color="#ff3600"/><stop offset="0.4243" stop-color="#ff3d00"/><stop offset="0.4414" stop-color="#ff5f00"/><stop offset="0.4643" stop-color="#ff7e00"/><stop offset="0.4786" stop-color="#ff9700"/><stop offset="0.5071" stop-color="#ffd300"/><stop offset="0.5357" stop-color="#ffff00"/><stop offset="0.5471" stop-color="#f1ff00"/><stop offset="0.5529" stop-color="#e5ff00"/><stop offset="0.59" stop-color="#66ff00"/><stop offset="0.5929" stop-color="#4fff00"/><stop offset="0.5957" stop-color="#16ff00"/><stop offset="0.5986" stop-color="#00ff00"/><stop offset="0.6871" stop-color="#00ff00"/><stop offset="0.69" stop-color="#00ff20"/><stop offset="0.81" stop-color="#00fffd"/><stop offset="0.8414" stop-color="#00ccff"/><stop offset="0.8929" stop-color="#0066ff"/><stop offset="0.91" stop-color="#003aff"/><stop offset="0.9157" stop-color="#0030ff"/><stop offset="0.93" stop-color="#0026ff"/><stop offset="0.9986" stop-color="#0007ff"/></linearGradient><linearGradient id="g109" x1="0" y1="0" x2="0" y2="1"><stop offset="0.001429" stop-color="#ffa200"/><stop offset="0.07" stop-color="#ff8100"/><stop offset="0.2471" stop-color="#ff4c00"/><stop offset="0.3014" stop-color="#ff4100"/><stop offset="0.3443" stop-color="#ff2f00"/><stop offset="0.41" stop-color="#ff3300"/><stop offset="0.4186" stop-color="#ff3600"/><stop offset="0.4243" stop-color="#ff3c00"/><stop offset="0.4414" stop-color="#ff5f00"/><stop offset="0.4643" stop-color="#ff7e00"/><stop offset="0.4786" stop-color="#ff9700"/><stop offset="0.5071" stop-color="#ffd400"/><stop offset="0.5271" stop-color="#fff500"/><stop offset="0.5357" stop-color="#feff00"/><stop offset="0.5471" stop-color="#f0ff00"/><stop offset="0.5529" stop-color="#e3ff00"/><stop offset="0.59" stop-color="#64ff00"/><stop offset="0.5929" stop-color="#44ff00"/><stop offset="0.5957" stop-color="#0bff00"/><stop offset="0.5986" stop-color="#00ff00"/><stop offset="0.6871" stop-color="#00ff00"/><stop offset="0.69" stop-color="#00ff21"/><stop offset="0.81" stop-color="#00fffe"/><stop offset="0.8357" stop-color="#00d5ff"/><stop offset="0.89" stop-color="#006bff"/><stop offset="0.9129" stop-color="#0034ff"/><stop offset="0.9271" stop-color="#0028ff"/><stop offset="0.9986" stop-color="#0007ff"/></linearGradient><linearGradient id="g110" x1="0" y1="0" x2="0" y2="1"><stop offset="0.001429" stop-color="#ffa100"/><stop offset="0.07" stop-color="#ff8000"/><stop offset="0.2471" stop-color="#ff4b00"/><stop offset="0.3014" stop-color="#ff4100"/><stop offset="0.3443" stop-color="#ff2e00"/><stop offset="0.3957" stop-color="#ff3100"/><stop offset="0.4157" stop-color="#ff3400"/><stop offset="0.4243" stop-color="#ff3c00"/><stop offset="0.4443" stop-color="#ff6400"/><stop offset="0.4643" stop-color="#ff7f00"/><stop offset="0.4757" stop-color="#ff9300"/><stop offset="0.5071" stop-color="#ffd600"/><stop offset="0.5329" stop-color="#fffd00"/><stop offset="0.5471" stop-color="#efff00"/><stop offset="0.5529" stop-color="#e1ff00"/><stop offset="0.59" stop-color="#62ff00"/><stop offset="0.5929" stop-color="#39ff00"/><stop offset="0.5957" stop-color="#01ff00"/><stop offset="0.6871" stop-color="#00ff00"/><stop offset="0.69" stop-color="#00ff22"/><stop offset="0.8071" stop-color="#00fffa"/><stop offset="0.81" stop-color="#00feff"/><stop offset="0.8386" stop-color="#00ceff"/><stop offset="0.8929" stop-color="#0064ff"/><stop offset="0.9129" stop-color="#0034ff"/><stop offset="0.9271" stop-color="#0028ff"/><stop offset="0.9986" stop-color="#0007ff"/></linearGradient><linearGradient id="g111" x1="0" y1="0" x2="0" y2="1"><stop offset="0.001429" stop-color="#ffa000"/><stop offset="0.07" stop-color="#ff7f00"/><stop offset="0.2471" stop-color="#ff4a00"/><stop offset="0.3014" stop-color="#ff4000"/><stop offset="0.3443" stop-color="#ff2e00"/><stop offset="0.3957" stop-color="#ff3000"/><stop offset="0.4157" stop-color="#ff3400"/><stop offset="0.4243" stop-color="#ff3c00"/><stop offset="0.4443" stop-color="#ff6500"/><stop offset="0.4643" stop-color="#ff7f00"/><stop offset="0.4786" stop-color="#ff9900"/><stop offset="0.5071" stop-color="#ffd700"/><stop offset="0.5329" stop-color="#fffe00"/><stop offset="0.5443" stop-color="#f2ff00"/><stop offset="0.5529" stop-color="#dfff00"/><stop offset="0.59" stop-color="#60ff00"/><stop offset="0.5957" stop-color="#00ff00"/><stop offset="0.6871" stop-color="#00ff00"/><stop offset="0.69" stop-color="#00ff22"/><stop offset="0.8071" stop-color="#00fffc"/><stop offset="0.81" stop-color="#00fdff"/><stop offset="0.8386" stop-color="#00cdff"/><stop offset="0.89" stop-color="#0069ff"/><stop offset="0.9129" stop-color="#0033ff"/><stop offset="0.9271" stop-color="#0027ff"/><stop offset="0.9986" stop-color="#0007ff"/></linearGradient><linearGradient id="g112" x1="0" y1="0" x2="0" y2="1"><stop offset="0.001429" stop-color="#ff9f00"/><stop offset="0.07" stop-color="#ff7f00"/><stop offset="0.2471" stop-color="#ff4900"/><stop offset="0.3014" stop-color="#ff3f00"/><stop offset="0.3471" stop-color="#ff2d00"/><stop offset="0.3929" stop-color="#ff2f00"/><stop offset="0.4157" stop-color="#ff3400"/><stop offset="0.4243" stop-color="#ff3b00"/><stop offset="0.4443" stop-color="#ff6500"/><stop offset="0.4643" stop-color="#ff8000"/><stop offset="0.4786" stop-color="#ff9a00"/><stop offset="0.5071" stop-color="#ffd800"/><stop offset="0.5329" stop-color="#fffe00"/><stop offset="0.5443" stop-color="#f1ff00"/><stop offset="0.55" stop-color="#e6ff00"/><stop offset="0.5871" stop-color="#68ff00"/><stop offset="0.59" stop-color="#5cff00"/><stop offset="0.5929" stop-color="#23ff00"/><stop offset="0.5957" stop-color="#00ff00"/><stop offset="0.6871" stop-color="#00ff00"/><stop offset="0.69" stop-color="#00ff23"/><stop offset="0.8071" stop-color="#00fffd"/><stop offset="0.8386" stop-color="#00cbff"/><stop offset="0.89" stop-color="#0068ff"/><stop offset="0.9129" stop-color="#0033ff"/><stop offset="0.9271" stop-color="#0027ff"/><stop offset="0.9986" stop-color="#0007ff"/></linearGradient><linearGradient id="g113" x1="0" y1="0" x2="0" y2="1"><stop offset="0.001429" stop-color="#ff9e00"/><stop offset="0.07" stop-color="#ff7e00"/><stop offset="0.2471" stop-color="#ff4800"/><stop offset="0.3014" stop-color="#ff3f00"/><stop offset="0.3471" stop-color="#ff2c00"/><stop offset="0.3929" stop-color="#ff2f00"/><stop offset="0.4157" stop-color="#ff3300"/><stop offset="0.4243" stop-color="#ff3b00"/><stop offset="0.4443" stop-color="#ff6600"/><stop offset="0.4643" stop-color="#ff8000"/><stop offset="0.4786" stop-color="#ff9a00"/><stop offset="0.5071" stop-color="#ffd900"/><stop offset="0.5329" stop-color="#ffff00"/><stop offset="0.5443" stop-color="#f0ff00"/><stop offset="0.55" stop-color="#e4ff00"/><stop offset="0.5871" stop-color="#66ff00"/><stop offset="0.59" stop-color="#51ff00"/><stop offset="0.5929" stop-color="#19ff00"/><stop offset="0.5957" stop-color="#00ff00"/><stop offset="0.6843" stop-color="#00ff00"/><stop offset="0.6871" stop-color="#00ff0f"/><stop offset="0.69" stop-color="#00ff24"/><stop offset="0.8071" stop-color="#00fffe"/><stop offset="0.8386" stop-color="#00caff"/><stop offset="0.89" stop-color="#0067ff"/><stop offset="0.9129" stop-color="#0033ff"/><stop offset="0.9271" stop-color="#0027ff"/><stop offset="0.9986" stop-color="#0007ff"/></linearGradient><linearGradient id="g114" x1="0" y1="0" x2="0" y2="1"><stop offset="0.001429" stop-color="#ff9d00"/><stop offset="0.07" stop-color="#ff7d00"/><stop offset="0.2471" stop-color="#ff4700"/><stop offset="0.3014" stop-color="#ff3e00"/><stop offset="0.3471" stop-color="#ff2c00"/><stop offset="0.3929" stop-color="#ff2f00"/><stop offset="0.4214" stop-color="#ff3700"/><stop offset="0.4443" stop-color="#ff6600"/><stop offset="0.4643" stop-color="#ff8100"/><stop offset="0.4757" stop-color="#ff9500"/><stop offset="0.5071" stop-color="#ffda00"/><stop offset="0.5329" stop-color="#ffff00"/><stop offset="0.5443" stop-color="#efff00"/><stop offset="0.55" stop-color="#e2ff00"/><stop offset="0.5871" stop-color="#64ff00"/><stop offset="0.59" stop-color="#46ff00"/><stop offset="0.5929" stop-color="#0eff00"/><stop offset="0.5957" stop-color="#00ff00"/><stop offset="0.6843" stop-color="#00ff00"/><stop offset="0.6871" stop-color="#00ff1f"/><stop offset="0.8043" stop-color="#00fffa"/><stop offset="0.8071" stop-color="#00feff"/><stop offset="0.8357" stop-color="#00ceff"/><stop offset="0.89" stop-color="#0066ff"/><stop offset="0.9129" stop-color="#0032ff"/><stop offset="0.9271" stop-color="#0027ff"/><stop offset="0.9986" stop-color="#0007ff"/></linearGradient><linearGradient id="g115" x1="0" y1="0" x2="0" y2="1"><stop offset="0.001429" stop-color="#ff9c00"/><stop offset="0.07" stop-color="#ff7c00"/><stop offset="0.2471" stop-color="#ff4600"/><stop offset="0.3014" stop-color="#ff3d00"/><stop offset="0.3471" stop-color="#ff2b00"/><stop offset="0.3929" stop-color="#ff2f00"/><stop offset="0.4214" stop-color="#ff3700"/><stop offset="0.4443" stop-color="#ff6600"/><stop offset="0.4643" stop-color="#ff8100"/><stop offset="0.4757" stop-color="#ff9500"/><stop offset="0.5071" stop-color="#ffda00"/><stop offset="0.5329" stop-color="#feff00"/><stop offset="0.5443" stop-color="#eeff00"/><stop offset="0.55" stop-color="#e1ff00"/><stop offset="0.5871" stop-color="#63ff00"/><stop offset="0.59" stop-color="#3cff00"/><stop offset="0.5929" stop-color="#03ff00"/><stop offset="0.5957" stop-color="#00ff00"/><stop offset="0.6843" stop-color="#00ff00"/><stop offset="0.6871" stop-color="#00ff1f"/><stop offset="0.8043" stop-color="#00fffc"/><stop offset="0.8071" stop-color="#00fdff"/><stop offset="0.8357" stop-color="#00cdff"/><stop offset="0.89" stop-color="#0065ff"/><stop offset="0.9071" stop-color="#003cff"/><stop offset="0.9129" stop-color="#0032ff"/><stop offset="0.9271" stop-color="#0027ff"/><stop offset="0.9986" stop-color="#0007ff"/></linearGradient><linearGradient id="g116" x1="0" y1="0" x2="0" y2="1"><stop offset="0.001429" stop-color="#ff9b00"/><stop offset="0.06714" stop-color="#ff7c00"/><stop offset="0.2471" stop-color="#ff4500"/><stop offset="0.3014" stop-color="#ff3d00"/><stop offset="0.3471" stop-color="#ff2b00"/><stop offset="0.39" stop-color="#ff2e00"/><stop offset="0.4214" stop-color="#ff3700"/><stop offset="0.4443" stop-color="#ff6600"/><stop offset="0.4643" stop-color="#ff8100"/><stop offset="0.4757" stop-color="#ff9500"/><stop offset="0.5071" stop-color="#ffdb00"/><stop offset="0.53" stop-color="#fffd00"/><stop offset="0.5414" stop-color="#f2ff00"/><stop offset="0.5471" stop-color="#e7ff00"/><stop offset="0.5871" stop-color="#61ff00"/><stop offset="0.5929" stop-color="#00ff00"/><stop offset="0.6843" stop-color="#00ff00"/><stop offset="0.6871" stop-color="#00ff20"/><stop offset="0.8043" stop-color="#00fffd"/><stop offset="0.8357" stop-color="#00cbff"/><stop offset="0.89" stop-color="#0064ff"/><stop offset="0.9071" stop-color="#003cff"/><stop offset="0.9129" stop-color="#0032ff"/><stop offset="0.9271" stop-color="#0027ff"/><stop offset="0.9986" stop-color="#0007ff"/></linearGradient><linearGradient id="g117" x1="0" y1="0" x2="0" y2="1"><stop offset="0.001429" stop-color="#ff9a00"/><stop offset="0.06714" stop-color="#ff7b00"/><stop offset="0.2471" stop-color="#ff4500"/><stop offset="0.3014" stop-color="#ff3c00"/><stop offset="0.3471" stop-color="#ff2a00"/><stop offset="0.39" stop-color="#ff2d00"/><stop offset="0.4214" stop-color="#ff3700"/><stop offset="0.4443" stop-color="#ff6600"/><stop offset="0.4643" stop-color="#ff8100"/><stop offset="0.4757" stop-color="#ff9500"/><stop offset="0.5071" stop-color="#ffdb00"/><stop offset="0.53" stop-color="#fffd00"/><stop offset="0.5414" stop-color="#f1ff00"/><stop offset="0.5471" stop-color="#e6ff00"/><stop offset="0.5871" stop-color="#5eff00"/><stop offset="0.59" stop-color="#27ff00"/><stop offset="0.5929" stop-color="#00ff00"/><stop offset="0.6843" stop-color="#00ff00"/><stop offset="0.6871" stop-color="#00ff21"/><stop offset="0.8043" stop-color="#00fffe"/><stop offset="0.8357" stop-color="#00caff"/><stop offset="0.89" stop-color="#0063ff"/><stop offset="0.9071" stop-color="#003bff"/><stop offset="0.9129" stop-color="#0031ff"/><stop offset="0.9271" stop-color="#0027ff"/><stop offset="0.9986" stop-color="#0007ff"/></linearGradient><linearGradient id="g118" x1="0" y1="0" x2="0" y2="1"><stop offset="0.001429" stop-color="#ff9900"/><stop offset="0.06714" stop-color="#ff7a00"/><stop offset="0.2471" stop-color="#ff4400"/><stop offset="0.3014" stop-color="#ff3b00"/><stop offset="0.3471" stop-color="#ff2a00"/><stop offset="0.39" stop-color="#ff2d00"/><stop offset="0.4214" stop-color="#ff3700"/><stop offset="0.4443" stop-color="#ff6600"/><stop offset="0.4643" stop-color="#ff8100"/><stop offset="0.4757" stop-color="#ff9500"/><stop offset="0.5071" stop-color="#ffdb00"/><stop offset="0.53" stop-color="#fffe00"/><stop offset="0.5414" stop-color="#f1ff00"/><stop offset="0.5471" stop-color="#e4ff00"/><stop offset="0.5843" stop-color="#67ff00"/><stop offset="0.5871" stop-color="#54ff00"/><stop offset="0.59" stop-color="#1cff00"/><stop offset="0.5929" stop-color="#00ff00"/><stop offset="0.6843" stop-color="#00ff00"/><stop offset="0.6871" stop-color="#00ff22"/><stop offset="0.8014" stop-color="#00fffa"/><stop offset="0.8043" stop-color="#00feff"/><stop offset="0.83" stop-color="#00d3ff"/><stop offset="0.89" stop-color="#0062ff"/><stop offset="0.9071" stop-color="#003bff"/><stop offset="0.9129" stop-color="#0031ff"/><stop offset="0.9271" stop-color="#0027ff"/><stop offset="0.9986" stop-color="#0007ff"/></linearGradient><linearGradient id="g119" x1="0" y1="0" x2="0" y2="1"><stop offset="0.001429" stop-color="#ff9800"/><stop offset="0.06714" stop-color="#ff7900"/><stop offset="0.2471" stop-color="#ff4300"/><stop offset="0.3014" stop-color="#ff3b00"/><stop offset="0.3471" stop-color="#ff2900"/><stop offset="0.39" stop-color="#ff2d00"/><stop offset="0.4214" stop-color="#ff3700"/><stop offset="0.4443" stop-color="#ff6600"/><stop offset="0.4643" stop-color="#ff8100"/><stop offset="0.4757" stop-color="#ff9500"/><stop offset="0.5071" stop-color="#ffdb00"/><stop offset="0.53" stop-color="#fffe00"/><stop offset="0.5414" stop-color="#f0ff00"/><stop offset="0.5471" stop-color="#e3ff00"/><stop offset="0.5843" stop-color="#65ff00"/><stop offset="0.5871" stop-color="#4aff00"/><stop offset="0.59" stop-color="#12ff00"/><stop offset="0.5929" stop-color="#00ff00"/><stop offset="0.6843" stop-color="#00ff00"/><stop offset="0.6871" stop-color="#00ff22"/><stop offset="0.8014" stop-color="#00fffc"/><stop offset="0.8043" stop-color="#00fdff"/><stop offset="0.83" stop-color="#00d2ff"/><stop offset="0.8871" stop-color="#0066ff"/><stop offset="0.9071" stop-color="#003aff"/><stop offset="0.9129" stop-color="#0031ff"/><stop offset="0.9271" stop-color="#0026ff"/><stop offset="0.9986" stop-color="#0007ff"/></linearGradient><linearGradient id="g120" x1="0" y1="0" x2="0" y2="1"><stop offset="0.001429" stop-color="#ff9700"/><stop offset="0.06714" stop-color="#ff7800"/><stop offset="0.2471" stop-color="#ff4200"/><stop offset="0.3014" stop-color="#ff3a00"/><stop offset="0.3471" stop-color="#ff2900"/><stop offset="0.39" stop-color="#ff2d00"/><stop offset="0.4214" stop-color="#ff3700"/><stop offset="0.4443" stop-color="#ff6600"/><stop offset="0.4643" stop-color="#ff8100"/><stop offset="0.4786" stop-color="#ff9b00"/><stop offset="0.5071" stop-color="#ffdc00"/><stop offset="0.53" stop-color="#ffff00"/><stop offset="0.5414" stop-color="#efff00"/><stop offset="0.5471" stop-color="#e2ff00"/><stop offset="0.5843" stop-color="#63ff00"/><stop offset="0.5871" stop-color="#3fff00"/><stop offset="0.59" stop-color="#07ff00"/><stop offset="0.5929" stop-color="#00ff00"/><stop offset="0.6843" stop-color="#00ff00"/><stop offset="0.6871" stop-color="#00ff23"/><stop offset="0.8014" stop-color="#00fffd"/><stop offset="0.83" stop-color="#00d1ff"/><stop offset="0.8871" stop-color="#0065ff"/><stop offset="0.9071" stop-color="#003aff"/><stop offset="0.9129" stop-color="#0031ff"/><stop offset="0.9271" stop-color="#0026ff"/><stop offset="0.9986" stop-color="#0007ff"/></linearGradient><linearGradient id="g121" x1="0" y1="0" x2="0" y2="1"><stop offset="0.001429" stop-color="#ff9600"/><stop offset="0.06714" stop-color="#ff7800"/><stop offset="0.2471" stop-color="#ff4100"/><stop offset="0.3014" stop-color="#ff3a00"/><stop offset="0.3471" stop-color="#ff2900"/><stop offset="0.39" stop-color="#ff2c00"/><stop offset="0.4214" stop-color="#ff3700"/><stop offset="0.4443" stop-color="#ff6600"/><stop offset="0.4643" stop-color="#ff8100"/><stop offset="0.4786" stop-color="#ff9b00"/><stop offset="0.5071" stop-color="#ffdc00"/><stop offset="0.53" stop-color="#ffff00"/><stop offset="0.5414" stop-color="#eeff00"/><stop offset="0.5471" stop-color="#e0ff00"/><stop offset="0.5843" stop-color="#61ff00"/><stop offset="0.5871" stop-color="#35ff00"/><stop offset="0.59" stop-color="#00ff00"/><stop offset="0.6814" stop-color="#00ff00"/><stop offset="0.6871" stop-color="#00ff24"/><stop offset="0.8014" stop-color="#00fffe"/><stop offset="0.83" stop-color="#00cfff"/><stop offset="0.8871" stop-color="#0064ff"/><stop offset="0.9071" stop-color="#0039ff"/><stop offset="0.9129" stop-color="#0030ff"/><stop offset="0.9271" stop-color="#0026ff"/><stop offset="0.9986" stop-color="#0006ff"/></linearGradient><linearGradient id="g122" x1="0" y1="0" x2="0" y2="1"><stop offset="0.001429" stop-color="#ff9500"/><stop offset="0.06714" stop-color="#ff7700"/><stop offset="0.25" stop-color="#ff3f00"/><stop offset="0.3014" stop-color="#ff3900"/><stop offset="0.3471" stop-color="#ff2800"/><stop offset="0.39" stop-color="#ff2c00"/><stop offset="0.4214" stop-color="#ff3700"/><stop offset="0.4443" stop-color="#ff6600"/><stop offset="0.4643" stop-color="#ff8100"/><stop offset="0.4786" stop-color="#ff9b00"/><stop offset="0.5071" stop-color="#ffdc00"/><stop offset="0.53" stop-color="#feff00"/><stop offset="0.5414" stop-color="#edff00"/><stop offset="0.5471" stop-color="#deff00"/><stop offset="0.5843" stop-color="#60ff00"/><stop offset="0.5871" stop-color="#2bff00"/><stop offset="0.59" stop-color="#00ff00"/><stop offset="0.6814" stop-color="#00ff00"/><stop offset="0.6843" stop-color="#00ff1f"/><stop offset="0.7986" stop-color="#00fffa"/><stop offset="0.8014" stop-color="#00feff"/><stop offset="0.8271" stop-color="#00d3ff"/><stop offset="0.9129" stop-color="#0030ff"/><stop offset="0.9271" stop-color="#0026ff"/><stop offset="0.9986" stop-color="#0006ff"/></linearGradient><linearGradient id="g123" x1="0" y1="0" x2="0" y2="1"><stop offset="0.001429" stop-color="#ff9400"/><stop offset="0.06714" stop-color="#ff7600"/><stop offset="0.25" stop-color="#ff3f00"/><stop offset="0.3014" stop-color="#ff3800"/><stop offset="0.3471" stop-color="#ff2800"/><stop offset="0.3871" stop-color="#ff2b00"/><stop offset="0.4214" stop-color="#ff3700"/><stop offset="0.4443" stop-color="#ff6600"/><stop offset="0.47" stop-color="#ff8a00"/><stop offset="0.4843" stop-color="#ffa600"/><stop offset="0.5043" stop-color="#ffd700"/><stop offset="0.5271" stop-color="#fffd00"/><stop offset="0.5386" stop-color="#f1ff00"/><stop offset="0.5443" stop-color="#e5ff00"/><stop offset="0.5814" stop-color="#68ff00"/><stop offset="0.5843" stop-color="#58ff00"/><stop offset="0.5871" stop-color="#20ff00"/><stop offset="0.59" stop-color="#00ff00"/><stop offset="0.6814" stop-color="#00ff00"/><stop offset="0.6843" stop-color="#00ff20"/><stop offset="0.7986" stop-color="#00fffc"/><stop offset="0.8014" stop-color="#00fdff"/><stop offset="0.8271" stop-color="#00d2ff"/><stop offset="0.9129" stop-color="#0030ff"/><stop offset="0.9271" stop-color="#0026ff"/><stop offset="0.9986" stop-color="#0006ff"/></linearGradient><linearGradient id="g124" x1="0" y1="0" x2="0" y2="1"><stop offset="0.001429" stop-color="#ff9300"/><stop offset="0.06714" stop-color="#ff7500"/><stop offset="0.25" stop-color="#ff3e00"/><stop offset="0.3014" stop-color="#ff3800"/><stop offset="0.3471" stop-color="#ff2700"/><stop offset="0.3871" stop-color="#ff2b00"/><stop offset="0.4214" stop-color="#ff3700"/><stop offset="0.4443" stop-color="#ff6600"/><stop offset="0.4614" stop-color="#ff7d00"/><stop offset="0.4729" stop-color="#ff9000"/><stop offset="0.4843" stop-color="#ffa600"/><stop offset="0.5071" stop-color="#ffdd00"/><stop offset="0.5271" stop-color="#fffd00"/><stop offset="0.5386" stop-color="#f1ff00"/><stop offset="0.5443" stop-color="#e4ff00"/><stop offset="0.5814" stop-color="#66ff00"/><stop offset="0.5843" stop-color="#4eff00"/><stop offset="0.5871" stop-color="#16ff00"/><stop offset="0.59" stop-color="#00ff00"/><stop offset="0.6814" stop-color="#00ff00"/><stop offset="0.6843" stop-color="#00ff20"/><stop offset="0.7986" stop-color="#00fffd"/><stop offset="0.8271" stop-color="#00d0ff"/><stop offset="0.8871" stop-color="#0062ff"/><stop offset="0.91" stop-color="#0033ff"/><stop offset="0.9243" stop-color="#0027ff"/><stop offset="0.9986" stop-color="#0006ff"/></linearGradient><linearGradient id="g125" x1="0" y1="0" x2="0" y2="1"><stop offset="0.001429" stop-color="#ff9200"/><stop offset="0.06714" stop-color="#ff7400"/><stop offset="0.25" stop-color="#ff3d00"/><stop offset="0.3014" stop-color="#ff3700"/><stop offset="0.3471" stop-color="#ff2700"/><stop offset="0.3871" stop-color="#ff2b00"/><stop offset="0.4214" stop-color="#ff3700"/><stop offset="0.4443" stop-color="#ff6600"/><stop offset="0.4614" stop-color="#ff7d00"/><stop offset="0.4729" stop-color="#ff9000"/><stop offset="0.4843" stop-color="#ffa600"/><stop offset="0.5071" stop-color="#ffdd00"/><stop offset="0.5271" stop-color="#fffe00"/><stop offset="0.5386" stop-color="#f0ff00"/><stop offset="0.5443" stop-color="#e3ff00"/><stop offset="0.5814" stop-color="#64ff00"/><stop offset="0.5843" stop-color="#43ff00"/><stop offset="0.5871" stop-color="#0bff00"/><stop offset="0.59" stop-color="#00ff00"/><stop offset="0.6814" stop-color="#00ff00"/><stop offset="0.6843" stop-color="#00ff21"/><stop offset="0.7986" stop-color="#00fffe"/><stop offset="0.8271" stop-color="#00cfff"/><stop offset="0.8871" stop-color="#0061ff"/><stop offset="0.91" stop-color="#0033ff"/><stop offset="0.9243" stop-color="#0027ff"/><stop offset="0.9986" stop-color="#0006ff"/></linearGradient><linearGradient id="g126" x1="0" y1="0" x2="0" y2="1"><stop offset="0.001429" stop-color="#ff9100"/><stop offset="0.06714" stop-color="#ff7300"/><stop offset="0.1614" stop-color="#ff5900"/><stop offset="0.25" stop-color="#ff3c00"/><stop offset="0.3014" stop-color="#ff3600"/><stop offset="0.3471" stop-color="#ff2600"/><stop offset="0.3871" stop-color="#ff2a00"/><stop offset="0.4214" stop-color="#ff3700"/><stop offset="0.4443" stop-color="#ff6600"/><stop offset="0.4614" stop-color="#ff7d00"/><stop offset="0.4729" stop-color="#ff9000"/><stop offset="0.4843" stop-color="#ffa600"/><stop offset="0.5071" stop-color="#ffdd00"/><stop offset="0.5271" stop-color="#fffe00"/><stop offset="0.5386" stop-color="#efff00"/><stop offset="0.5443" stop-color="#e1ff00"/><stop offset="0.5814" stop-color="#62ff00"/><stop offset="0.5843" stop-color="#39ff00"/><stop offset="0.5871" stop-color="#02ff00"/><stop offset="0.6814" stop-color="#00ff00"/><stop offset="0.6843" stop-color="#00ff22"/><stop offset="0.7957" stop-color="#00fffa"/><stop offset="0.7986" stop-color="#00feff"/><stop offset="0.8243" stop-color="#00d3ff"/><stop offset="0.91" stop-color="#0033ff"/><stop offset="0.9243" stop-color="#0027ff"/><stop offset="0.9986" stop-color="#0006ff"/></linearGradient><linearGradient id="g127" x1="0" y1="0" x2="0" y2="1"><stop offset="0.001429" stop-color="#ff9000"/><stop offset="0.06714" stop-color="#ff7200"/><stop offset="0.1614" stop-color="#ff5900"/><stop offset="0.25" stop-color="#ff3b00"/><stop offset="0.3014" stop-color="#ff3600"/><stop offset="0.3471" stop-color="#ff2600"/><stop offset="0.3871" stop-color="#ff2a00"/><stop offset="0.4186" stop-color="#ff3400"/><stop offset="0.4243" stop-color="#ff3b00"/><stop offset="0.4443" stop-color="#ff6600"/><stop offset="0.4614" stop-color="#ff7d00"/><stop offset="0.4729" stop-color="#ff9000"/><stop offset="0.4843" stop-color="#ffa600"/><stop offset="0.5071" stop-color="#ffde00"/><stop offset="0.5271" stop-color="#fffe00"/><stop offset="0.5386" stop-color="#eeff00"/><stop offset="0.5443" stop-color="#dfff00"/><stop offset="0.5814" stop-color="#60ff00"/><stop offset="0.5871" stop-color="#00ff00"/><stop offset="0.6814" stop-color="#00ff00"/><stop offset="0.6843" stop-color="#00ff23"/><stop offset="0.7957" stop-color="#00fffb"/><stop offset="0.7986" stop-color="#00fdff"/><stop offset="0.8243" stop-color="#00d2ff"/><stop offset="0.91" stop-color="#0032ff"/><stop offset="0.9243" stop-color="#0027ff"/><stop offset="0.9986" stop-color="#0006ff"/></linearGradient><linearGradient id="g128" x1="0" y1="0" x2="0" y2="1"><stop offset="0.001429" stop-color="#ff8f00"/><stop offset="0.06714" stop-color="#ff7100"/><stop offset="0.1614" stop-color="#ff5800"/><stop offset="0.25" stop-color="#ff3a00"/><stop offset="0.3014" stop-color="#ff3500"/><stop offset="0.3471" stop-color="#ff2500"/><stop offset="0.3871" stop-color="#ff2a00"/><stop offset="0.4186" stop-color="#ff3400"/><stop offset="0.4243" stop-color="#ff3b00"/><stop offset="0.4443" stop-color="#ff6600"/><stop offset="0.4614" stop-color="#ff7d00"/><stop offset="0.4729" stop-color="#ff9000"/><stop offset="0.4843" stop-color="#ffa600"/><stop offset="0.5071" stop-color="#ffde00"/><stop offset="0.5271" stop-color="#ffff00"/><stop offset="0.5386" stop-color="#edff00"/><stop offset="0.5443" stop-color="#deff00"/><stop offset="0.5786" stop-color="#68ff00"/><stop offset="0.5814" stop-color="#5cff00"/><stop offset="0.5843" stop-color="#24ff00"/><stop offset="0.5871" stop-color="#00ff00"/><stop offset="0.6814" stop-color="#00ff00"/><stop offset="0.6843" stop-color="#00ff23"/><stop offset="0.7957" stop-color="#00fffd"/><stop offset="0.8214" stop-color="#00d5ff"/><stop offset="0.91" stop-color="#0032ff"/><stop offset="0.9243" stop-color="#0027ff"/><stop offset="0.9986" stop-color="#0006ff"/></linearGradient><linearGradient id="g129" x1="0" y1="0" x2="0" y2="1"><stop offset="0.001429" stop-color="#ff8e00"/><stop offset="0.06714" stop-color="#ff7100"/><stop offset="0.1614" stop-color="#ff5700"/><stop offset="0.25" stop-color="#ff3900"/><stop offset="0.3014" stop-color="#ff3400"/><stop offset="0.3471" stop-color="#ff2500"/><stop offset="0.3871" stop-color="#ff2a00"/><stop offset="0.4186" stop-color="#ff3400"/><stop offset="0.4243" stop-color="#ff3b00"/><stop offset="0.4443" stop-color="#ff6600"/><stop offset="0.4643" stop-color="#ff8100"/><stop offset="0.4757" stop-color="#ff9500"/><stop offset="0.4871" stop-color="#ffad00"/><stop offset="0.5071" stop-color="#ffde00"/><stop offset="0.5271" stop-color="#ffff00"/><stop offset="0.5414" stop-color="#e5ff00"/><stop offset="0.5786" stop-color="#66ff00"/><stop offset="0.5814" stop-color="#51ff00"/><stop offset="0.5843" stop-color="#1aff00"/><stop offset="0.5871" stop-color="#00ff00"/><stop offset="0.6786" stop-color="#00ff00"/><stop offset="0.6814" stop-color="#00ff1b"/><stop offset="0.6843" stop-color="#00ff24"/><stop offset="0.7957" stop-color="#00fffe"/><stop offset="0.8214" stop-color="#00d4ff"/><stop offset="0.91" stop-color="#0032ff"/><stop offset="0.9271" stop-color="#0025ff"/><stop offset="0.9986" stop-color="#0006ff"/></linearGradient><linearGradient id="g130" x1="0" y1="0" x2="0" y2="1"><stop offset="0.001429" stop-color="#ff8d00"/><stop offset="0.06714" stop-color="#ff7000"/><stop offset="0.1614" stop-color="#ff5700"/><stop offset="0.25" stop-color="#ff3900"/><stop offset="0.3014" stop-color="#ff3400"/><stop offset="0.3471" stop-color="#ff2400"/><stop offset="0.3871" stop-color="#ff2900"/><stop offset="0.4186" stop-color="#ff3400"/><stop offset="0.4243" stop-color="#ff3b00"/><stop offset="0.4443" stop-color="#ff6600"/><stop offset="0.4643" stop-color="#ff8100"/><stop offset="0.4757" stop-color="#ff9500"/><stop offset="0.4871" stop-color="#ffad00"/><stop offset="0.5071" stop-color="#ffdf00"/><stop offset="0.5271" stop-color="#feff00"/><stop offset="0.5357" stop-color="#f1ff00"/><stop offset="0.5414" stop-color="#e3ff00"/><stop offset="0.5786" stop-color="#65ff00"/><stop offset="0.5814" stop-color="#47ff00"/><stop offset="0.5843" stop-color="#0fff00"/><stop offset="0.5871" stop-color="#00ff00"/><stop offset="0.6786" stop-color="#00ff00"/><stop offset="0.6814" stop-color="#00ff1f"/><stop offset="0.7929" stop-color="#00fffa"/><stop offset="0.7957" stop-color="#00feff"/><stop offset="0.8186" stop-color="#00d8ff"/><stop offset="0.91" stop-color="#0032ff"/><stop offset="0.93" stop-color="#0023ff"/><stop offset="0.9986" stop-color="#0006ff"/></linearGradient><linearGradient id="g131" x1="0" y1="0" x2="0" y2="1"><stop offset="0.001429" stop-color="#ff8c00"/><stop offset="0.06714" stop-color="#ff6f00"/><stop offset="0.1614" stop-color="#ff5600"/><stop offset="0.25" stop-color="#ff3800"/><stop offset="0.3014" stop-color="#ff3300"/><stop offset="0.3471" stop-color="#ff2400"/><stop offset="0.3871" stop-color="#ff2900"/><stop offset="0.4186" stop-color="#ff3400"/><stop offset="0.4243" stop-color="#ff3b00"/><stop offset="0.4443" stop-color="#ff6600"/><stop offset="0.4643" stop-color="#ff8100"/><stop offset="0.4786" stop-color="#ff9b00"/><stop offset="0.5043" stop-color="#ffd900"/><stop offset="0.5243" stop-color="#fffd00"/><stop offset="0.5357" stop-color="#f0ff00"/><stop offset="0.5414" stop-color="#e2ff00"/><stop offset="0.5786" stop-color="#63ff00"/><stop offset="0.5814" stop-color="#3dff00"/><stop offset="0.5843" stop-color="#05ff00"/><stop offset="0.5871" stop-color="#00ff00"/><stop offset="0.6786" stop-color="#00ff00"/><stop offset="0.6814" stop-color="#00ff20"/><stop offset="0.7929" stop-color="#00fffb"/><stop offset="0.7957" stop-color="#00fdff"/><stop offset="0.8186" stop-color="#00d7ff"/><stop offset="0.91" stop-color="#0031ff"/><stop offset="0.9357" stop-color="#001fff"/><stop offset="0.9986" stop-color="#0006ff"/></linearGradient><linearGradient id="g132" x1="0" y1="0" x2="0" y2="1"><stop offset="0.001429" stop-color="#ff8b00"/><stop offset="0.06714" stop-color="#ff6f00"/><stop offset="0.1614" stop-color="#ff5500"/><stop offset="0.25" stop-color="#ff3700"/><stop offset="0.3014" stop-color="#ff3200"/><stop offset="0.3471" stop-color="#ff2300"/><stop offset="0.3871" stop-color="#ff2900"/><stop offset="0.4186" stop-color="#ff3400"/><stop offset="0.4243" stop-color="#ff3b00"/><stop offset="0.4443" stop-color="#ff6600"/><stop offset="0.4643" stop-color="#ff8100"/><stop offset="0.4786" stop-color="#ff9b00"/><stop offset="0.5071" stop-color="#ffdf00"/><stop offset="0.5243" stop-color="#fffd00"/><stop offset="0.5357" stop-color="#efff00"/><stop offset="0.5414" stop-color="#e0ff00"/><stop offset="0.5786" stop-color="#61ff00"/><stop offset="0.5814" stop-color="#34ff00"/><stop offset="0.5843" stop-color="#00ff00"/><stop offset="0.6786" stop-color="#00ff00"/><stop offset="0.6814" stop-color="#00ff20"/><stop offset="0.7929" stop-color="#00fffc"/><stop offset="0.8186" stop-color="#00d5ff"/><stop offset="0.91" stop-color="#0031ff"/><stop offset="0.9414" stop-color="#001cff"/><stop offset="0.9986" stop-color="#0006ff"/></linearGradient><linearGradient id="g133" x1="0" y1="0" x2="0" y2="1"><stop offset="0.001429" stop-color="#ff8b00"/><stop offset="0.06714" stop-color="#ff6e00"/><stop offset="0.1614" stop-color="#ff5400"/><stop offset="0.25" stop-color="#ff3600"/><stop offset="0.3014" stop-color="#ff3100"/><stop offset="0.3443" stop-color="#ff2300"/><stop offset="0.3843" stop-color="#ff2800"/><stop offset="0.4186" stop-color="#ff3400"/><stop offset="0.4243" stop-color="#ff3b00"/><stop offset="0.4443" stop-color="#ff6600"/><stop offset="0.4643" stop-color="#ff8100"/><stop offset="0.4786" stop-color="#ff9b00"/><stop offset="0.5071" stop-color="#ffdf00"/><stop offset="0.5243" stop-color="#fffe00"/><stop offset="0.5357" stop-color="#eeff00"/><stop offset="0.5414" stop-color="#dfff00"/><stop offset="0.5786" stop-color="#60ff00"/><stop offset="0.5814" stop-color="#2cff00"/><stop offset="0.5843" stop-color="#00ff00"/><stop offset="0.6786" stop-color="#00ff00"/><stop offset="0.6814" stop-color="#00ff21"/><stop offset="0.7929" stop-color="#00fffd"/><stop offset="0.91" stop-color="#0031ff"/><stop offset="0.9471" stop-color="#0018ff"/><stop offset="0.9986" stop-color="#0006ff"/></linearGradient><linearGradient id="g134" x1="0" y1="0" x2="0" y2="1"><stop offset="0.001429" stop-color="#ff8a00"/><stop offset="0.06714" stop-color="#ff6e00"/><stop offset="0.25" stop-color="#ff3600"/><stop offset="0.3014" stop-color="#ff3000"/><stop offset="0.3443" stop-color="#ff2200"/><stop offset="0.3843" stop-color="#ff2800"/><stop offset="0.4186" stop-color="#ff3400"/><stop offset="0.4243" stop-color="#ff3b00"/><stop offset="0.4443" stop-color="#ff6600"/><stop offset="0.4643" stop-color="#ff8100"/><stop offset="0.4786" stop-color="#ff9b00"/><stop offset="0.5071" stop-color="#ffe000"/><stop offset="0.5243" stop-color="#fffe00"/><stop offset="0.5357" stop-color="#edff00"/><stop offset="0.5414" stop-color="#ddff00"/><stop offset="0.5757" stop-color="#68ff00"/><stop offset="0.5786" stop-color="#5cff00"/><stop offset="0.5814" stop-color="#24ff00"/><stop offset="0.5843" stop-color="#00ff00"/><stop offset="0.6786" stop-color="#00ff00"/><stop offset="0.6814" stop-color="#00ff21"/><stop offset="0.7929" stop-color="#00fffe"/><stop offset="0.91" stop-color="#0030ff"/><stop offset="0.9529" stop-color="#0015ff"/><stop offset="0.9986" stop-color="#0006ff"/></linearGradient><linearGradient id="g135" x1="0" y1="0" x2="0" y2="1"><stop offset="0.001429" stop-color="#ff8900"/><stop offset="0.06714" stop-color="#ff6d00"/><stop offset="0.25" stop-color="#ff3500"/><stop offset="0.3014" stop-color="#ff2f00"/><stop offset="0.3443" stop-color="#ff2200"/><stop offset="0.3843" stop-color="#ff2700"/><stop offset="0.4186" stop-color="#ff3400"/><stop offset="0.4243" stop-color="#ff3b00"/><stop offset="0.4443" stop-color="#ff6600"/><stop offset="0.4643" stop-color="#ff8100"/><stop offset="0.4786" stop-color="#ff9b00"/><stop offset="0.5071" stop-color="#ffe000"/><stop offset="0.5243" stop-color="#fffe00"/><stop offset="0.5386" stop-color="#e4ff00"/><stop offset="0.5757" stop-color="#67ff00"/><stop offset="0.5786" stop-color="#54ff00"/><stop offset="0.5814" stop-color="#1cff00"/><stop offset="0.5843" stop-color="#00ff00"/><stop offset="0.6786" stop-color="#00ff00"/><stop offset="0.6814" stop-color="#00ff21"/><stop offset="0.7929" stop-color="#00fffe"/><stop offset="0.91" stop-color="#002fff"/><stop offset="0.9586" stop-color="#0011ff"/><stop offset="0.9986" stop-color="#0006ff"/></linearGradient><linearGradient id="g136" x1="0" y1="0" x2="0" y2="1"><stop offset="0.001429" stop-color="#ff8800"/><stop offset="0.06714" stop-color="#ff6d00"/><stop offset="0.25" stop-color="#ff3400"/><stop offset="0.3014" stop-color="#ff2e00"/><stop offset="0.3443" stop-color="#ff2100"/><stop offset="0.3843" stop-color="#ff2700"/><stop offset="0.4186" stop-color="#ff3400"/><stop offset="0.4243" stop-color="#ff3b00"/><stop offset="0.4443" stop-color="#ff6600"/><stop offset="0.4643" stop-color="#ff8100"/><stop offset="0.4786" stop-color="#ff9b00"/><stop offset="0.5071" stop-color="#ffe000"/><stop offset="0.5243" stop-color="#ffff00"/><stop offset="0.5386" stop-color="#e3ff00"/><stop offset="0.5757" stop-color="#65ff00"/><stop offset="0.5786" stop-color="#4cff00"/><stop offset="0.5814" stop-color="#15ff00"/><stop offset="0.5843" stop-color="#00ff00"/><stop offset="0.6786" stop-color="#00ff00"/><stop offset="0.6814" stop-color="#00ff22"/><stop offset="0.7929" stop-color="#00ffff"/><stop offset="0.8586" stop-color="#0088ff"/><stop offset="0.91" stop-color="#002fff"/><stop offset="0.9586" stop-color="#0011ff"/><stop offset="0.9986" stop-color="#0006ff"/></linearGradient><linearGradient id="g137" x1="0" y1="0" x2="0" y2="1"><stop offset="0.001429" stop-color="#ff8800"/><stop offset="0.06714" stop-color="#ff6c00"/><stop offset="0.25" stop-color="#ff3400"/><stop offset="0.3014" stop-color="#ff2d00"/><stop offset="0.3443" stop-color="#ff2100"/><stop offset="0.3843" stop-color="#ff2700"/><stop offset="0.4186" stop-color="#ff3400"/><stop offset="0.4243" stop-color="#ff3b00"/><stop offset="0.4443" stop-color="#ff6600"/><stop offset="0.4643" stop-color="#ff8100"/><stop offset="0.4786" stop-color="#ff9b00"/><stop offset="0.5071" stop-color="#ffe100"/><stop offset="0.5243" stop-color="#ffff00"/><stop offset="0.5386" stop-color="#e2ff00"/><stop offset="0.5757" stop-color="#64ff00"/><stop offset="0.5786" stop-color="#44ff00"/><stop offset="0.5814" stop-color="#0dff00"/><stop offset="0.5843" stop-color="#00ff00"/><stop offset="0.6786" stop-color="#00ff00"/><stop offset="0.6814" stop-color="#00ff22"/><stop offset="0.79" stop-color="#00fffa"/><stop offset="0.7929" stop-color="#00feff"/><stop offset="0.8586" stop-color="#0087ff"/><stop offset="0.91" stop-color="#002fff"/><stop offset="0.9557" stop-color="#0012ff"/><stop offset="0.9986" stop-color="#0006ff"/></linearGradient><linearGradient id="g138" x1="0" y1="0" x2="0" y2="1"><stop offset="0.001429" stop-color="#ff8700"/><stop offset="0.06714" stop-color="#ff6c00"/><stop offset="0.25" stop-color="#ff3300"/><stop offset="0.3014" stop-color="#ff2c00"/><stop offset="0.3443" stop-color="#ff2000"/><stop offset="0.3843" stop-color="#ff2600"/><stop offset="0.4186" stop-color="#ff3400"/><stop offset="0.4243" stop-color="#ff3b00"/><stop offset="0.4443" stop-color="#ff6600"/><stop offset="0.4643" stop-color="#ff8100"/><stop offset="0.4786" stop-color="#ff9b00"/><stop offset="0.5071" stop-color="#ffe100"/><stop offset="0.5243" stop-color="#feff00"/><stop offset="0.5329" stop-color="#efff00"/><stop offset="0.5386" stop-color="#e1ff00"/><stop offset="0.5757" stop-color="#63ff00"/><stop offset="0.5786" stop-color="#3cff00"/><stop offset="0.5814" stop-color="#05ff00"/><stop offset="0.5843" stop-color="#00ff00"/><stop offset="0.6786" stop-color="#00ff00"/><stop offset="0.6814" stop-color="#00ff22"/><stop offset="0.79" stop-color="#00fffb"/><stop offset="0.7929" stop-color="#00feff"/><stop offset="0.8586" stop-color="#0087ff"/><stop offset="0.91" stop-color="#002fff"/><stop offset="0.9529" stop-color="#0014ff"/><stop offset="0.9986" stop-color="#0006ff"/></linearGradient><linearGradient id="g139" x1="0" y1="0" x2="0" y2="1"><stop offset="0.001429" stop-color="#ff8600"/><stop offset="0.06714" stop-color="#ff6b00"/><stop offset="0.25" stop-color="#ff3200"/><stop offset="0.3014" stop-color="#ff2b00"/><stop offset="0.3443" stop-color="#ff2000"/><stop offset="0.3843" stop-color="#ff2600"/><stop offset="0.4186" stop-color="#ff3400"/><stop offset="0.4243" stop-color="#ff3b00"/><stop offset="0.4443" stop-color="#ff6600"/><stop offset="0.4643" stop-color="#ff8100"/><stop offset="0.4786" stop-color="#ff9b00"/><stop offset="0.4871" stop-color="#ffae00"/><stop offset="0.5043" stop-color="#ffdb00"/><stop offset="0.5214" stop-color="#fffc00"/><stop offset="0.53" stop-color="#f4ff00"/><stop offset="0.5386" stop-color="#e0ff00"/><stop offset="0.5757" stop-color="#61ff00"/><stop offset="0.5786" stop-color="#35ff00"/><stop offset="0.5814" stop-color="#00ff00"/><stop offset="0.6786" stop-color="#00ff00"/><stop offset="0.6814" stop-color="#00ff23"/><stop offset="0.79" stop-color="#00fffb"/><stop offset="0.7929" stop-color="#00fdff"/><stop offset="0.8586" stop-color="#0086ff"/><stop offset="0.91" stop-color="#002fff"/><stop offset="0.9471" stop-color="#0017ff"/><stop offset="0.9986" stop-color="#0006ff"/></linearGradient><linearGradient id="g140" x1="0" y1="0" x2="0" y2="1"><stop offset="0.001429" stop-color="#ff8500"/><stop offset="0.06714" stop-color="#ff6a00"/><stop offset="0.25" stop-color="#ff3200"/><stop offset="0.3014" stop-color="#ff2a00"/><stop offset="0.3443" stop-color="#ff1f00"/><stop offset="0.3843" stop-color="#ff2600"/><stop offset="0.4186" stop-color="#ff3300"/><stop offset="0.4243" stop-color="#ff3a00"/><stop offset="0.4443" stop-color="#ff6600"/><stop offset="0.4643" stop-color="#ff8100"/><stop offset="0.4786" stop-color="#ff9b00"/><stop offset="0.4871" stop-color="#ffae00"/><stop offset="0.5043" stop-color="#ffdc00"/><stop offset="0.5214" stop-color="#fffd00"/><stop offset="0.53" stop-color="#f3ff00"/><stop offset="0.5386" stop-color="#dfff00"/><stop offset="0.5757" stop-color="#60ff00"/><stop offset="0.5786" stop-color="#2dff00"/><stop offset="0.5814" stop-color="#00ff00"/><stop offset="0.6786" stop-color="#00ff00"/><stop offset="0.6814" stop-color="#00ff23"/><stop offset="0.79" stop-color="#00fffc"/><stop offset="0.7929" stop-color="#00fdff"/><stop offset="0.8586" stop-color="#0085ff"/><stop offset="0.91" stop-color="#002fff"/><stop offset="0.9414" stop-color="#001bff"/><stop offset="0.9986" stop-color="#0006ff"/></linearGradient><linearGradient id="g141" x1="0" y1="0" x2="0" y2="1"><stop offset="0.001429" stop-color="#ff8500"/><stop offset="0.06714" stop-color="#ff6a00"/><stop offset="0.25" stop-color="#ff3100"/><stop offset="0.3014" stop-color="#ff2900"/><stop offset="0.3443" stop-color="#ff1e00"/><stop offset="0.3843" stop-color="#ff2500"/><stop offset="0.4186" stop-color="#ff3300"/><stop offset="0.4243" stop-color="#ff3a00"/><stop offset="0.4443" stop-color="#ff6500"/><stop offset="0.4643" stop-color="#ff8100"/><stop offset="0.4786" stop-color="#ff9c00"/><stop offset="0.4871" stop-color="#ffae00"/><stop offset="0.5043" stop-color="#ffdc00"/><stop offset="0.5214" stop-color="#fffd00"/><stop offset="0.53" stop-color="#f3ff00"/><stop offset="0.5386" stop-color="#ddff00"/><stop offset="0.5757" stop-color="#5dff00"/><stop offset="0.5786" stop-color="#26ff00"/><stop offset="0.5814" stop-color="#00ff00"/><stop offset="0.6786" stop-color="#00ff00"/><stop offset="0.6814" stop-color="#00ff23"/><stop offset="0.79" stop-color="#00fffd"/><stop offset="0.8614" stop-color="#0080ff"/><stop offset="0.91" stop-color="#002fff"/><stop offset="0.9357" stop-color="#001eff"/><stop offset="0.9986" stop-color="#0006ff"/></linearGradient><linearGradient id="g142" x1="0" y1="0" x2="0" y2="1"><stop offset="0.001429" stop-color="#ff8400"/><stop offset="0.07" stop-color="#ff6800"/><stop offset="0.25" stop-color="#ff3000"/><stop offset="0.3443" stop-color="#ff1e00"/><stop offset="0.3843" stop-color="#ff2500"/><stop offset="0.4186" stop-color="#ff3300"/><stop offset="0.4243" stop-color="#ff3a00"/><stop offset="0.4443" stop-color="#ff6500"/><stop offset="0.4643" stop-color="#ff8100"/><stop offset="0.4786" stop-color="#ff9c00"/><stop offset="0.4871" stop-color="#ffaf00"/><stop offset="0.5043" stop-color="#ffdc00"/><stop offset="0.5214" stop-color="#fffd00"/><stop offset="0.53" stop-color="#f2ff00"/><stop offset="0.5357" stop-color="#e5ff00"/><stop offset="0.5729" stop-color="#67ff00"/><stop offset="0.5757" stop-color="#55ff00"/><stop offset="0.5786" stop-color="#1eff00"/><stop offset="0.5814" stop-color="#00ff00"/><stop offset="0.6786" stop-color="#00ff01"/><stop offset="0.6814" stop-color="#00ff24"/><stop offset="0.79" stop-color="#00fffd"/><stop offset="0.8614" stop-color="#007fff"/><stop offset="0.91" stop-color="#002fff"/><stop offset="0.93" stop-color="#0021ff"/><stop offset="0.9986" stop-color="#0006ff"/></linearGradient><linearGradient id="g143" x1="0" y1="0" x2="0" y2="1"><stop offset="0.001429" stop-color="#ff8300"/><stop offset="0.07" stop-color="#ff6800"/><stop offset="0.25" stop-color="#ff2f00"/><stop offset="0.3443" stop-color="#ff1d00"/><stop offset="0.3814" stop-color="#ff2400"/><stop offset="0.4186" stop-color="#ff3300"/><stop offset="0.4243" stop-color="#ff3a00"/><stop offset="0.4443" stop-color="#ff6500"/><stop offset="0.4643" stop-color="#ff8100"/><stop offset="0.4786" stop-color="#ff9c00"/><stop offset="0.4871" stop-color="#ffaf00"/><stop offset="0.5043" stop-color="#ffdd00"/><stop offset="0.5214" stop-color="#fffe00"/><stop offset="0.53" stop-color="#f1ff00"/><stop offset="0.5357" stop-color="#e4ff00"/><stop offset="0.5729" stop-color="#66ff00"/><stop offset="0.5757" stop-color="#4eff00"/><stop offset="0.5786" stop-color="#16ff00"/><stop offset="0.5814" stop-color="#00ff00"/><stop offset="0.6757" stop-color="#00ff00"/><stop offset="0.6786" stop-color="#00ff1b"/><stop offset="0.6814" stop-color="#00ff24"/><stop offset="0.79" stop-color="#00fffe"/><stop offset="0.8586" stop-color="#0084ff"/><stop offset="0.91" stop-color="#002fff"/><stop offset="0.9243" stop-color="#0024ff"/><stop offset="0.9986" stop-color="#0006ff"/></linearGradient><linearGradient id="g144" x1="0" y1="0" x2="0" y2="1"><stop offset="0.001429" stop-color="#ff8200"/><stop offset="0.06714" stop-color="#ff6800"/><stop offset="0.25" stop-color="#ff2f00"/><stop offset="0.3443" stop-color="#ff1d00"/><stop offset="0.3814" stop-color="#ff2400"/><stop offset="0.4186" stop-color="#ff3200"/><stop offset="0.4243" stop-color="#ff3900"/><stop offset="0.4443" stop-color="#ff6500"/><stop offset="0.4643" stop-color="#ff8100"/><stop offset="0.4786" stop-color="#ff9c00"/><stop offset="0.4871" stop-color="#ffaf00"/><stop offset="0.5043" stop-color="#ffdd00"/><stop offset="0.5214" stop-color="#fffe00"/><stop offset="0.53" stop-color="#f1ff00"/><stop offset="0.5357" stop-color="#e3ff00"/><stop offset="0.5729" stop-color="#64ff00"/><stop offset="0.5757" stop-color="#46ff00"/><stop offset="0.5786" stop-color="#0fff00"/><stop offset="0.5814" stop-color="#00ff00"/><stop offset="0.6757" stop-color="#00ff00"/><stop offset="0.6786" stop-color="#00ff1e"/><stop offset="0.79" stop-color="#00fffe"/><stop offset="0.8586" stop-color="#0083ff"/><stop offset="0.91" stop-color="#002eff"/><stop offset="0.9214" stop-color="#0026ff"/><stop offset="0.9986" stop-color="#0006ff"/></linearGradient><linearGradient id="g145" x1="0" y1="0" x2="0" y2="1"><stop offset="0.001429" stop-color="#ff8200"/><stop offset="0.07" stop-color="#ff6700"/><stop offset="0.25" stop-color="#ff2e00"/><stop offset="0.3443" stop-color="#ff1c00"/><stop offset="0.3814" stop-color="#ff2300"/><stop offset="0.4186" stop-color="#ff3200"/><stop offset="0.4243" stop-color="#ff3900"/><stop offset="0.4443" stop-color="#ff6500"/><stop offset="0.4643" stop-color="#ff8100"/><stop offset="0.4786" stop-color="#ff9c00"/><stop offset="0.4871" stop-color="#ffaf00"/><stop offset="0.5043" stop-color="#ffde00"/><stop offset="0.5214" stop-color="#fffe00"/><stop offset="0.53" stop-color="#f0ff00"/><stop offset="0.5357" stop-color="#e2ff00"/><stop offset="0.5729" stop-color="#63ff00"/><stop offset="0.5757" stop-color="#3eff00"/><stop offset="0.5786" stop-color="#07ff00"/><stop offset="0.5814" stop-color="#00ff00"/><stop offset="0.6757" stop-color="#00ff00"/><stop offset="0.6786" stop-color="#00ff1f"/><stop offset="0.79" stop-color="#00ffff"/><stop offset="0.8586" stop-color="#0083ff"/><stop offset="0.9071" stop-color="#0032ff"/><stop offset="0.9214" stop-color="#0026ff"/><stop offset="0.9986" stop-color="#0006ff"/></linearGradient><linearGradient id="g146" x1="0" y1="0" x2="0" y2="1"><stop offset="0.001429" stop-color="#ff8100"/><stop offset="0.07" stop-color="#ff6600"/><stop offset="0.25" stop-color="#ff2d00"/><stop offset="0.3443" stop-color="#ff1c00"/><stop offset="0.3814" stop-color="#ff2300"/><stop offset="0.4186" stop-color="#ff3200"/><stop offset="0.4243" stop-color="#ff3900"/><stop offset="0.4443" stop-color="#ff6400"/><stop offset="0.4643" stop-color="#ff8100"/><stop offset="0.4786" stop-color="#ff9c00"/><stop offset="0.4871" stop-color="#ffb000"/><stop offset="0.5043" stop-color="#ffde00"/><stop offset="0.5214" stop-color="#ffff00"/><stop offset="0.53" stop-color="#efff00"/><stop offset="0.5357" stop-color="#e0ff00"/><stop offset="0.5729" stop-color="#62ff00"/><stop offset="0.5757" stop-color="#37ff00"/><stop offset="0.5786" stop-color="#01ff00"/><stop offset="0.6757" stop-color="#00ff00"/><stop offset="0.6786" stop-color="#00ff1f"/><stop offset="0.7871" stop-color="#00fffa"/><stop offset="0.79" stop-color="#00feff"/><stop offset="0.8586" stop-color="#0082ff"/><stop offset="0.9071" stop-color="#0031ff"/><stop offset="0.9214" stop-color="#0026ff"/><stop offset="0.9986" stop-color="#0006ff"/></linearGradient><linearGradient id="g147" x1="0" y1="0" x2="0" y2="1"><stop offset="0.001429" stop-color="#ff8000"/><stop offset="0.07" stop-color="#ff6600"/><stop offset="0.25" stop-color="#ff2d00"/><stop offset="0.3443" stop-color="#ff1b00"/><stop offset="0.3814" stop-color="#ff2300"/><stop offset="0.4186" stop-color="#ff3200"/><stop offset="0.4243" stop-color="#ff3900"/><stop offset="0.4443" stop-color="#ff6400"/><stop offset="0.4643" stop-color="#ff8100"/><stop offset="0.4757" stop-color="#ff9700"/><stop offset="0.4871" stop-color="#ffb000"/><stop offset="0.5071" stop-color="#ffe500"/><stop offset="0.5214" stop-color="#ffff00"/><stop offset="0.53" stop-color="#eeff00"/><stop offset="0.5357" stop-color="#dfff00"/><stop offset="0.5729" stop-color="#60ff00"/><stop offset="0.5786" stop-color="#00ff00"/><stop offset="0.6757" stop-color="#00ff00"/><stop offset="0.6786" stop-color="#00ff1f"/><stop offset="0.7871" stop-color="#00fffb"/><stop offset="0.79" stop-color="#00feff"/><stop offset="0.8586" stop-color="#0082ff"/><stop offset="0.9071" stop-color="#0031ff"/><stop offset="0.9214" stop-color="#0026ff"/><stop offset="0.9986" stop-color="#0006ff"/></linearGradient><linearGradient id="g148" x1="0" y1="0" x2="0" y2="1"><stop offset="0.001429" stop-color="#ff7f00"/><stop offset="0.07" stop-color="#ff6500"/><stop offset="0.25" stop-color="#ff2c00"/><stop offset="0.3443" stop-color="#ff1b00"/><stop offset="0.3786" stop-color="#ff2200"/><stop offset="0.4186" stop-color="#ff3200"/><stop offset="0.4243" stop-color="#ff3900"/><stop offset="0.4443" stop-color="#ff6400"/><stop offset="0.4643" stop-color="#ff8100"/><stop offset="0.4757" stop-color="#ff9700"/><stop offset="0.4871" stop-color="#ffb000"/><stop offset="0.5071" stop-color="#ffe600"/><stop offset="0.5214" stop-color="#feff00"/><stop offset="0.53" stop-color="#eeff00"/><stop offset="0.5357" stop-color="#deff00"/><stop offset="0.5729" stop-color="#5eff00"/><stop offset="0.5757" stop-color="#28ff00"/><stop offset="0.5786" stop-color="#00ff00"/><stop offset="0.6757" stop-color="#00ff00"/><stop offset="0.6786" stop-color="#00ff20"/><stop offset="0.7871" stop-color="#00fffb"/><stop offset="0.79" stop-color="#00fdff"/><stop offset="0.8586" stop-color="#0081ff"/><stop offset="0.9071" stop-color="#0031ff"/><stop offset="0.9214" stop-color="#0026ff"/><stop offset="0.9986" stop-color="#0006ff"/></linearGradient><linearGradient id="g149" x1="0" y1="0" x2="0" y2="1"><stop offset="0.001429" stop-color="#ff7f00"/><stop offset="0.07" stop-color="#ff6500"/><stop offset="0.25" stop-color="#ff2b00"/><stop offset="0.3414" stop-color="#ff1a00"/><stop offset="0.37" stop-color="#ff1f00"/><stop offset="0.39" stop-color="#ff2500"/><stop offset="0.4214" stop-color="#ff3400"/><stop offset="0.4443" stop-color="#ff6400"/><stop offset="0.4614" stop-color="#ff7c00"/><stop offset="0.4729" stop-color="#ff9100"/><stop offset="0.4871" stop-color="#ffb000"/><stop offset="0.5071" stop-color="#ffe600"/><stop offset="0.5214" stop-color="#feff00"/><stop offset="0.53" stop-color="#edff00"/><stop offset="0.5357" stop-color="#ddff00"/><stop offset="0.57" stop-color="#67ff00"/><stop offset="0.5729" stop-color="#56ff00"/><stop offset="0.5757" stop-color="#1fff00"/><stop offset="0.5786" stop-color="#00ff00"/><stop offset="0.6757" stop-color="#00ff00"/><stop offset="0.6786" stop-color="#00ff20"/><stop offset="0.7871" stop-color="#00fffc"/><stop offset="0.79" stop-color="#00fdff"/><stop offset="0.81" stop-color="#00daff"/><stop offset="0.8586" stop-color="#0081ff"/><stop offset="0.9071" stop-color="#0031ff"/><stop offset="0.9214" stop-color="#0026ff"/><stop offset="0.9986" stop-color="#0006ff"/></linearGradient><linearGradient id="g150" x1="0" y1="0" x2="0" y2="1"><stop offset="0.001429" stop-color="#ff7e00"/><stop offset="0.07286" stop-color="#ff6300"/><stop offset="0.2471" stop-color="#ff2b00"/><stop offset="0.3386" stop-color="#ff1a00"/><stop offset="0.3557" stop-color="#ff1b00"/><stop offset="0.39" stop-color="#ff2400"/><stop offset="0.4214" stop-color="#ff3400"/><stop offset="0.4443" stop-color="#ff6400"/><stop offset="0.4643" stop-color="#ff8100"/><stop offset="0.4757" stop-color="#ff9700"/><stop offset="0.4871" stop-color="#ffb100"/><stop offset="0.5043" stop-color="#ffe000"/><stop offset="0.5186" stop-color="#fffc00"/><stop offset="0.5214" stop-color="#fdff00"/><stop offset="0.5329" stop-color="#e4ff00"/><stop offset="0.57" stop-color="#65ff00"/><stop offset="0.5729" stop-color="#49ff00"/><stop offset="0.5757" stop-color="#13ff00"/><stop offset="0.5786" stop-color="#00ff00"/><stop offset="0.6757" stop-color="#00ff00"/><stop offset="0.6786" stop-color="#00ff20"/><stop offset="0.7871" stop-color="#00fffc"/><stop offset="0.81" stop-color="#00daff"/><stop offset="0.8586" stop-color="#0080ff"/><stop offset="0.9071" stop-color="#0030ff"/><stop offset="0.9214" stop-color="#0026ff"/><stop offset="0.9986" stop-color="#0006ff"/></linearGradient><linearGradient id="g151" x1="0" y1="0" x2="0" y2="1"><stop offset="0.001429" stop-color="#ff7d00"/><stop offset="0.1557" stop-color="#ff4700"/><stop offset="0.2471" stop-color="#ff2b00"/><stop offset="0.3386" stop-color="#ff1a00"/><stop offset="0.3557" stop-color="#ff1b00"/><stop offset="0.39" stop-color="#ff2400"/><stop offset="0.4214" stop-color="#ff3400"/><stop offset="0.4443" stop-color="#ff6300"/><stop offset="0.4643" stop-color="#ff8100"/><stop offset="0.4757" stop-color="#ff9700"/><stop offset="0.4871" stop-color="#ffb100"/><stop offset="0.5043" stop-color="#ffe000"/><stop offset="0.5186" stop-color="#fffc00"/><stop offset="0.5214" stop-color="#fdff00"/><stop offset="0.5329" stop-color="#e3ff00"/><stop offset="0.57" stop-color="#62ff00"/><stop offset="0.5729" stop-color="#39ff00"/><stop offset="0.5757" stop-color="#04ff00"/><stop offset="0.5786" stop-color="#00ff00"/><stop offset="0.6757" stop-color="#00ff00"/><stop offset="0.6786" stop-color="#00ff21"/><stop offset="0.7871" stop-color="#00fffd"/><stop offset="0.81" stop-color="#00d9ff"/><stop offset="0.8586" stop-color="#0080ff"/><stop offset="0.9071" stop-color="#0030ff"/><stop offset="0.9186" stop-color="#0027ff"/><stop offset="0.9986" stop-color="#0006ff"/></linearGradient><linearGradient id="g152" x1="0" y1="0" x2="0" y2="1"><stop offset="0.001429" stop-color="#ff7d00"/><stop offset="0.1557" stop-color="#ff4600"/><stop offset="0.2471" stop-color="#ff2a00"/><stop offset="0.3386" stop-color="#ff1900"/><stop offset="0.3557" stop-color="#ff1a00"/><stop offset="0.39" stop-color="#ff2400"/><stop offset="0.4214" stop-color="#ff3300"/><stop offset="0.4443" stop-color="#ff6300"/><stop offset="0.4643" stop-color="#ff8100"/><stop offset="0.4757" stop-color="#ff9700"/><stop offset="0.4871" stop-color="#ffb100"/><stop offset="0.5043" stop-color="#ffe100"/><stop offset="0.5186" stop-color="#fffd00"/><stop offset="0.5271" stop-color="#f1ff00"/><stop offset="0.5329" stop-color="#e2ff00"/><stop offset="0.57" stop-color="#5fff00"/><stop offset="0.5729" stop-color="#2aff00"/><stop offset="0.5757" stop-color="#00ff00"/><stop offset="0.6757" stop-color="#00ff00"/><stop offset="0.6786" stop-color="#00ff21"/><stop offset="0.7871" stop-color="#00fffd"/><stop offset="0.81" stop-color="#00d9ff"/><stop offset="0.8586" stop-color="#007fff"/><stop offset="0.9071" stop-color="#0030ff"/><stop offset="0.9186" stop-color="#0027ff"/><stop offset="0.9986" stop-color="#0006ff"/></linearGradient><linearGradient id="g153" x1="0" y1="0" x2="0" y2="1"><stop offset="0.001429" stop-color="#ff7c00"/><stop offset="0.1586" stop-color="#ff4400"/><stop offset="0.2471" stop-color="#ff2900"/><stop offset="0.3386" stop-color="#ff1900"/><stop offset="0.3557" stop-color="#ff1a00"/><stop offset="0.39" stop-color="#ff2400"/><stop offset="0.4214" stop-color="#ff3300"/><stop offset="0.4443" stop-color="#ff6300"/><stop offset="0.4643" stop-color="#ff8100"/><stop offset="0.4757" stop-color="#ff9700"/><stop offset="0.4871" stop-color="#ffb100"/><stop offset="0.5043" stop-color="#ffe100"/><stop offset="0.5186" stop-color="#fffd00"/><stop offset="0.5271" stop-color="#f0ff00"/><stop offset="0.5329" stop-color="#e1ff00"/><stop offset="0.5671" stop-color="#67ff00"/><stop offset="0.57" stop-color="#52ff00"/><stop offset="0.5729" stop-color="#1aff00"/><stop offset="0.5757" stop-color="#00ff00"/><stop offset="0.6757" stop-color="#00ff00"/><stop offset="0.6786" stop-color="#00ff21"/><stop offset="0.7871" stop-color="#00fffd"/><stop offset="0.81" stop-color="#00d8ff"/><stop offset="0.8586" stop-color="#007eff"/><stop offset="0.9071" stop-color="#0030ff"/><stop offset="0.9186" stop-color="#0027ff"/><stop offset="0.9986" stop-color="#0006ff"/></linearGradient><linearGradient id="g154" x1="0" y1="0" x2="0" y2="1"><stop offset="0.001429" stop-color="#ff7b00"/><stop offset="0.1586" stop-color="#ff4300"/><stop offset="0.2471" stop-color="#ff2800"/><stop offset="0.3386" stop-color="#ff1800"/><stop offset="0.3529" stop-color="#ff1900"/><stop offset="0.3871" stop-color="#ff2200"/><stop offset="0.4214" stop-color="#ff3300"/><stop offset="0.4443" stop-color="#ff6300"/><stop offset="0.4614" stop-color="#ff7c00"/><stop offset="0.4729" stop-color="#ff9100"/><stop offset="0.4871" stop-color="#ffb200"/><stop offset="0.5043" stop-color="#ffe200"/><stop offset="0.5186" stop-color="#fffe00"/><stop offset="0.5271" stop-color="#efff00"/><stop offset="0.5329" stop-color="#dfff00"/><stop offset="0.5671" stop-color="#64ff00"/><stop offset="0.57" stop-color="#41ff00"/><stop offset="0.5729" stop-color="#09ff00"/><stop offset="0.5757" stop-color="#00ff00"/><stop offset="0.6757" stop-color="#00ff00"/><stop offset="0.6786" stop-color="#00ff21"/><stop offset="0.7871" stop-color="#00fffe"/><stop offset="0.8557" stop-color="#0083ff"/><stop offset="0.9071" stop-color="#0030ff"/><stop offset="0.9186" stop-color="#0026ff"/><stop offset="0.9986" stop-color="#0006ff"/></linearGradient><linearGradient id="g155" x1="0" y1="0" x2="0" y2="1"><stop offset="0.001429" stop-color="#ff7b00"/><stop offset="0.1614" stop-color="#ff4100"/><stop offset="0.2471" stop-color="#ff2800"/><stop offset="0.3357" stop-color="#ff1800"/><stop offset="0.3529" stop-color="#ff1800"/><stop offset="0.3871" stop-color="#ff2200"/><stop offset="0.4214" stop-color="#ff3300"/><stop offset="0.4443" stop-color="#ff6300"/><stop offset="0.4614" stop-color="#ff7c00"/><stop offset="0.4729" stop-color="#ff9100"/><stop offset="0.4871" stop-color="#ffb200"/><stop offset="0.5043" stop-color="#ffe200"/><stop offset="0.5186" stop-color="#fffe00"/><stop offset="0.5271" stop-color="#eeff00"/><stop offset="0.5329" stop-color="#deff00"/><stop offset="0.5671" stop-color="#61ff00"/><stop offset="0.5729" stop-color="#00ff00"/><stop offset="0.6757" stop-color="#00ff00"/><stop offset="0.6786" stop-color="#00ff21"/><stop offset="0.7871" stop-color="#00fffe"/><stop offset="0.8557" stop-color="#0082ff"/><stop offset="0.9071" stop-color="#002fff"/><stop offset="0.9186" stop-color="#0026ff"/><stop offset="0.9986" stop-color="#0006ff"/></linearGradient><linearGradient id="g156" x1="0" y1="0" x2="0" y2="1"><stop offset="0.001429" stop-color="#ff7a00"/><stop offset="0.1614" stop-color="#ff4000"/><stop offset="0.2471" stop-color="#ff2700"/><stop offset="0.3357" stop-color="#ff1800"/><stop offset="0.3529" stop-color="#ff1800"/><stop offset="0.3871" stop-color="#ff2200"/><stop offset="0.4214" stop-color="#ff3200"/><stop offset="0.4443" stop-color="#ff6200"/><stop offset="0.4614" stop-color="#ff7c00"/><stop offset="0.4729" stop-color="#ff9200"/><stop offset="0.4871" stop-color="#ffb200"/><stop offset="0.5043" stop-color="#ffe300"/><stop offset="0.5186" stop-color="#fffe00"/><stop offset="0.5271" stop-color="#edff00"/><stop offset="0.5329" stop-color="#dcff00"/><stop offset="0.5643" stop-color="#68ff00"/><stop offset="0.5671" stop-color="#59ff00"/><stop offset="0.57" stop-color="#20ff00"/><stop offset="0.5729" stop-color="#00ff00"/><stop offset="0.6757" stop-color="#00ff00"/><stop offset="0.6786" stop-color="#00ff22"/><stop offset="0.7871" stop-color="#00fffe"/><stop offset="0.8557" stop-color="#0082ff"/><stop offset="0.9071" stop-color="#002fff"/><stop offset="0.9186" stop-color="#0026ff"/><stop offset="0.9986" stop-color="#0006ff"/></linearGradient><linearGradient id="g157" x1="0" y1="0" x2="0" y2="1"><stop offset="0.001429" stop-color="#ff7a00"/><stop offset="0.1614" stop-color="#ff4000"/><stop offset="0.2471" stop-color="#ff2600"/><stop offset="0.3357" stop-color="#ff1700"/><stop offset="0.3529" stop-color="#ff1800"/><stop offset="0.3871" stop-color="#ff2100"/><stop offset="0.4214" stop-color="#ff3200"/><stop offset="0.4443" stop-color="#ff6200"/><stop offset="0.4614" stop-color="#ff7c00"/><stop offset="0.4729" stop-color="#ff9200"/><stop offset="0.4871" stop-color="#ffb200"/><stop offset="0.5043" stop-color="#ffe300"/><stop offset="0.5186" stop-color="#ffff00"/><stop offset="0.5271" stop-color="#ecff00"/><stop offset="0.5329" stop-color="#dbff00"/><stop offset="0.5643" stop-color="#65ff00"/><stop offset="0.5671" stop-color="#48ff00"/><stop offset="0.57" stop-color="#0fff00"/><stop offset="0.5729" stop-color="#00ff00"/><stop offset="0.6757" stop-color="#00ff00"/><stop offset="0.6786" stop-color="#00ff22"/><stop offset="0.7871" stop-color="#00ffff"/><stop offset="0.8557" stop-color="#0081ff"/><stop offset="0.9071" stop-color="#002fff"/><stop offset="0.9186" stop-color="#0026ff"/><stop offset="0.9986" stop-color="#0006ff"/></linearGradient><linearGradient id="g158" x1="0" y1="0" x2="0" y2="1"><stop offset="0.001429" stop-color="#ff7900"/><stop offset="0.1614" stop-color="#ff3f00"/><stop offset="0.2443" stop-color="#ff2600"/><stop offset="0.3329" stop-color="#ff1700"/><stop offset="0.3529" stop-color="#ff1700"/><stop offset="0.3871" stop-color="#ff2100"/><stop offset="0.4214" stop-color="#ff3200"/><stop offset="0.4443" stop-color="#ff6200"/><stop offset="0.4614" stop-color="#ff7c00"/><stop offset="0.4729" stop-color="#ff9200"/><stop offset="0.4871" stop-color="#ffb200"/><stop offset="0.5043" stop-color="#ffe300"/><stop offset="0.5186" stop-color="#ffff00"/><stop offset="0.5271" stop-color="#ecff00"/><stop offset="0.5329" stop-color="#d9ff00"/><stop offset="0.5643" stop-color="#62ff00"/><stop offset="0.5671" stop-color="#37ff00"/><stop offset="0.57" stop-color="#01ff00"/><stop offset="0.6757" stop-color="#00ff00"/><stop offset="0.6786" stop-color="#00ff22"/><stop offset="0.7871" stop-color="#00ffff"/><stop offset="0.8557" stop-color="#0081ff"/><stop offset="0.9071" stop-color="#002fff"/><stop offset="0.9186" stop-color="#0026ff"/><stop offset="0.9986" stop-color="#0006ff"/></linearGradient><linearGradient id="g159" x1="0" y1="0" x2="0" y2="1"><stop offset="0.001429" stop-color="#ff7800"/><stop offset="0.1614" stop-color="#ff3e00"/><stop offset="0.2443" stop-color="#ff2600"/><stop offset="0.3243" stop-color="#ff1800"/><stop offset="0.3529" stop-color="#ff1700"/><stop offset="0.3871" stop-color="#ff2100"/><stop offset="0.4214" stop-color="#ff3200"/><stop offset="0.4443" stop-color="#ff6200"/><stop offset="0.47" stop-color="#ff8c00"/><stop offset="0.4843" stop-color="#ffab00"/><stop offset="0.5043" stop-color="#ffe400"/><stop offset="0.5186" stop-color="#feff00"/><stop offset="0.53" stop-color="#e2ff00"/><stop offset="0.5643" stop-color="#5eff00"/><stop offset="0.5671" stop-color="#26ff00"/><stop offset="0.57" stop-color="#00ff00"/><stop offset="0.6757" stop-color="#00ff00"/><stop offset="0.6786" stop-color="#00ff22"/><stop offset="0.7843" stop-color="#00fffa"/><stop offset="0.7871" stop-color="#00ffff"/><stop offset="0.8557" stop-color="#0080ff"/><stop offset="0.9071" stop-color="#002fff"/><stop offset="0.9186" stop-color="#0026ff"/><stop offset="0.9986" stop-color="#0006ff"/></linearGradient><linearGradient id="g160" x1="0" y1="0" x2="0" y2="1"><stop offset="0.001429" stop-color="#ff7800"/><stop offset="0.1614" stop-color="#ff3d00"/><stop offset="0.2443" stop-color="#ff2500"/><stop offset="0.3129" stop-color="#ff1900"/><stop offset="0.3529" stop-color="#ff1600"/><stop offset="0.3871" stop-color="#ff2000"/><stop offset="0.4214" stop-color="#ff3200"/><stop offset="0.4443" stop-color="#ff6200"/><stop offset="0.4614" stop-color="#ff7c00"/><stop offset="0.4729" stop-color="#ff9200"/><stop offset="0.4871" stop-color="#ffb300"/><stop offset="0.5043" stop-color="#ffe400"/><stop offset="0.5157" stop-color="#fffc00"/><stop offset="0.5186" stop-color="#feff00"/><stop offset="0.53" stop-color="#e0ff00"/><stop offset="0.5614" stop-color="#67ff00"/><stop offset="0.5643" stop-color="#4fff00"/><stop offset="0.5671" stop-color="#14ff00"/><stop offset="0.57" stop-color="#00ff00"/><stop offset="0.6757" stop-color="#00ff00"/><stop offset="0.6786" stop-color="#00ff23"/><stop offset="0.7843" stop-color="#00fffa"/><stop offset="0.7871" stop-color="#00feff"/><stop offset="0.8557" stop-color="#0080ff"/><stop offset="0.9071" stop-color="#002eff"/><stop offset="0.9186" stop-color="#0026ff"/><stop offset="0.9986" stop-color="#0006ff"/></linearGradient><linearGradient id="g161" x1="0" y1="0" x2="0" y2="1"><stop offset="0.001429" stop-color="#ff7700"/><stop offset="0.1614" stop-color="#ff3c00"/><stop offset="0.2471" stop-color="#ff2400"/><stop offset="0.33" stop-color="#ff1600"/><stop offset="0.3529" stop-color="#ff1600"/><stop offset="0.3871" stop-color="#ff2000"/><stop offset="0.4214" stop-color="#ff3100"/><stop offset="0.4443" stop-color="#ff6200"/><stop offset="0.4614" stop-color="#ff7c00"/><stop offset="0.4729" stop-color="#ff9300"/><stop offset="0.4871" stop-color="#ffb400"/><stop offset="0.5043" stop-color="#ffe500"/><stop offset="0.5157" stop-color="#fffc00"/><stop offset="0.5214" stop-color="#f7ff00"/><stop offset="0.53" stop-color="#dfff00"/><stop offset="0.5614" stop-color="#64ff00"/><stop offset="0.5643" stop-color="#3dff00"/><stop offset="0.5671" stop-color="#04ff00"/><stop offset="0.57" stop-color="#00ff00"/><stop offset="0.6757" stop-color="#00ff00"/><stop offset="0.6786" stop-color="#00ff23"/><stop offset="0.7843" stop-color="#00fffa"/><stop offset="0.7871" stop-color="#00feff"/><stop offset="0.8557" stop-color="#007fff"/><stop offset="0.9071" stop-color="#002eff"/><stop offset="0.9186" stop-color="#0026ff"/><stop offset="0.9986" stop-color="#0006ff"/></linearGradient><linearGradient id="g162" x1="0" y1="0" x2="0" y2="1"><stop offset="0.001429" stop-color="#ff7600"/><stop offset="0.1614" stop-color="#ff3c00"/><stop offset="0.2471" stop-color="#ff2300"/><stop offset="0.3129" stop-color="#ff1700"/><stop offset="0.3529" stop-color="#ff1500"/><stop offset="0.3871" stop-color="#ff2000"/><stop offset="0.4214" stop-color="#ff3100"/><stop offset="0.4443" stop-color="#ff6100"/><stop offset="0.4614" stop-color="#ff7c00"/><stop offset="0.4729" stop-color="#ff9300"/><stop offset="0.4871" stop-color="#ffb400"/><stop offset="0.5043" stop-color="#ffe500"/><stop offset="0.5157" stop-color="#fffc00"/><stop offset="0.5214" stop-color="#f6ff00"/><stop offset="0.53" stop-color="#ddff00"/><stop offset="0.5614" stop-color="#61ff00"/><stop offset="0.5643" stop-color="#2cff00"/><stop offset="0.5671" stop-color="#00ff00"/><stop offset="0.6757" stop-color="#00ff00"/><stop offset="0.6786" stop-color="#00ff23"/><stop offset="0.7843" stop-color="#00fffb"/><stop offset="0.7871" stop-color="#00feff"/><stop offset="0.8557" stop-color="#007fff"/><stop offset="0.9071" stop-color="#002eff"/><stop offset="0.9186" stop-color="#0026ff"/><stop offset="0.9986" stop-color="#0006ff"/></linearGradient><linearGradient id="g163" x1="0" y1="0" x2="0" y2="1"><stop offset="0.001429" stop-color="#ff7600"/><stop offset="0.1614" stop-color="#ff3b00"/><stop offset="0.2471" stop-color="#ff2200"/><stop offset="0.31" stop-color="#ff1700"/><stop offset="0.3529" stop-color="#ff1500"/><stop offset="0.3871" stop-color="#ff1f00"/><stop offset="0.4214" stop-color="#ff3100"/><stop offset="0.4443" stop-color="#ff6100"/><stop offset="0.4614" stop-color="#ff7d00"/><stop offset="0.4729" stop-color="#ff9300"/><stop offset="0.4871" stop-color="#ffb400"/><stop offset="0.5043" stop-color="#ffe600"/><stop offset="0.5157" stop-color="#fffd00"/><stop offset="0.5243" stop-color="#eeff00"/><stop offset="0.53" stop-color="#dcff00"/><stop offset="0.5586" stop-color="#69ff00"/><stop offset="0.5614" stop-color="#56ff00"/><stop offset="0.5643" stop-color="#1aff00"/><stop offset="0.5671" stop-color="#00ff00"/><stop offset="0.6757" stop-color="#00ff00"/><stop offset="0.6786" stop-color="#00ff23"/><stop offset="0.7843" stop-color="#00fffb"/><stop offset="0.7871" stop-color="#00fdff"/><stop offset="0.8043" stop-color="#00dfff"/><stop offset="0.8557" stop-color="#007eff"/><stop offset="0.9071" stop-color="#002eff"/><stop offset="0.9186" stop-color="#0026ff"/><stop offset="0.9986" stop-color="#0006ff"/></linearGradient><linearGradient id="g164" x1="0" y1="0" x2="0" y2="1"><stop offset="0.001429" stop-color="#ff7500"/><stop offset="0.1614" stop-color="#ff3a00"/><stop offset="0.2471" stop-color="#ff2200"/><stop offset="0.31" stop-color="#ff1700"/><stop offset="0.3529" stop-color="#ff1400"/><stop offset="0.3871" stop-color="#ff1f00"/><stop offset="0.4214" stop-color="#ff3100"/><stop offset="0.4443" stop-color="#ff6100"/><stop offset="0.4614" stop-color="#ff7d00"/><stop offset="0.4729" stop-color="#ff9300"/><stop offset="0.4871" stop-color="#ffb500"/><stop offset="0.5043" stop-color="#ffe600"/><stop offset="0.5157" stop-color="#fffd00"/><stop offset="0.5214" stop-color="#f4ff00"/><stop offset="0.5271" stop-color="#e4ff00"/><stop offset="0.5586" stop-color="#65ff00"/><stop offset="0.5614" stop-color="#44ff00"/><stop offset="0.5643" stop-color="#09ff00"/><stop offset="0.5671" stop-color="#00ff00"/><stop offset="0.6757" stop-color="#00ff00"/><stop offset="0.6786" stop-color="#00ff23"/><stop offset="0.7843" stop-color="#00fffc"/><stop offset="0.7871" stop-color="#00fdff"/><stop offset="0.8043" stop-color="#00deff"/><stop offset="0.8557" stop-color="#007eff"/><stop offset="0.9071" stop-color="#002dff"/><stop offset="0.9186" stop-color="#0025ff"/><stop offset="0.9986" stop-color="#0006ff"/></linearGradient><linearGradient id="g165" x1="0" y1="0" x2="0" y2="1"><stop offset="0.001429" stop-color="#ff7500"/><stop offset="0.1614" stop-color="#ff3a00"/><stop offset="0.2471" stop-color="#ff2100"/><stop offset="0.31" stop-color="#ff1600"/><stop offset="0.3529" stop-color="#ff1400"/><stop offset="0.3871" stop-color="#ff1f00"/><stop offset="0.4214" stop-color="#ff3000"/><stop offset="0.4443" stop-color="#ff6100"/><stop offset="0.47" stop-color="#ff8e00"/><stop offset="0.4843" stop-color="#ffae00"/><stop offset="0.5043" stop-color="#ffe700"/><stop offset="0.5157" stop-color="#fffe00"/><stop offset="0.5214" stop-color="#f3ff00"/><stop offset="0.5271" stop-color="#e3ff00"/><stop offset="0.5586" stop-color="#62ff00"/><stop offset="0.5643" stop-color="#00ff00"/><stop offset="0.6757" stop-color="#00ff00"/><stop offset="0.6786" stop-color="#00ff24"/><stop offset="0.7843" stop-color="#00fffc"/><stop offset="0.7871" stop-color="#00fdff"/><stop offset="0.8071" stop-color="#00d9ff"/><stop offset="0.8529" stop-color="#0082ff"/><stop offset="0.9071" stop-color="#002dff"/><stop offset="0.9186" stop-color="#0025ff"/><stop offset="0.9986" stop-color="#0006ff"/></linearGradient><linearGradient id="g166" x1="0" y1="0" x2="0" y2="1"><stop offset="0.001429" stop-color="#ff7400"/><stop offset="0.1614" stop-color="#ff3900"/><stop offset="0.2471" stop-color="#ff2000"/><stop offset="0.3071" stop-color="#ff1600"/><stop offset="0.3529" stop-color="#ff1400"/><stop offset="0.3871" stop-color="#ff1e00"/><stop offset="0.4214" stop-color="#ff3000"/><stop offset="0.4443" stop-color="#ff6100"/><stop offset="0.47" stop-color="#ff8e00"/><stop offset="0.4843" stop-color="#ffae00"/><stop offset="0.5043" stop-color="#ffe700"/><stop offset="0.5157" stop-color="#fffe00"/><stop offset="0.5271" stop-color="#e1ff00"/><stop offset="0.5586" stop-color="#5dff00"/><stop offset="0.5614" stop-color="#20ff00"/><stop offset="0.5643" stop-color="#00ff00"/><stop offset="0.6729" stop-color="#00ff00"/><stop offset="0.6757" stop-color="#00ff0b"/><stop offset="0.6786" stop-color="#00ff24"/><stop offset="0.7843" stop-color="#00fffc"/><stop offset="0.8071" stop-color="#00d8ff"/><stop offset="0.8529" stop-color="#0081ff"/><stop offset="0.9071" stop-color="#002dff"/><stop offset="0.9186" stop-color="#0025ff"/><stop offset="0.9986" stop-color="#0006ff"/></linearGradient><linearGradient id="g167" x1="0" y1="0" x2="0" y2="1"><stop offset="0.001429" stop-color="#ff7300"/><stop offset="0.1614" stop-color="#ff3800"/><stop offset="0.2471" stop-color="#ff2000"/><stop offset="0.3071" stop-color="#ff1500"/><stop offset="0.3529" stop-color="#ff1300"/><stop offset="0.3871" stop-color="#ff1e00"/><stop offset="0.4214" stop-color="#ff3000"/><stop offset="0.4443" stop-color="#ff6100"/><stop offset="0.47" stop-color="#ff8e00"/><stop offset="0.4843" stop-color="#ffaf00"/><stop offset="0.5043" stop-color="#ffe700"/><stop offset="0.5157" stop-color="#ffff00"/><stop offset="0.5271" stop-color="#e0ff00"/><stop offset="0.5557" stop-color="#67ff00"/><stop offset="0.5586" stop-color="#4bff00"/><stop offset="0.5614" stop-color="#0fff00"/><stop offset="0.5643" stop-color="#00ff00"/><stop offset="0.6729" stop-color="#00ff00"/><stop offset="0.6757" stop-color="#00ff1e"/><stop offset="0.7843" stop-color="#00fffd"/><stop offset="0.8071" stop-color="#00d8ff"/><stop offset="0.8529" stop-color="#0081ff"/><stop offset="0.9071" stop-color="#002dff"/><stop offset="0.9186" stop-color="#0025ff"/><stop offset="0.9986" stop-color="#0006ff"/></linearGradient><linearGradient id="g168" x1="0" y1="0" x2="0" y2="1"><stop offset="0.001429" stop-color="#ff7300"/><stop offset="0.1614" stop-color="#ff3800"/><stop offset="0.2471" stop-color="#ff1f00"/><stop offset="0.3071" stop-color="#ff1400"/><stop offset="0.3529" stop-color="#ff1300"/><stop offset="0.3871" stop-color="#ff1e00"/><stop offset="0.4214" stop-color="#ff3000"/><stop offset="0.4443" stop-color="#ff6000"/><stop offset="0.47" stop-color="#ff8e00"/><stop offset="0.4843" stop-color="#ffaf00"/><stop offset="0.5043" stop-color="#ffe800"/><stop offset="0.5157" stop-color="#ffff00"/><stop offset="0.5271" stop-color="#deff00"/><stop offset="0.5557" stop-color="#64ff00"/><stop offset="0.5586" stop-color="#39ff00"/><stop offset="0.5614" stop-color="#01ff00"/><stop offset="0.6729" stop-color="#00ff00"/><stop offset="0.6757" stop-color="#00ff1e"/><stop offset="0.7843" stop-color="#00fffd"/><stop offset="0.8071" stop-color="#00d7ff"/><stop offset="0.8529" stop-color="#0080ff"/><stop offset="0.9071" stop-color="#002dff"/><stop offset="0.9186" stop-color="#0025ff"/><stop offset="0.9986" stop-color="#0006ff"/></linearGradient><linearGradient id="g169" x1="0" y1="0" x2="0" y2="1"><stop offset="0.001429" stop-color="#ff7200"/><stop offset="0.1614" stop-color="#ff3700"/><stop offset="0.2443" stop-color="#ff1f00"/><stop offset="0.3043" stop-color="#ff1400"/><stop offset="0.35" stop-color="#ff1200"/><stop offset="0.3871" stop-color="#ff1d00"/><stop offset="0.4214" stop-color="#ff2f00"/><stop offset="0.4443" stop-color="#ff6000"/><stop offset="0.47" stop-color="#ff8f00"/><stop offset="0.4843" stop-color="#ffb000"/><stop offset="0.5043" stop-color="#ffe800"/><stop offset="0.5157" stop-color="#feff00"/><stop offset="0.5271" stop-color="#dcff00"/><stop offset="0.5557" stop-color="#60ff00"/><stop offset="0.5586" stop-color="#27ff00"/><stop offset="0.5614" stop-color="#00ff00"/><stop offset="0.6729" stop-color="#00ff00"/><stop offset="0.6757" stop-color="#00ff1e"/><stop offset="0.7843" stop-color="#00fffd"/><stop offset="0.8529" stop-color="#0080ff"/><stop offset="0.9071" stop-color="#002cff"/><stop offset="0.9186" stop-color="#0025ff"/><stop offset="0.9986" stop-color="#0006ff"/></linearGradient><linearGradient id="g170" x1="0" y1="0" x2="0" y2="1"><stop offset="0.001429" stop-color="#ff7100"/><stop offset="0.1614" stop-color="#ff3600"/><stop offset="0.2443" stop-color="#ff1e00"/><stop offset="0.3043" stop-color="#ff1400"/><stop offset="0.35" stop-color="#ff1100"/><stop offset="0.3871" stop-color="#ff1d00"/><stop offset="0.4214" stop-color="#ff2f00"/><stop offset="0.4443" stop-color="#ff6000"/><stop offset="0.4729" stop-color="#ff9500"/><stop offset="0.4871" stop-color="#ffb800"/><stop offset="0.5043" stop-color="#ffe900"/><stop offset="0.5129" stop-color="#fffb00"/><stop offset="0.5157" stop-color="#feff00"/><stop offset="0.5243" stop-color="#e5ff00"/><stop offset="0.5529" stop-color="#69ff00"/><stop offset="0.5557" stop-color="#53ff00"/><stop offset="0.5586" stop-color="#15ff00"/><stop offset="0.5614" stop-color="#00ff00"/><stop offset="0.6729" stop-color="#00ff00"/><stop offset="0.6757" stop-color="#00ff1f"/><stop offset="0.7843" stop-color="#00fffe"/><stop offset="0.8529" stop-color="#007fff"/><stop offset="0.9071" stop-color="#002cff"/><stop offset="0.9986" stop-color="#0006ff"/></linearGradient><linearGradient id="g171" x1="0" y1="0" x2="0" y2="1"><stop offset="0.001429" stop-color="#ff7100"/><stop offset="0.1614" stop-color="#ff3600"/><stop offset="0.2471" stop-color="#ff1d00"/><stop offset="0.3043" stop-color="#ff1300"/><stop offset="0.35" stop-color="#ff1100"/><stop offset="0.3871" stop-color="#ff1d00"/><stop offset="0.4214" stop-color="#ff2f00"/><stop offset="0.4443" stop-color="#ff6000"/><stop offset="0.47" stop-color="#ff8f00"/><stop offset="0.4843" stop-color="#ffb000"/><stop offset="0.5043" stop-color="#ffe900"/><stop offset="0.5129" stop-color="#fffb00"/><stop offset="0.5157" stop-color="#fdff00"/><stop offset="0.5243" stop-color="#e4ff00"/><stop offset="0.5529" stop-color="#65ff00"/><stop offset="0.5557" stop-color="#40ff00"/><stop offset="0.5586" stop-color="#04ff00"/><stop offset="0.5614" stop-color="#00ff00"/><stop offset="0.6729" stop-color="#00ff00"/><stop offset="0.6757" stop-color="#00ff1f"/><stop offset="0.7843" stop-color="#00fffe"/><stop offset="0.8529" stop-color="#007fff"/><stop offset="0.9071" stop-color="#002cff"/><stop offset="0.9986" stop-color="#0006ff"/></linearGradient><linearGradient id="g172" x1="0" y1="0" x2="0" y2="1"><stop offset="0.001429" stop-color="#ff7000"/><stop offset="0.1643" stop-color="#ff3400"/><stop offset="0.2471" stop-color="#ff1c00"/><stop offset="0.3043" stop-color="#ff1200"/><stop offset="0.35" stop-color="#ff1000"/><stop offset="0.3871" stop-color="#ff1c00"/><stop offset="0.4214" stop-color="#ff2f00"/><stop offset="0.4443" stop-color="#ff6000"/><stop offset="0.47" stop-color="#ff9000"/><stop offset="0.4843" stop-color="#ffb100"/><stop offset="0.5043" stop-color="#ffea00"/><stop offset="0.5129" stop-color="#fffc00"/><stop offset="0.5157" stop-color="#fcff00"/><stop offset="0.5243" stop-color="#e2ff00"/><stop offset="0.5529" stop-color="#62ff00"/><stop offset="0.5557" stop-color="#2eff00"/><stop offset="0.5586" stop-color="#00ff00"/><stop offset="0.6729" stop-color="#00ff00"/><stop offset="0.6757" stop-color="#00ff1f"/><stop offset="0.7843" stop-color="#00fffe"/><stop offset="0.85" stop-color="#0083ff"/><stop offset="0.9071" stop-color="#002cff"/><stop offset="0.9986" stop-color="#0006ff"/></linearGradient><linearGradient id="g173" x1="0" y1="0" x2="0" y2="1"><stop offset="0.001429" stop-color="#ff6f00"/><stop offset="0.06714" stop-color="#ff5a00"/><stop offset="0.1643" stop-color="#ff3300"/><stop offset="0.2471" stop-color="#ff1b00"/><stop offset="0.3043" stop-color="#ff1200"/><stop offset="0.35" stop-color="#ff1000"/><stop offset="0.3871" stop-color="#ff1c00"/><stop offset="0.4214" stop-color="#ff2f00"/><stop offset="0.4443" stop-color="#ff5f00"/><stop offset="0.47" stop-color="#ff9000"/><stop offset="0.4843" stop-color="#ffb100"/><stop offset="0.5043" stop-color="#ffea00"/><stop offset="0.5129" stop-color="#fffc00"/><stop offset="0.5157" stop-color="#fbff00"/><stop offset="0.5243" stop-color="#e1ff00"/><stop offset="0.55" stop-color="#6bff00"/><stop offset="0.5529" stop-color="#5bff00"/><stop offset="0.5557" stop-color="#1bff00"/><stop offset="0.5586" stop-color="#00ff00"/><stop offset="0.6729" stop-color="#00ff00"/><stop offset="0.6757" stop-color="#00ff1f"/><stop offset="0.7843" stop-color="#00ffff"/><stop offset="0.85" stop-color="#0083ff"/><stop offset="0.9071" stop-color="#002bff"/><stop offset="0.9986" stop-color="#0005ff"/></linearGradient><linearGradient id="g174" x1="0" y1="0" x2="0" y2="1"><stop offset="0.001429" stop-color="#ff6f00"/><stop offset="0.06714" stop-color="#ff5900"/><stop offset="0.1643" stop-color="#ff3300"/><stop offset="0.2471" stop-color="#ff1b00"/><stop offset="0.3043" stop-color="#ff1100"/><stop offset="0.35" stop-color="#ff0f00"/><stop offset="0.3871" stop-color="#ff1c00"/><stop offset="0.4214" stop-color="#ff2e00"/><stop offset="0.4443" stop-color="#ff5f00"/><stop offset="0.47" stop-color="#ff9000"/><stop offset="0.4843" stop-color="#ffb200"/><stop offset="0.5043" stop-color="#ffeb00"/><stop offset="0.5129" stop-color="#fffd00"/><stop offset="0.5186" stop-color="#f3ff00"/><stop offset="0.5243" stop-color="#dfff00"/><stop offset="0.55" stop-color="#67ff00"/><stop offset="0.5529" stop-color="#48ff00"/><stop offset="0.5557" stop-color="#09ff00"/><stop offset="0.5586" stop-color="#00ff00"/><stop offset="0.6729" stop-color="#00ff00"/><stop offset="0.6757" stop-color="#00ff1f"/><stop offset="0.7843" stop-color="#00ffff"/><stop offset="0.85" stop-color="#0082ff"/><stop offset="0.9071" stop-color="#002bff"/><stop offset="0.9986" stop-color="#0005ff"/></linearGradient><linearGradient id="g175" x1="0" y1="0" x2="0" y2="1"><stop offset="0.001429" stop-color="#ff6e00"/><stop offset="0.06714" stop-color="#ff5900"/><stop offset="0.1643" stop-color="#ff3200"/><stop offset="0.2471" stop-color="#ff1a00"/><stop offset="0.3043" stop-color="#ff1000"/><stop offset="0.35" stop-color="#ff0f00"/><stop offset="0.3871" stop-color="#ff1b00"/><stop offset="0.4214" stop-color="#ff2e00"/><stop offset="0.4443" stop-color="#ff5f00"/><stop offset="0.47" stop-color="#ff9000"/><stop offset="0.4843" stop-color="#ffb200"/><stop offset="0.5043" stop-color="#ffeb00"/><stop offset="0.5129" stop-color="#fffd00"/><stop offset="0.5186" stop-color="#f2ff00"/><stop offset="0.5243" stop-color="#ddff00"/><stop offset="0.55" stop-color="#64ff00"/><stop offset="0.5529" stop-color="#35ff00"/><stop offset="0.5557" stop-color="#00ff00"/><stop offset="0.6729" stop-color="#00ff00"/><stop offset="0.6757" stop-color="#00ff20"/><stop offset="0.7814" stop-color="#00fffa"/><stop offset="0.7843" stop-color="#00ffff"/><stop offset="0.85" stop-color="#0081ff"/><stop offset="0.9071" stop-color="#002bff"/><stop offset="0.9214" stop-color="#0022ff"/><stop offset="0.9986" stop-color="#0005ff"/></linearGradient><linearGradient id="g176" x1="0" y1="0" x2="0" y2="1"><stop offset="0.001429" stop-color="#ff6e00"/><stop offset="0.06714" stop-color="#ff5900"/><stop offset="0.1643" stop-color="#ff3100"/><stop offset="0.2471" stop-color="#ff1900"/><stop offset="0.3043" stop-color="#ff1000"/><stop offset="0.35" stop-color="#ff0e00"/><stop offset="0.3871" stop-color="#ff1b00"/><stop offset="0.4214" stop-color="#ff2e00"/><stop offset="0.47" stop-color="#ff9100"/><stop offset="0.4843" stop-color="#ffb300"/><stop offset="0.5043" stop-color="#ffec00"/><stop offset="0.5129" stop-color="#fffe00"/><stop offset="0.5186" stop-color="#f0ff00"/><stop offset="0.5243" stop-color="#dbff00"/><stop offset="0.55" stop-color="#60ff00"/><stop offset="0.5529" stop-color="#22ff00"/><stop offset="0.5557" stop-color="#00ff00"/><stop offset="0.6729" stop-color="#00ff00"/><stop offset="0.6757" stop-color="#00ff20"/><stop offset="0.7814" stop-color="#00fffa"/><stop offset="0.7843" stop-color="#00feff"/><stop offset="0.85" stop-color="#0081ff"/><stop offset="0.9071" stop-color="#002bff"/><stop offset="0.93" stop-color="#001eff"/><stop offset="0.9986" stop-color="#0005ff"/></linearGradient><linearGradient id="g177" x1="0" y1="0" x2="0" y2="1"><stop offset="0.001429" stop-color="#ff6d00"/><stop offset="0.06714" stop-color="#ff5800"/><stop offset="0.1643" stop-color="#ff3100"/><stop offset="0.2471" stop-color="#ff1900"/><stop offset="0.3043" stop-color="#ff0f00"/><stop offset="0.35" stop-color="#ff0e00"/><stop offset="0.3871" stop-color="#ff1b00"/><stop offset="0.4214" stop-color="#ff2e00"/><stop offset="0.47" stop-color="#ff9100"/><stop offset="0.4843" stop-color="#ffb300"/><stop offset="0.5043" stop-color="#ffec00"/><stop offset="0.5129" stop-color="#fffe00"/><stop offset="0.5186" stop-color="#efff00"/><stop offset="0.5243" stop-color="#d9ff00"/><stop offset="0.5471" stop-color="#69ff00"/><stop offset="0.55" stop-color="#50ff00"/><stop offset="0.5529" stop-color="#0fff00"/><stop offset="0.5557" stop-color="#00ff00"/><stop offset="0.6729" stop-color="#00ff00"/><stop offset="0.6757" stop-color="#00ff20"/><stop offset="0.7814" stop-color="#00fffa"/><stop offset="0.7843" stop-color="#00feff"/><stop offset="0.85" stop-color="#0080ff"/><stop offset="0.9071" stop-color="#002aff"/><stop offset="0.9386" stop-color="#0019ff"/><stop offset="0.9986" stop-color="#0005ff"/></linearGradient><linearGradient id="g178" x1="0" y1="0" x2="0" y2="1"><stop offset="0.001429" stop-color="#ff6c00"/><stop offset="0.06714" stop-color="#ff5800"/><stop offset="0.1643" stop-color="#ff3000"/><stop offset="0.2471" stop-color="#ff1800"/><stop offset="0.3043" stop-color="#ff0e00"/><stop offset="0.35" stop-color="#ff0d00"/><stop offset="0.3871" stop-color="#ff1a00"/><stop offset="0.4214" stop-color="#ff2d00"/><stop offset="0.47" stop-color="#ff9100"/><stop offset="0.4843" stop-color="#ffb300"/><stop offset="0.5043" stop-color="#ffed00"/><stop offset="0.5129" stop-color="#ffff00"/><stop offset="0.5186" stop-color="#eeff00"/><stop offset="0.5243" stop-color="#d7ff00"/><stop offset="0.5471" stop-color="#65ff00"/><stop offset="0.55" stop-color="#3cff00"/><stop offset="0.5529" stop-color="#01ff00"/><stop offset="0.6729" stop-color="#00ff00"/><stop offset="0.6757" stop-color="#00ff20"/><stop offset="0.7814" stop-color="#00fffb"/><stop offset="0.7843" stop-color="#00feff"/><stop offset="0.85" stop-color="#0080ff"/><stop offset="0.9071" stop-color="#002aff"/><stop offset="0.9443" stop-color="#0016ff"/><stop offset="0.9986" stop-color="#0005ff"/></linearGradient><linearGradient id="g179" x1="0" y1="0" x2="0" y2="1"><stop offset="0.001429" stop-color="#ff6c00"/><stop offset="0.06714" stop-color="#ff5700"/><stop offset="0.1643" stop-color="#ff2f00"/><stop offset="0.2471" stop-color="#ff1700"/><stop offset="0.3043" stop-color="#ff0e00"/><stop offset="0.35" stop-color="#ff0d00"/><stop offset="0.3871" stop-color="#ff1a00"/><stop offset="0.4214" stop-color="#ff2d00"/><stop offset="0.47" stop-color="#ff9200"/><stop offset="0.4843" stop-color="#ffb400"/><stop offset="0.5043" stop-color="#ffed00"/><stop offset="0.5129" stop-color="#ffff00"/><stop offset="0.5186" stop-color="#edff00"/><stop offset="0.5243" stop-color="#d5ff00"/><stop offset="0.5471" stop-color="#62ff00"/><stop offset="0.55" stop-color="#29ff00"/><stop offset="0.5529" stop-color="#00ff00"/><stop offset="0.6729" stop-color="#00ff00"/><stop offset="0.6757" stop-color="#00ff20"/><stop offset="0.7814" stop-color="#00fffb"/><stop offset="0.7843" stop-color="#00fdff"/><stop offset="0.7986" stop-color="#00e3ff"/><stop offset="0.85" stop-color="#007fff"/><stop offset="0.9071" stop-color="#002aff"/><stop offset="0.9529" stop-color="#0012ff"/><stop offset="0.9986" stop-color="#0005ff"/></linearGradient><linearGradient id="g180" x1="0" y1="0" x2="0" y2="1"><stop offset="0.001429" stop-color="#ff6b00"/><stop offset="0.06714" stop-color="#ff5700"/><stop offset="0.1643" stop-color="#ff2f00"/><stop offset="0.2471" stop-color="#ff1700"/><stop offset="0.3043" stop-color="#ff0d00"/><stop offset="0.35" stop-color="#ff0d00"/><stop offset="0.3871" stop-color="#ff1a00"/><stop offset="0.4214" stop-color="#ff2d00"/><stop offset="0.47" stop-color="#ff9200"/><stop offset="0.4843" stop-color="#ffb400"/><stop offset="0.5014" stop-color="#ffe600"/><stop offset="0.51" stop-color="#fffa00"/><stop offset="0.5129" stop-color="#feff00"/><stop offset="0.5214" stop-color="#e0ff00"/><stop offset="0.5443" stop-color="#6bff00"/><stop offset="0.5471" stop-color="#59ff00"/><stop offset="0.55" stop-color="#16ff00"/><stop offset="0.5529" stop-color="#00ff00"/><stop offset="0.6729" stop-color="#00ff00"/><stop offset="0.6757" stop-color="#00ff21"/><stop offset="0.7814" stop-color="#00fffb"/><stop offset="0.7843" stop-color="#00fdff"/><stop offset="0.79" stop-color="#00f3ff"/><stop offset="0.85" stop-color="#007fff"/><stop offset="0.9071" stop-color="#002aff"/><stop offset="0.9586" stop-color="#000eff"/><stop offset="0.9986" stop-color="#0005ff"/></linearGradient><linearGradient id="g181" x1="0" y1="0" x2="0" y2="1"><stop offset="0.001429" stop-color="#ff6b00"/><stop offset="0.06714" stop-color="#ff5600"/><stop offset="0.1643" stop-color="#ff2e00"/><stop offset="0.2471" stop-color="#ff1600"/><stop offset="0.3043" stop-color="#ff0d00"/><stop offset="0.35" stop-color="#ff0c00"/><stop offset="0.3871" stop-color="#ff1900"/><stop offset="0.4214" stop-color="#ff2d00"/><stop offset="0.47" stop-color="#ff9200"/><stop offset="0.4843" stop-color="#ffb500"/><stop offset="0.5014" stop-color="#ffe600"/><stop offset="0.51" stop-color="#fffb00"/><stop offset="0.5129" stop-color="#fdff00"/><stop offset="0.5214" stop-color="#deff00"/><stop offset="0.5443" stop-color="#68ff00"/><stop offset="0.5471" stop-color="#48ff00"/><stop offset="0.55" stop-color="#07ff00"/><stop offset="0.5529" stop-color="#00ff00"/><stop offset="0.6729" stop-color="#00ff00"/><stop offset="0.6757" stop-color="#00ff21"/><stop offset="0.7814" stop-color="#00fffb"/><stop offset="0.7843" stop-color="#00feff"/><stop offset="0.79" stop-color="#00f3ff"/><stop offset="0.85" stop-color="#007eff"/><stop offset="0.9071" stop-color="#002aff"/><stop offset="0.9586" stop-color="#000eff"/><stop offset="0.9986" stop-color="#0005ff"/></linearGradient></defs><g shape-rendering="crispEdges"><rect x="72" y="39" width="3" height="350" fill="url(#g0)"/><rect x="74" y="39" width="3" height="350" fill="url(#g1)"/><rect x="76" y="39" width="3" height="350" fill="url(#g2)"/><rect x="78" y="39" width="3" height="350" fill="url(#g3)"/><rect x="80" y="39" width="3" height="350" fill="url(#g4)"/><rect x="82" y="39" width="3" height="350" fill="url(#g5)"/><rect x="84" y="39" width="3" height="350" fill="url(#g6)"/><rect x="86" y="39" width="3" height="350" fill="url(#g7)"/><rect x="88" y="39" width="3" height="350" fill="url(#g8)"/><rect x="90" y="39" width="3" height="350" fill="url(#g9)"/><rect x="92" y="39" width="3" height="350" fill="url(#g10)"/><rect x="94" y="39" width="3" height="350" fill="url(#g11)"/><rect x="96" y="39" width="3" height="350" fill="url(#g12)"/><rect x="98" y="39" width="3" height="350" fill="url(#g13)"/><rect x="100" y="39" width="3" height="350" fill="url(#g14)"/><rect x="102" y="39" width="3" height="350" fill="url(#g15)"/><rect x="104" y="39" width="3" height="350" fill="url(#g16)"/><rect x="106" y="39" width="3" height="350" fill="url(#g17)"/><rect x="108" y="39" width="3" height="350" fill="url(#g18)"/><rect x="110" y="39" width="3" height="350" fill="url(#g19)"/><rect x="112" y="39" width="3" height="350" fill="url(#g20)"/><rect x="114" y="39" width="3" height="350" fill="url(#g21)"/><rect x="116" y="39" width="3" height="350" fill="url(#g22)"/><rect x="118" y="39" width="3" height="350" fill="url(#g23)"/><rect x="120" y="39" width="3" height="350" fill="url(#g24)"/><rect x="122" y="39" width="3" height="350" fill="url(#g25)"/><rect x="124" y="39" width="3" height="350" fill="url(#g26)"/><rect x="126" y="39" width="3" height="350" fill="url(#g27)"/><rect x="128" y="39" width="3" height="350" fill="url(#g28)"/><rect x="130" y="39" width="3" height="350" fill="url(#g29)"/><rect x="132" y="39" width="3" height="350" fill="url(#g30)"/><rect x="134" y="39" width="3" height="350" fill="url(#g31)"/><rect x="136" y="39" width="3" height="350" fill="url(#g32)"/><rect x="138" y="39" width="3" height="350" fill="url(#g33)"/><rect x="140" y="39" width="3" height="350" fill="url(#g34)"/><rect x="142" y="39" width="3" height="350" fill="url(#g35)"/><rect x="144" y="39" width="3" height="350" fill="url(#g36)"/><rect x="146" y="39" width="3" height="350" fill="url(#g37)"/><rect x="148" y="39" width="3" height="350" fill="url(#g38)"/><rect x="150" y="39" width="3" height="350" fill="url(#g39)"/><rect x="152" y="39" width="3" height="350" fill="url(#g40)"/><rect x="154" y="39" width="3" height="350" fill="url(#g41)"/><rect x="156" y="39" width="3" height="350" fill="url(#g42)"/><rect x="158" y="39" width="3" height="350" fill="url(#g43)"/><rect x="160" y="39" width="3" height="350" fill="url(#g44)"/><rect x="162" y="39" width="3" height="350" fill="url(#g45)"/><rect x="164" y="39" width="3" height="350" fill="url(#g46)"/><rect x="166" y="39" width="3" height="350" fill="url(#g47)"/><rect x="168" y="39" width="3" height="350" fill="url(#g48)"/><rect x="170" y="39" width="3" height="350" fill="url(#g49)"/><rect x="172" y="39" width="3" height="350" fill="url(#g50)"/><rect x="174" y="39" width="3" height="350" fill="url(#g51)"/><rect x="176" y="39" width="3" height="350" fill="url(#g52)"/><rect x="178" y="39" width="3" height="350" fill="url(#g53)"/><rect x="180" y="39" width="3" height="350" fill="url(#g54)"/><rect x="182" y="39" width="3" height="350" fill="url(#g55)"/><rect x="184" y="39" width="3" height="350" fill="url(#g56)"/><rect x="186" y="39" width="3" height="350" fill="url(#g57)"/><rect x="188" y="39" width="3" height="350" fill="url(#g58)"/><rect x="190" y="39" width="3" height="350" fill="url(#g59)"/><rect x="192" y="39" width="3" height="350" fill="url(#g60)"/><rect x="194" y="39" width="3" height="350" fill="url(#g61)"/><rect x="196" y="39" width="3" height="350" fill="url(#g62)"/><rect x="198" y="39" width="3" height="350" fill="url(#g63)"/><rect x="200" y="39" width="3" height="350" fill="url(#g64)"/><rect x="202" y="39" width="3" height="350" fill="url(#g65)"/><rect x="204" y="39" width="3" height="350" fill="url(#g66)"/><rect x="206" y="39" width="3" height="350" fill="url(#g67)"/><rect x="208" y="39" width="3" height="350" fill="url(#g68)"/><rect x="210" y="39" width="3" height="350" fill="url(#g69)"/><rect x="212" y="39" width="3" height="350" fill="url(#g70)"/><rect x="214" y="39" width="3" height="350" fill="url(#g71)"/><rect x="216" y="39" width="3" height="350" fill="url(#g72)"/><rect x="218" y="39" width="3" height="350" fill="url(#g73)"/><rect x="220" y="39" width="3" height="350" fill="url(#g74)"/><rect x="222" y="39" width="3" height="350" fill="url(#g75)"/><rect x="224" y="39" width="3" height="350" fill="url(#g76)"/><rect x="226" y="39" width="3" height="350" fill="url(#g77)"/><rect x="228" y="39" width="3" height="350" fill="url(#g78)"/><rect x="230" y="39" width="3" height="350" fill="url(#g79)"/><rect x="232" y="39" width="3" height="350" fill="url(#g80)"/><rect x="234" y="39" width="3" height="350" fill="url(#g81)"/><rect x="236" y="39" width="3" height="350" fill="url(#g82)"/><rect x="238" y="39" width="3" height="350" fill="url(#g83)"/><rect x="240" y="39" width="3" height="350" fill="url(#g84)"/><rect x="242" y="39" width="3" height="350" fill="url(#g85)"/><rect x="244" y="39" width="3" height="350" fill="url(#g86)"/><rect x="246" y="39" width="3" height="350" fill="url(#g87)"/><rect x="248" y="39" width="3" height="350" fill="url(#g88)"/><rect x="250" y="39" width="3" height="350" fill="url(#g89)"/><rect x="252" y="39" width="3" height="350" fill="url(#g90)"/><rect x="254" y="39" width="3" height="350" fill="url(#g91)"/><rect x="256" y="39" width="3" height="350" fill="url(#g92)"/><rect x="258" y="39" width="3" height="350" fill="url(#g93)"/><rect x="260" y="39" width="3" height="350" fill="url(#g94)"/><rect x="262" y="39" width="3" height="350" fill="url(#g95)"/><rect x="264" y="39" width="3" height="350" fill="url(#g96)"/><rect x="266" y="39" width="3" height="350" fill="url(#g97)"/><rect x="268" y="39" width="3" height="350" fill="url(#g98)"/><rect x="270" y="39" width="3" height="350" fill="url(#g99)"/><rect x="272" y="39" width="3" height="350" fill="url(#g100)"/><rect x="274" y="39" width="3" height="350" fill="url(#g101)"/><rect x="276" y="39" width="3" height="350" fill="url(#g102)"/><rect x="278" y="39" width="3" height="350" fill="url(#g103)"/><rect x="280" y="39" width="3" height="350" fill="url(#g104)"/><rect x="282" y="39" width="3" height="350" fill="url(#g105)"/><rect x="284" y="39" width="3" height="350" fill="url(#g106)"/><rect x="286" y="39" width="3" height="350" fill="url(#g107)"/><rect x="288" y="39" width="3" height="350" fill="url(#g108)"/><rect x="290" y="39" width="3" height="350" fill="url(#g109)"/><rect x="292" y="39" width="3" height="350" fill="url(#g110)"/><rect x="294" y="39" width="3" height="350" fill="url(#g111)"/><rect x="296" y="39" width="3" height="350" fill="url(#g112)"/><rect x="298" y="39" width="3" height="350" fill="url(#g113)"/><rect x="300" y="39" width="3" height="350" fill="url(#g114)"/><rect x="302" y="39" width="3" height="350" fill="url(#g115)"/><rect x="304" y="39" width="3" height="350" fill="url(#g116)"/><rect x="306" y="39" width="3" height="350" fill="url(#g117)"/><rect x="308" y="39" width="3" height="350" fill="url(#g118)"/><rect x="310" y="39" width="3" height="350" fill="url(#g119)"/><rect x="312" y="39" width="3" height="350" fill="url(#g120)"/><rect x="314" y="39" width="3" height="350" fill="url(#g121)"/><rect x="316" y="39" width="3" height="350" fill="url(#g122)"/><rect x="318" y="39" width="3" height="350" fill="url(#g123)"/><rect x="320" y="39" width="3" height="350" fill="url(#g124)"/><rect x="322" y="39" width="3" height="350" fill="url(#g125)"/><rect x="324" y="39" width="3" height="350" fill="url(#g126)"/><rect x="326" y="39" width="3" height="350" fill="url(#g127)"/><rect x="328" y="39" width="3" height="350" fill="url(#g128)"/><rect x="330" y="39" width="3" height="350" fill="url(#g129)"/><rect x="332" y="39" width="3" height="350" fill="url(#g130)"/><rect x="334" y="39" width="3" height="350" fill="url(#g131)"/><rect x="336" y="39" width="3" height="350" fill="url(#g132)"/><rect x="338" y="39" width="3" height="350" fill="url(#g133)"/><rect x="340" y="39" width="3" height="350" fill="url(#g134)"/><rect x="342" y="39" width="3" height="350" fill="url(#g135)"/><rect x="344" y="39" width="3" height="350" fill="url(#g136)"/><rect x="346" y="39" width="3" height="350" fill="url(#g137)"/><rect x="348" y="39" width="3" height="350" fill="url(#g138)"/><rect x="350" y="39" width="3" height="350" fill="url(#g139)"/><rect x="352" y="39" width="3" height="350" fill="url(#g140)"/><rect x="354" y="39" width="3" height="350" fill="url(#g141)"/><rect x="356" y="39" width="3" height="350" fill="url(#g142)"/><rect x="358" y="39" width="3" height="350" fill="url(#g143)"/><rect x="360" y="39" width="3" height="350" fill="url(#g144)"/><rect x="362" y="39" width="3" height="350" fill="url(#g145)"/><rect x="364" y="39" width="3" height="350" fill="url(#g146)"/><rect x="366" y="39" width="3" height="350" fill="url(#g147)"/><rect x="368" y="39" width="3" height="350" fill="url(#g148)"/><rect x="370" y="39" width="3" height="350" fill="url(#g149)"/><rect x="372" y="39" width="3" height="350" fill="url(#g150)"/><rect x="374" y="39" width="3" height="350" fill="url(#g151)"/><rect x="376" y="39" width="3" height="350" fill="url(#g152)"/><rect x="378" y="39" width="3" height="350" fill="url(#g153)"/><rect x="380" y="39" width="3" height="350" fill="url(#g154)"/><rect x="382" y="39" width="3" height="350" fill="url(#g155)"/><rect x="384" y="39" width="3" height="350" fill="url(#g156)"/><rect x="386" y="39" width="3" height="350" fill="url(#g157)"/><rect x="388" y="39" width="3" height="350" fill="url(#g158)"/><rect x="390" y="39" width="3" height="350" fill="url(#g159)"/><rect x="392" y="39" width="3" height="350" fill="url(#g160)"/><rect x="394" y="39" width="3" height="350" fill="url(#g161)"/><rect x="396" y="39" width="3" height="350" fill="url(#g162)"/><rect x="398" y="39" width="3" height="350" fill="url(#g163)"/><rect x="400" y="39" width="3" height="350" fill="url(#g164)"/><rect x="402" y="39" width="3" height="350" fill="url(#g165)"/><rect x="404" y="39" width="3" height="350" fill="url(#g166)"/><rect x="406" y="39" width="3" height="350" fill="url(#g167)"/><rect x="408" y="39" width="3" height="350" fill="url(#g168)"/><rect x="410" y="39" width="3" height="350" fill="url(#g169)"/><rect x="412" y="39" width="3" height="350" fill="url(#g170)"/><rect x="414" y="39" width="3" height="350" fill="url(#g171)"/><rect x="416" y="39" width="3" height="350" fill="url(#g172)"/><rect x="418" y="39" width="3" height="350" fill="url(#g173)"/><rect x="420" y="39" width="3" height="350" fill="url(#g174)"/><rect x="422" y="39" width="3" height="350" fill="url(#g175)"/><rect x="424" y="39" width="3" height="350" fill="url(#g176)"/><rect x="426" y="39" width="3" height="350" fill="url(#g177)"/><rect x="428" y="39" width="3" height="350" fill="url(#g178)"/><rect x="430" y="39" width="3" height="350" fill="url(#g179)"/><rect x="432" y="39" width="3" height="350" fill="url(#g180)"/><rect x="434" y="39" width="2" height="350" fill="url(#g181)"/></g><defs><linearGradient id="cb" x1="0" y1="0" x2="0" y2="1"><stop offset="0.0000" stop-color="#ff0000"/><stop offset="0.2500" stop-color="#ffff00"/><stop offset="0.3450" stop-color="#5fff00"/><stop offset="0.3550" stop-color="#00ff00"/><stop offset="0.5550" stop-color="#00ff00"/><stop offset="0.5552" stop-color="#00ff1e"/><stop offset="0.7500" stop-color="#00ffff"/><stop offset="1.0000" stop-color="#0000ff"/></linearGradient></defs><g stroke="#000" stroke-width="1.50" fill="none"><rect x="71.5" y="39.1" width="365" height="349.7"/><line x1="65.00" y1="388.80" x2="71.5" y2="388.80"/><line x1="68.20" y1="361.88" x2="71.5" y2="361.88"/><line x1="65.00" y1="334.95" x2="71.5" y2="334.95"/><line x1="68.20" y1="308.03" x2="71.5" y2="308.03"/><line x1="65.00" y1="281.10" x2="71.5" y2="281.10"/><line x1="68.20" y1="254.18" x2="71.5" y2="254.18"/><line x1="65.00" y1="227.25" x2="71.5" y2="227.25"/><line x1="68.20" y1="200.33" x2="71.5" y2="200.33"/><line x1="65.00" y1="173.40" x2="71.5" y2="173.40"/><line x1="68.20" y1="146.48" x2="71.5" y2="146.48"/><line x1="65.00" y1="119.55" x2="71.5" y2="119.55"/><line x1="68.20" y1="92.62" x2="71.5" y2="92.62"/><line x1="65.00" y1="65.70" x2="71.5" y2="65.70"/><line x1="68.20" y1="38.78" x2="71.5" y2="38.78"/><line x1="71.50" y1="388.8" x2="71.50" y2="395.30"/><line x1="117.12" y1="388.8" x2="117.12" y2="392.10"/><line x1="162.75" y1="388.8" x2="162.75" y2="395.30"/><line x1="208.38" y1="388.8" x2="208.38" y2="392.10"/><line x1="254.00" y1="388.8" x2="254.00" y2="395.30"/><line x1="299.62" y1="388.8" x2="299.62" y2="392.10"/><line x1="345.25" y1="388.8" x2="345.25" y2="395.30"/><line x1="390.88" y1="388.8" x2="390.88" y2="392.10"/><line x1="436.50" y1="388.8" x2="436.50" y2="395.30"/></g><rect x="474.5" y="39.5" width="28" height="2.5" fill="#fff"/><rect x="474.5" y="42" width="28" height="344" fill="url(#cb)"/><rect x="474.5" y="386" width="28" height="3.3" fill="#000"/><rect x="474.5" y="39.5" width="28" height="349.8" fill="none" stroke="#222" stroke-width="0.9"/><g stroke="#000" stroke-width="1.3"><line x1="502.5" y1="42.0" x2="509" y2="42.0"/><line x1="502.5" y1="85.0" x2="509" y2="85.0"/><line x1="502.5" y1="128.0" x2="509" y2="128.0"/><line x1="502.5" y1="171.0" x2="509" y2="171.0"/><line x1="502.5" y1="214.0" x2="509" y2="214.0"/><line x1="502.5" y1="257.0" x2="509" y2="257.0"/><line x1="502.5" y1="300.0" x2="509" y2="300.0"/><line x1="502.5" y1="343.0" x2="509" y2="343.0"/><line x1="502.5" y1="386.0" x2="509" y2="386.0"/></g><g font-family="'Liberation Serif', 'Times New Roman', serif" fill="#000"><g font-size="15px" text-anchor="end"><text x="60.5" y="393.8">-20</text><text x="60.5" y="340.0">-10</text><text x="60.5" y="286.1">0</text><text x="60.5" y="232.3">10</text><text x="60.5" y="178.4">20</text><text x="60.5" y="124.6">30</text><text x="60.5" y="70.7">40</text></g><g font-size="15px" text-anchor="middle"><text x="71.5" y="412.8">1.0</text><text x="162.8" y="412.8">1.5</text><text x="254.0" y="412.8">2.0</text><text x="345.2" y="412.8">2.5</text><text x="436.5" y="412.8">3.0</text></g><g font-size="15px"><text x="515.5" y="47.0">854</text><text x="515.5" y="90.0">806</text><text x="515.5" y="133.0">772</text><text x="515.5" y="176.0">715</text><text x="515.5" y="219.0">610</text><text x="515.5" y="262.0">400</text><text x="515.5" y="305.0">120</text><text x="515.5" y="348.0">29</text><text x="515.5" y="391.0">0</text></g><text x="254" y="433.8" font-size="18.4px" text-anchor="middle">Charge rate</text><text x="489" y="26.8" font-size="18.4px" text-anchor="middle">Cycle numbers</text><text transform="translate(29,213.5) rotate(-90)" font-size="18.3px" text-anchor="middle" xml:space="preserve" style="white-space:pre">Temperature  (°C)</text></g></svg></body></html>
